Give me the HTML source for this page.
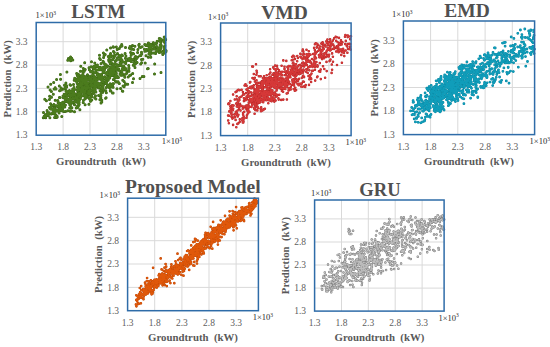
<!DOCTYPE html><html><head><meta charset="utf-8"><style>html,body{margin:0;padding:0;background:#fff;width:550px;height:347px;overflow:hidden}svg{display:block}text{font-family:"Liberation Serif",serif}</style></head><body>
<svg width="550" height="347" viewBox="0 0 550 347">
<g><path d="M63.1 22.5V135.2M36.2 111.8H165.8M90.0 22.5V135.2M36.2 88.4H165.8M116.9 22.5V135.2M36.2 65.1H165.8M143.8 22.5V135.2M36.2 41.7H165.8" stroke="#d9d9d9" stroke-width="1" fill="none"/><path d="M115.9 75.4h0M104.0 69.3h0M110.3 55.9h0M49.0 112.8h0M85.5 83.8h0M90.3 84.7h0M120.2 63.6h0M115.2 69.1h0M91.7 83.3h0M45.7 117.7h0M105.6 73.2h0M102.1 77.4h0M148.2 68.6h0M137.6 57.3h0M58.0 101.2h0M95.6 92.0h0M65.4 105.1h0M164.8 45.7h0M78.7 90.2h0M156.3 51.7h0M149.3 50.8h0M135.6 56.4h0M122.3 91.1h0M113.5 47.2h0M95.9 92.0h0M91.4 76.1h0M81.4 85.2h0M71.9 107.8h0M121.1 65.0h0M112.3 68.4h0M80.8 90.4h0M110.8 70.9h0M113.5 51.4h0M92.1 71.2h0M66.0 91.2h0M49.6 96.3h0M80.2 79.6h0M155.7 43.6h0M55.6 115.1h0M72.7 97.9h0M99.1 84.3h0M110.1 73.9h0M70.4 104.8h0M79.2 104.5h0M99.7 78.2h0M56.6 116.0h0M125.2 62.6h0M73.5 84.6h0M106.3 83.6h0M97.4 83.0h0M89.9 78.0h0M119.6 70.9h0M85.9 97.1h0M70.5 110.9h0M79.2 85.9h0M74.0 87.4h0M73.0 93.3h0M59.9 97.5h0M77.5 101.2h0M108.0 78.0h0M123.8 61.9h0M69.8 93.2h0M55.3 111.5h0M78.3 74.3h0M90.7 79.7h0M65.4 88.1h0M77.0 106.6h0M90.0 87.9h0M137.1 62.5h0M112.8 64.7h0M130.2 60.1h0M99.6 76.3h0M110.7 73.2h0M154.7 63.9h0M76.1 97.9h0M94.3 83.5h0M114.9 69.7h0M110.9 56.9h0M44.1 116.3h0M161.7 39.7h0M91.0 82.5h0M160.4 47.2h0M57.2 109.9h0M76.4 81.3h0M120.2 65.5h0M67.7 92.5h0M43.3 117.7h0M89.3 94.4h0M84.4 95.6h0M65.6 99.2h0M82.0 89.3h0M118.3 65.6h0M156.1 43.6h0M101.5 84.8h0M59.6 103.2h0M67.9 100.6h0M90.0 97.5h0M67.8 110.8h0M112.1 67.1h0M130.6 52.5h0M92.3 84.8h0M83.5 100.2h0M110.6 53.6h0M84.6 94.9h0M99.8 74.5h0M95.4 86.1h0M79.2 79.8h0M46.5 115.6h0M46.4 100.7h0M115.3 61.3h0M88.6 87.7h0M50.5 109.1h0M77.3 80.6h0M99.0 85.0h0M77.7 80.6h0M90.9 80.1h0M79.0 80.8h0M94.5 87.4h0M101.9 84.7h0M110.9 86.2h0M50.9 97.0h0M116.2 74.0h0M113.4 79.6h0M75.2 95.0h0M87.5 74.8h0M77.1 93.8h0M68.8 91.8h0M43.5 112.6h0M94.2 90.3h0M85.8 95.2h0M92.8 71.7h0M94.3 73.1h0M99.5 55.2h0M84.6 81.8h0M71.4 95.3h0M114.6 55.2h0M135.4 60.0h0M70.8 95.7h0M94.4 86.5h0M54.7 109.7h0M134.4 64.8h0M160.1 40.3h0M94.9 68.8h0M103.6 69.3h0M86.1 76.8h0M98.5 87.9h0M110.1 83.8h0M105.0 65.6h0M109.1 58.0h0M102.9 70.7h0M93.4 67.0h0M108.4 78.9h0M77.3 99.9h0M111.0 75.6h0M164.0 39.9h0M142.8 59.3h0M114.6 69.0h0M77.2 83.5h0M84.4 93.3h0M112.8 72.8h0M75.3 96.1h0M75.6 97.0h0M124.9 67.8h0M150.9 44.3h0M134.9 46.3h0M101.1 63.5h0M112.6 69.8h0M82.0 78.9h0M94.6 90.2h0M62.0 105.2h0M99.5 68.1h0M91.2 90.4h0M87.6 77.8h0M103.9 62.5h0M91.3 95.8h0M104.5 69.8h0M107.0 74.5h0M164.5 47.9h0M99.3 85.0h0M82.7 92.3h0M106.8 49.9h0M96.7 79.0h0M125.6 74.1h0M106.4 77.8h0M99.9 99.7h0M82.2 77.9h0M53.4 108.6h0M95.7 72.6h0M91.8 80.4h0M161.2 52.1h0M70.4 96.6h0M84.1 80.4h0M141.6 54.1h0M122.0 61.6h0M83.2 102.4h0M106.2 64.8h0M70.7 92.0h0M154.8 49.1h0M83.9 77.2h0M53.7 82.6h0M84.2 71.3h0M109.3 72.0h0M53.3 110.4h0M88.2 82.9h0M101.1 90.3h0M84.9 96.4h0M77.2 99.8h0M115.0 76.2h0M60.2 109.4h0M121.9 59.8h0M83.0 79.2h0M109.5 87.7h0M156.7 46.6h0M122.6 69.4h0M109.1 85.0h0M95.7 79.9h0M83.8 80.5h0M77.4 80.9h0M70.6 100.2h0M55.0 113.2h0M113.0 69.2h0M113.9 63.9h0M163.8 41.6h0M113.1 87.3h0M74.7 93.7h0M81.0 83.8h0M78.5 99.6h0M132.4 53.7h0M70.6 85.3h0M103.9 72.2h0M51.5 97.3h0M82.3 91.7h0M133.7 49.6h0M124.3 75.0h0M109.3 61.6h0M89.7 78.5h0M95.4 87.1h0M151.4 46.5h0M117.7 65.7h0M101.8 68.0h0M91.8 83.1h0M84.3 86.7h0M59.3 105.0h0M113.4 83.7h0M63.6 89.1h0M159.8 48.7h0M140.9 55.5h0M140.7 63.9h0M46.7 114.1h0M77.4 89.7h0M114.1 71.3h0M69.2 100.8h0M108.6 69.8h0M95.3 79.4h0M94.6 84.0h0M122.4 55.7h0M133.3 65.3h0M156.9 49.9h0M150.3 54.4h0M91.6 96.7h0M50.5 106.9h0M103.6 57.6h0M114.3 52.5h0M120.7 74.9h0M95.6 82.0h0M66.7 87.0h0M60.5 106.4h0M94.2 81.5h0M73.9 94.5h0M56.0 88.9h0M61.7 102.9h0M122.0 65.9h0M95.8 79.2h0M48.4 113.2h0M130.5 48.7h0M54.6 117.6h0M85.5 87.9h0M130.3 57.9h0M87.1 89.0h0M80.3 71.3h0M65.5 98.2h0M69.4 90.6h0M128.2 77.0h0M56.3 105.7h0M120.8 56.6h0M79.7 89.7h0M129.1 60.6h0M47.1 110.6h0M136.6 58.4h0M131.3 49.3h0M98.2 83.8h0M104.6 67.9h0M97.6 73.8h0M74.3 102.1h0M77.3 75.6h0M79.2 104.6h0M58.1 102.8h0M70.8 102.0h0M102.4 87.6h0M159.3 52.4h0M85.5 90.4h0M100.1 90.8h0M56.8 111.0h0M149.2 53.5h0M101.1 63.5h0M115.2 55.3h0M91.1 82.9h0M118.5 82.5h0M138.8 45.1h0M63.0 97.4h0M110.3 90.9h0M75.2 101.1h0M127.7 84.2h0M94.8 76.8h0M62.7 106.7h0M99.6 84.4h0M100.4 87.7h0M137.6 52.4h0M80.3 94.0h0M90.6 94.0h0M51.2 114.1h0M102.7 69.3h0M104.6 64.0h0M66.3 91.3h0M107.0 73.3h0M61.8 110.7h0M129.4 59.9h0M121.9 55.0h0M56.4 110.2h0M96.1 83.1h0M88.3 97.4h0M146.3 50.9h0M122.8 68.1h0M92.1 86.3h0M85.5 88.7h0M70.0 84.7h0M77.6 86.4h0M135.0 67.5h0M120.8 75.2h0M164.8 38.0h0M62.3 102.7h0M149.8 46.7h0M84.1 76.1h0M128.7 65.5h0M139.8 55.8h0M132.7 73.6h0M100.0 69.1h0M130.7 75.0h0M97.1 79.8h0M120.5 57.1h0M74.5 104.8h0M128.3 58.7h0M91.5 61.8h0M54.9 109.7h0M160.2 49.6h0M97.6 73.6h0M67.5 101.7h0M55.2 87.7h0M92.6 67.3h0M58.7 105.1h0M89.7 91.8h0M148.4 43.0h0M149.0 43.6h0M59.1 112.9h0M107.5 77.5h0M118.3 77.4h0M82.5 81.6h0M57.2 116.9h0M84.1 81.2h0M82.2 84.5h0M143.9 76.6h0M66.2 98.0h0M96.0 78.8h0M90.7 100.4h0M71.3 99.3h0M62.7 108.7h0M54.3 112.2h0M133.9 62.6h0M111.8 72.6h0M150.3 45.5h0M88.5 86.1h0M97.9 70.0h0M53.7 113.7h0M101.3 87.8h0M99.0 87.4h0M59.4 110.9h0M80.3 82.1h0M159.8 48.2h0M94.7 89.1h0M97.4 65.1h0M124.4 69.7h0M116.6 68.2h0M82.5 84.6h0M125.4 58.3h0M120.4 74.1h0M100.4 59.5h0M53.0 110.1h0M69.7 107.9h0M73.6 91.5h0M70.3 102.5h0M136.7 62.2h0M102.8 81.9h0M110.0 69.0h0M95.7 84.3h0M78.5 88.4h0M54.9 105.5h0M109.8 78.0h0M64.7 98.2h0M124.8 77.2h0M74.9 78.8h0M81.3 76.4h0M125.9 56.1h0M48.0 115.1h0M103.5 82.5h0M101.5 74.4h0M53.9 110.7h0M104.7 76.7h0M96.5 78.8h0M154.5 46.7h0M118.8 56.2h0M101.7 74.4h0M62.1 108.4h0M160.2 41.5h0M159.1 49.6h0M105.2 66.0h0M101.8 100.0h0M150.7 48.6h0M66.2 90.5h0M102.8 79.2h0M117.2 49.5h0M80.4 89.7h0M113.2 68.3h0M82.1 87.2h0M120.6 46.4h0M86.2 81.2h0M108.0 86.7h0M71.6 91.0h0M96.5 69.9h0M92.9 74.9h0M99.6 58.4h0M122.0 70.4h0M85.4 81.1h0M103.5 68.0h0M92.0 82.4h0M109.7 60.2h0M112.9 69.8h0M86.9 87.4h0M94.8 91.7h0M83.9 92.6h0M102.5 87.6h0M47.5 113.1h0M83.9 87.6h0M102.8 92.3h0M107.4 84.9h0M68.8 102.8h0M89.0 94.4h0M112.8 73.5h0M133.5 78.7h0M69.6 92.5h0M107.5 73.3h0M144.9 51.2h0M90.3 94.0h0M95.6 81.1h0M79.5 89.1h0M103.7 70.1h0M129.0 68.4h0M77.4 98.6h0M92.2 81.8h0M85.9 77.8h0M79.4 84.3h0M69.6 99.2h0M110.8 69.4h0M113.2 72.0h0M72.8 89.6h0M110.6 84.5h0M67.6 99.3h0M84.7 62.7h0M114.4 66.9h0M93.4 93.6h0M120.0 74.1h0M80.5 79.6h0M79.4 86.9h0M112.8 59.6h0M70.4 107.8h0M85.1 104.8h0M60.6 79.3h0M116.7 66.3h0M110.2 60.3h0M87.7 83.4h0M94.9 78.1h0M112.7 75.4h0M152.7 53.0h0M96.5 82.2h0M134.9 57.4h0M79.0 104.4h0M154.4 43.9h0M84.4 83.7h0M117.1 77.4h0M72.4 93.1h0M77.9 77.0h0M122.9 68.8h0M82.8 88.0h0M56.7 117.4h0M89.4 69.8h0M106.3 92.8h0M66.5 90.9h0M63.0 96.0h0M90.5 101.3h0M113.5 65.5h0M73.1 95.8h0M89.5 97.9h0M83.7 81.7h0M109.8 75.8h0M100.6 69.7h0M148.0 45.5h0M102.3 88.3h0M84.2 95.0h0M66.4 97.9h0M55.2 100.3h0M157.8 49.1h0M52.7 112.8h0M114.6 78.2h0M162.8 54.4h0M160.7 42.3h0M78.2 77.8h0M70.4 104.6h0M79.4 75.3h0M164.7 42.5h0M77.6 107.5h0M107.1 72.2h0M112.7 84.9h0M131.1 55.2h0M112.8 83.7h0M89.5 90.0h0M142.1 46.8h0M83.1 90.2h0M95.9 70.9h0M117.3 76.3h0M58.8 103.7h0M108.9 61.1h0M112.3 56.1h0M108.2 80.3h0M116.4 60.2h0M91.4 82.7h0M94.3 83.2h0M154.1 49.0h0M121.1 60.1h0M46.6 115.3h0M106.1 73.3h0M95.9 99.1h0M105.6 83.5h0M95.6 98.7h0M116.8 65.6h0M49.9 117.8h0M85.6 90.4h0M85.4 98.5h0M104.0 55.8h0M62.0 109.4h0M78.8 84.8h0M94.5 88.2h0M81.5 95.4h0M92.2 72.2h0M83.6 79.8h0M157.6 50.7h0M54.3 108.1h0M100.7 78.0h0M96.0 86.4h0M87.4 93.5h0M101.0 93.6h0M93.9 76.4h0M74.8 102.1h0M78.2 96.7h0M62.8 102.2h0M102.9 77.2h0M95.9 87.1h0M105.7 79.2h0M100.8 97.4h0M74.1 94.9h0M133.0 59.5h0M101.7 75.9h0M119.3 83.5h0M164.6 53.1h0M59.6 90.7h0M163.2 51.1h0M157.1 41.2h0M80.8 91.2h0M108.2 66.2h0M93.1 81.5h0M133.6 53.8h0M77.1 82.9h0M97.3 74.8h0M116.3 73.3h0M90.1 90.6h0M100.2 67.3h0M115.2 63.8h0M110.3 90.4h0M71.2 94.8h0M80.8 66.3h0M97.9 85.0h0M95.5 95.8h0M85.6 92.1h0M83.0 73.3h0M80.8 92.6h0M124.1 81.5h0M101.0 103.1h0M103.1 86.4h0M76.9 82.6h0M115.5 81.2h0M165.5 39.2h0M73.8 92.8h0M119.2 55.6h0M89.4 92.2h0M59.4 97.6h0M49.4 99.5h0M125.7 63.4h0M85.3 92.2h0M118.0 81.7h0M78.6 93.9h0M94.1 67.6h0M85.5 83.7h0M72.2 102.9h0M108.6 70.4h0M51.6 109.1h0M76.4 98.7h0M51.1 106.2h0M164.6 51.3h0M77.6 96.9h0M85.6 81.8h0M80.3 93.2h0M150.8 57.2h0M109.2 61.6h0M63.1 107.2h0M112.5 92.9h0M117.0 88.8h0M78.3 106.3h0M91.4 90.2h0M57.8 111.1h0M74.6 98.0h0M65.5 95.3h0M76.5 101.5h0M95.6 91.5h0M123.0 86.1h0M130.0 46.4h0M95.2 77.4h0M92.7 92.0h0M87.2 83.1h0M84.9 92.2h0M72.2 102.7h0M81.6 88.3h0M60.2 110.0h0M92.1 82.3h0M116.3 46.9h0M82.3 75.3h0M100.0 76.8h0M97.7 75.5h0M146.7 49.6h0M63.6 111.4h0M139.2 44.2h0M150.2 47.3h0M110.7 84.9h0M76.7 73.4h0M125.2 84.7h0M103.4 90.1h0M83.3 68.4h0M116.8 70.3h0M72.4 102.5h0M80.5 92.9h0M88.0 93.1h0M126.7 73.3h0M74.5 111.7h0M67.8 95.9h0M108.7 77.6h0M105.7 81.1h0M79.0 93.2h0M122.0 46.1h0M89.0 91.4h0M110.5 75.7h0M89.1 76.6h0M62.7 102.8h0M102.3 82.0h0M157.1 47.2h0M77.9 103.2h0M146.6 44.9h0M69.8 104.7h0M116.0 82.1h0M84.5 94.1h0M90.6 71.7h0M64.2 105.1h0M79.2 95.0h0M131.2 61.6h0M74.7 78.2h0M155.9 52.3h0M129.7 75.4h0M91.8 99.9h0M117.4 58.0h0M104.5 66.9h0M119.3 48.6h0M78.6 104.0h0M141.6 62.7h0M117.5 53.6h0M74.2 80.3h0M125.1 53.4h0M88.9 79.7h0M113.7 65.8h0M148.3 57.3h0M64.2 94.2h0M99.1 67.6h0M101.7 68.8h0M121.7 55.1h0M145.2 63.0h0M90.0 93.7h0M96.3 66.3h0M98.5 69.7h0M103.0 79.6h0M95.4 72.6h0M91.8 96.1h0M110.4 56.6h0M64.8 95.6h0M108.3 56.6h0M68.5 99.5h0M139.4 46.8h0M125.5 47.4h0M105.5 83.5h0M81.9 78.6h0M67.0 96.2h0M164.7 49.3h0M100.7 83.5h0M84.9 99.0h0M76.2 108.0h0M113.3 68.7h0M122.3 73.5h0M101.7 80.6h0M163.9 51.6h0M83.2 90.8h0M82.3 82.8h0M149.3 47.4h0M110.8 66.9h0M105.2 54.4h0M165.8 50.4h0M165.7 39.7h0M132.8 53.2h0M91.4 80.6h0M158.0 47.7h0M109.1 74.6h0M110.8 90.8h0M98.9 78.9h0M79.4 78.0h0M79.9 109.7h0M153.3 42.7h0M78.5 76.9h0M122.1 69.2h0M80.9 83.6h0M111.4 62.5h0M128.9 67.4h0M122.1 75.2h0M163.9 47.3h0M69.4 90.6h0M73.4 98.9h0M64.8 85.6h0M71.0 91.5h0M165.4 52.1h0M91.1 66.8h0M154.1 53.1h0M65.8 101.5h0M72.8 89.1h0M54.9 108.3h0M69.5 95.0h0M72.8 95.2h0M94.0 66.2h0M64.9 101.4h0M59.3 85.9h0M91.4 78.2h0M106.5 81.7h0M49.5 113.8h0M114.6 56.2h0M62.1 102.9h0M95.3 85.2h0M64.5 85.2h0M78.8 80.6h0M82.6 71.2h0M75.7 80.0h0M70.4 105.2h0M103.2 72.6h0M152.4 45.5h0M58.3 110.5h0M69.3 99.7h0M59.1 109.1h0M87.7 85.3h0M153.2 46.2h0M93.9 78.7h0M51.4 91.4h0M98.5 75.6h0M100.7 77.5h0M87.2 80.1h0M45.5 116.1h0M145.9 45.6h0M104.1 71.4h0M97.7 85.3h0M78.4 89.2h0M93.4 80.0h0M80.6 83.4h0M103.4 84.9h0M148.9 54.0h0M70.9 99.8h0M156.7 43.2h0M103.0 67.5h0M118.4 77.5h0M148.8 49.2h0M166.1 50.8h0M150.0 47.1h0M161.3 45.4h0M121.4 73.3h0M91.3 86.2h0M130.8 47.6h0M60.9 103.6h0M83.7 90.6h0M142.3 76.6h0M93.4 68.8h0M141.5 52.2h0M104.3 72.2h0M50.1 89.9h0M89.3 94.6h0M118.6 68.8h0M53.3 94.2h0M110.7 84.9h0M125.8 62.2h0M160.4 38.8h0M110.6 72.1h0M77.7 96.2h0M63.8 105.2h0M80.8 92.0h0M80.1 97.2h0M80.2 86.3h0M57.5 106.4h0M119.6 60.1h0M97.3 83.9h0M146.7 45.5h0M106.5 82.5h0M79.9 86.1h0M166.0 51.5h0M129.3 48.1h0M103.1 61.2h0M152.1 49.3h0M114.2 68.3h0M114.0 58.0h0M115.4 69.5h0M106.2 87.5h0M149.1 51.3h0M107.1 78.6h0M110.1 73.3h0M88.1 91.0h0M99.1 84.6h0M67.9 99.5h0M82.8 95.7h0M49.5 107.5h0M80.2 78.4h0M95.2 89.2h0M155.6 53.6h0M103.0 72.5h0M65.9 83.0h0M113.7 73.7h0M98.6 95.4h0M100.8 79.0h0M102.0 79.7h0M110.1 63.1h0M89.6 98.9h0M84.5 82.1h0M97.3 66.5h0M149.1 47.5h0M77.7 90.9h0M80.1 94.1h0M70.2 111.3h0M94.8 63.0h0M70.2 98.1h0M100.9 95.4h0M76.6 101.7h0M73.8 93.5h0M115.8 76.9h0M94.6 97.6h0M160.7 44.4h0M86.1 79.3h0M94.3 85.0h0M117.0 64.7h0M150.9 46.9h0M79.1 102.3h0M106.4 67.3h0M73.3 89.2h0M45.1 115.0h0M99.4 84.0h0M150.5 51.8h0M90.0 81.9h0M93.4 85.7h0M159.6 41.0h0M105.8 90.7h0M85.1 78.8h0M131.8 59.7h0M58.5 106.7h0M66.5 93.7h0M98.9 86.3h0M110.5 47.9h0M53.9 104.4h0M140.5 47.5h0M114.3 69.7h0M87.1 83.8h0M137.9 49.6h0M126.5 60.8h0M129.0 71.3h0M112.2 72.3h0M101.4 77.9h0M108.8 86.9h0M61.8 116.5h0M71.9 94.3h0M93.3 88.6h0M122.8 80.2h0M160.8 48.4h0M108.7 59.9h0M150.9 47.9h0M86.1 85.5h0M146.4 49.5h0M63.8 102.7h0M110.3 63.8h0M136.9 57.6h0M146.0 55.7h0M61.1 87.9h0M91.4 75.9h0M71.7 96.0h0M71.4 99.4h0M124.1 86.7h0M94.6 78.4h0M160.1 45.1h0M123.6 66.0h0M104.0 68.2h0M103.3 89.2h0M71.8 111.1h0M84.3 80.2h0M144.4 49.2h0M121.5 62.5h0M73.5 89.0h0M141.5 59.6h0M81.4 91.2h0M94.8 90.0h0M110.8 74.8h0M83.1 77.4h0M106.3 79.0h0M77.3 86.8h0M64.8 107.0h0M80.7 93.6h0M61.3 90.1h0M113.2 75.0h0M120.6 58.7h0M150.1 48.1h0M48.2 115.6h0M98.8 78.5h0M98.3 83.1h0M131.7 48.5h0M114.9 55.2h0M114.7 72.6h0M50.6 103.8h0M77.4 78.9h0M57.0 116.1h0M65.4 111.6h0M81.7 80.6h0M71.6 102.5h0M116.2 68.9h0M73.4 93.8h0M98.0 76.7h0M80.4 98.7h0M83.5 81.2h0M135.7 63.5h0M111.8 71.2h0M86.7 95.8h0M54.1 89.1h0M91.2 85.3h0M80.7 96.7h0M79.3 100.5h0M158.0 49.1h0M88.1 87.9h0M78.2 86.4h0M77.9 99.1h0M125.9 68.7h0M85.2 69.5h0M120.0 63.0h0M77.7 87.9h0M111.3 71.7h0M60.1 108.0h0M52.7 105.6h0M84.0 88.3h0M81.2 85.1h0M57.8 100.4h0M110.2 54.8h0M79.6 80.4h0M95.1 66.4h0M95.8 65.6h0M53.0 109.2h0M66.5 85.7h0M92.9 89.3h0M80.2 97.1h0M126.6 70.4h0M74.7 89.5h0M89.0 67.7h0M161.0 72.5h0M154.5 73.9h0M147.5 68.8h0M140.0 78.6h0M132.5 82.4h0M125.5 83.8h0M120.6 88.4h0M113.1 93.1h0M105.6 98.3h0M112.0 87.0h0M122.8 91.2h0M106.1 97.8h0M101.8 102.0h0M88.9 104.3h0M44.8 99.2h0M48.0 87.0h0M50.7 84.2h0M56.6 79.6h0M60.4 74.4h0M66.9 72.1h0M72.8 59.9h0M103.4 52.9h0M113.1 46.8h0M121.7 44.5h0M132.5 45.4h0M144.8 44.5h0M159.3 38.4h0M164.2 37.0h0M71.7 58.3h0M68.4 58.6h0M67.8 60.2h0M69.8 59.8h0M70.6 56.9h0M70.8 57.4h0M70.7 60.7h0M70.9 59.2h0" stroke="#3c6614" stroke-width="3.0" stroke-linecap="round" fill="none"/><path d="M115.9 75.4h0M104.0 69.3h0M110.3 55.9h0M49.0 112.8h0M85.5 83.8h0M90.3 84.7h0M120.2 63.6h0M115.2 69.1h0M91.7 83.3h0M45.7 117.7h0M105.6 73.2h0M102.1 77.4h0M148.2 68.6h0M137.6 57.3h0M58.0 101.2h0M95.6 92.0h0M65.4 105.1h0M164.8 45.7h0M78.7 90.2h0M156.3 51.7h0M149.3 50.8h0M135.6 56.4h0M122.3 91.1h0M113.5 47.2h0M95.9 92.0h0M91.4 76.1h0M81.4 85.2h0M71.9 107.8h0M121.1 65.0h0M112.3 68.4h0M80.8 90.4h0M110.8 70.9h0M113.5 51.4h0M92.1 71.2h0M66.0 91.2h0M49.6 96.3h0M80.2 79.6h0M155.7 43.6h0M55.6 115.1h0M72.7 97.9h0M99.1 84.3h0M110.1 73.9h0M70.4 104.8h0M79.2 104.5h0M99.7 78.2h0M56.6 116.0h0M125.2 62.6h0M73.5 84.6h0M106.3 83.6h0M97.4 83.0h0M89.9 78.0h0M119.6 70.9h0M85.9 97.1h0M70.5 110.9h0M79.2 85.9h0M74.0 87.4h0M73.0 93.3h0M59.9 97.5h0M77.5 101.2h0M108.0 78.0h0M123.8 61.9h0M69.8 93.2h0M55.3 111.5h0M78.3 74.3h0M90.7 79.7h0M65.4 88.1h0M77.0 106.6h0M90.0 87.9h0M137.1 62.5h0M112.8 64.7h0M130.2 60.1h0M99.6 76.3h0M110.7 73.2h0M154.7 63.9h0M76.1 97.9h0M94.3 83.5h0M114.9 69.7h0M110.9 56.9h0M44.1 116.3h0M161.7 39.7h0M91.0 82.5h0M160.4 47.2h0M57.2 109.9h0M76.4 81.3h0M120.2 65.5h0M67.7 92.5h0M43.3 117.7h0M89.3 94.4h0M84.4 95.6h0M65.6 99.2h0M82.0 89.3h0M118.3 65.6h0M156.1 43.6h0M101.5 84.8h0M59.6 103.2h0M67.9 100.6h0M90.0 97.5h0M67.8 110.8h0M112.1 67.1h0M130.6 52.5h0M92.3 84.8h0M83.5 100.2h0M110.6 53.6h0M84.6 94.9h0M99.8 74.5h0M95.4 86.1h0M79.2 79.8h0M46.5 115.6h0M46.4 100.7h0M115.3 61.3h0M88.6 87.7h0M50.5 109.1h0M77.3 80.6h0M99.0 85.0h0M77.7 80.6h0M90.9 80.1h0M79.0 80.8h0M94.5 87.4h0M101.9 84.7h0M110.9 86.2h0M50.9 97.0h0M116.2 74.0h0M113.4 79.6h0M75.2 95.0h0M87.5 74.8h0M77.1 93.8h0M68.8 91.8h0M43.5 112.6h0M94.2 90.3h0M85.8 95.2h0M92.8 71.7h0M94.3 73.1h0M99.5 55.2h0M84.6 81.8h0M71.4 95.3h0M114.6 55.2h0M135.4 60.0h0M70.8 95.7h0M94.4 86.5h0M54.7 109.7h0M134.4 64.8h0M160.1 40.3h0M94.9 68.8h0M103.6 69.3h0M86.1 76.8h0M98.5 87.9h0M110.1 83.8h0M105.0 65.6h0M109.1 58.0h0M102.9 70.7h0M93.4 67.0h0M108.4 78.9h0M77.3 99.9h0M111.0 75.6h0M164.0 39.9h0M142.8 59.3h0M114.6 69.0h0M77.2 83.5h0M84.4 93.3h0M112.8 72.8h0M75.3 96.1h0M75.6 97.0h0M124.9 67.8h0M150.9 44.3h0M134.9 46.3h0M101.1 63.5h0M112.6 69.8h0M82.0 78.9h0M94.6 90.2h0M62.0 105.2h0M99.5 68.1h0M91.2 90.4h0M87.6 77.8h0M103.9 62.5h0M91.3 95.8h0M104.5 69.8h0M107.0 74.5h0M164.5 47.9h0M99.3 85.0h0M82.7 92.3h0M106.8 49.9h0M96.7 79.0h0M125.6 74.1h0M106.4 77.8h0M99.9 99.7h0M82.2 77.9h0M53.4 108.6h0M95.7 72.6h0M91.8 80.4h0M161.2 52.1h0M70.4 96.6h0M84.1 80.4h0M141.6 54.1h0M122.0 61.6h0M83.2 102.4h0M106.2 64.8h0M70.7 92.0h0M154.8 49.1h0M83.9 77.2h0M53.7 82.6h0M84.2 71.3h0M109.3 72.0h0M53.3 110.4h0M88.2 82.9h0M101.1 90.3h0M84.9 96.4h0M77.2 99.8h0M115.0 76.2h0M60.2 109.4h0M121.9 59.8h0M83.0 79.2h0M109.5 87.7h0M156.7 46.6h0M122.6 69.4h0M109.1 85.0h0M95.7 79.9h0M83.8 80.5h0M77.4 80.9h0M70.6 100.2h0M55.0 113.2h0M113.0 69.2h0M113.9 63.9h0M163.8 41.6h0M113.1 87.3h0M74.7 93.7h0M81.0 83.8h0M78.5 99.6h0M132.4 53.7h0M70.6 85.3h0M103.9 72.2h0M51.5 97.3h0M82.3 91.7h0M133.7 49.6h0M124.3 75.0h0M109.3 61.6h0M89.7 78.5h0M95.4 87.1h0M151.4 46.5h0M117.7 65.7h0M101.8 68.0h0M91.8 83.1h0M84.3 86.7h0M59.3 105.0h0M113.4 83.7h0M63.6 89.1h0M159.8 48.7h0M140.9 55.5h0M140.7 63.9h0M46.7 114.1h0M77.4 89.7h0M114.1 71.3h0M69.2 100.8h0M108.6 69.8h0M95.3 79.4h0M94.6 84.0h0M122.4 55.7h0M133.3 65.3h0M156.9 49.9h0M150.3 54.4h0M91.6 96.7h0M50.5 106.9h0M103.6 57.6h0M114.3 52.5h0M120.7 74.9h0M95.6 82.0h0M66.7 87.0h0M60.5 106.4h0M94.2 81.5h0M73.9 94.5h0M56.0 88.9h0M61.7 102.9h0M122.0 65.9h0M95.8 79.2h0M48.4 113.2h0M130.5 48.7h0M54.6 117.6h0M85.5 87.9h0M130.3 57.9h0M87.1 89.0h0M80.3 71.3h0M65.5 98.2h0M69.4 90.6h0M128.2 77.0h0M56.3 105.7h0M120.8 56.6h0M79.7 89.7h0M129.1 60.6h0M47.1 110.6h0M136.6 58.4h0M131.3 49.3h0M98.2 83.8h0M104.6 67.9h0M97.6 73.8h0M74.3 102.1h0M77.3 75.6h0M79.2 104.6h0M58.1 102.8h0M70.8 102.0h0M102.4 87.6h0M159.3 52.4h0M85.5 90.4h0M100.1 90.8h0M56.8 111.0h0M149.2 53.5h0M101.1 63.5h0M115.2 55.3h0M91.1 82.9h0M118.5 82.5h0M138.8 45.1h0M63.0 97.4h0M110.3 90.9h0M75.2 101.1h0M127.7 84.2h0M94.8 76.8h0M62.7 106.7h0M99.6 84.4h0M100.4 87.7h0M137.6 52.4h0M80.3 94.0h0M90.6 94.0h0M51.2 114.1h0M102.7 69.3h0M104.6 64.0h0M66.3 91.3h0M107.0 73.3h0M61.8 110.7h0M129.4 59.9h0M121.9 55.0h0M56.4 110.2h0M96.1 83.1h0M88.3 97.4h0M146.3 50.9h0M122.8 68.1h0M92.1 86.3h0M85.5 88.7h0M70.0 84.7h0M77.6 86.4h0M135.0 67.5h0M120.8 75.2h0M164.8 38.0h0M62.3 102.7h0M149.8 46.7h0M84.1 76.1h0M128.7 65.5h0M139.8 55.8h0M132.7 73.6h0M100.0 69.1h0M130.7 75.0h0M97.1 79.8h0M120.5 57.1h0M74.5 104.8h0M128.3 58.7h0M91.5 61.8h0M54.9 109.7h0M160.2 49.6h0M97.6 73.6h0M67.5 101.7h0M55.2 87.7h0M92.6 67.3h0M58.7 105.1h0M89.7 91.8h0M148.4 43.0h0M149.0 43.6h0M59.1 112.9h0M107.5 77.5h0M118.3 77.4h0M82.5 81.6h0M57.2 116.9h0M84.1 81.2h0M82.2 84.5h0M143.9 76.6h0M66.2 98.0h0M96.0 78.8h0M90.7 100.4h0M71.3 99.3h0M62.7 108.7h0M54.3 112.2h0M133.9 62.6h0M111.8 72.6h0M150.3 45.5h0M88.5 86.1h0M97.9 70.0h0M53.7 113.7h0M101.3 87.8h0M99.0 87.4h0M59.4 110.9h0M80.3 82.1h0M159.8 48.2h0M94.7 89.1h0M97.4 65.1h0M124.4 69.7h0M116.6 68.2h0M82.5 84.6h0M125.4 58.3h0M120.4 74.1h0M100.4 59.5h0M53.0 110.1h0M69.7 107.9h0M73.6 91.5h0M70.3 102.5h0M136.7 62.2h0M102.8 81.9h0M110.0 69.0h0M95.7 84.3h0M78.5 88.4h0M54.9 105.5h0M109.8 78.0h0M64.7 98.2h0M124.8 77.2h0M74.9 78.8h0M81.3 76.4h0M125.9 56.1h0M48.0 115.1h0M103.5 82.5h0M101.5 74.4h0M53.9 110.7h0M104.7 76.7h0M96.5 78.8h0M154.5 46.7h0M118.8 56.2h0M101.7 74.4h0M62.1 108.4h0M160.2 41.5h0M159.1 49.6h0M105.2 66.0h0M101.8 100.0h0M150.7 48.6h0M66.2 90.5h0M102.8 79.2h0M117.2 49.5h0M80.4 89.7h0M113.2 68.3h0M82.1 87.2h0M120.6 46.4h0M86.2 81.2h0M108.0 86.7h0M71.6 91.0h0M96.5 69.9h0M92.9 74.9h0M99.6 58.4h0M122.0 70.4h0M85.4 81.1h0M103.5 68.0h0M92.0 82.4h0M109.7 60.2h0M112.9 69.8h0M86.9 87.4h0M94.8 91.7h0M83.9 92.6h0M102.5 87.6h0M47.5 113.1h0M83.9 87.6h0M102.8 92.3h0M107.4 84.9h0M68.8 102.8h0M89.0 94.4h0M112.8 73.5h0M133.5 78.7h0M69.6 92.5h0M107.5 73.3h0M144.9 51.2h0M90.3 94.0h0M95.6 81.1h0M79.5 89.1h0M103.7 70.1h0M129.0 68.4h0M77.4 98.6h0M92.2 81.8h0M85.9 77.8h0M79.4 84.3h0M69.6 99.2h0M110.8 69.4h0M113.2 72.0h0M72.8 89.6h0M110.6 84.5h0M67.6 99.3h0M84.7 62.7h0M114.4 66.9h0M93.4 93.6h0M120.0 74.1h0M80.5 79.6h0M79.4 86.9h0M112.8 59.6h0M70.4 107.8h0M85.1 104.8h0M60.6 79.3h0M116.7 66.3h0M110.2 60.3h0M87.7 83.4h0M94.9 78.1h0M112.7 75.4h0M152.7 53.0h0M96.5 82.2h0M134.9 57.4h0M79.0 104.4h0M154.4 43.9h0M84.4 83.7h0M117.1 77.4h0M72.4 93.1h0M77.9 77.0h0M122.9 68.8h0M82.8 88.0h0M56.7 117.4h0M89.4 69.8h0M106.3 92.8h0M66.5 90.9h0M63.0 96.0h0M90.5 101.3h0M113.5 65.5h0M73.1 95.8h0M89.5 97.9h0M83.7 81.7h0M109.8 75.8h0M100.6 69.7h0M148.0 45.5h0M102.3 88.3h0M84.2 95.0h0M66.4 97.9h0M55.2 100.3h0M157.8 49.1h0M52.7 112.8h0M114.6 78.2h0M162.8 54.4h0M160.7 42.3h0M78.2 77.8h0M70.4 104.6h0M79.4 75.3h0M164.7 42.5h0M77.6 107.5h0M107.1 72.2h0M112.7 84.9h0M131.1 55.2h0M112.8 83.7h0M89.5 90.0h0M142.1 46.8h0M83.1 90.2h0M95.9 70.9h0M117.3 76.3h0M58.8 103.7h0M108.9 61.1h0M112.3 56.1h0M108.2 80.3h0M116.4 60.2h0M91.4 82.7h0M94.3 83.2h0M154.1 49.0h0M121.1 60.1h0M46.6 115.3h0M106.1 73.3h0M95.9 99.1h0M105.6 83.5h0M95.6 98.7h0M116.8 65.6h0M49.9 117.8h0M85.6 90.4h0M85.4 98.5h0M104.0 55.8h0M62.0 109.4h0M78.8 84.8h0M94.5 88.2h0M81.5 95.4h0M92.2 72.2h0M83.6 79.8h0M157.6 50.7h0M54.3 108.1h0M100.7 78.0h0M96.0 86.4h0M87.4 93.5h0M101.0 93.6h0M93.9 76.4h0M74.8 102.1h0M78.2 96.7h0M62.8 102.2h0M102.9 77.2h0M95.9 87.1h0M105.7 79.2h0M100.8 97.4h0M74.1 94.9h0M133.0 59.5h0M101.7 75.9h0M119.3 83.5h0M164.6 53.1h0M59.6 90.7h0M163.2 51.1h0M157.1 41.2h0M80.8 91.2h0M108.2 66.2h0M93.1 81.5h0M133.6 53.8h0M77.1 82.9h0M97.3 74.8h0M116.3 73.3h0M90.1 90.6h0M100.2 67.3h0M115.2 63.8h0M110.3 90.4h0M71.2 94.8h0M80.8 66.3h0M97.9 85.0h0M95.5 95.8h0M85.6 92.1h0M83.0 73.3h0M80.8 92.6h0M124.1 81.5h0M101.0 103.1h0M103.1 86.4h0M76.9 82.6h0M115.5 81.2h0M165.5 39.2h0M73.8 92.8h0M119.2 55.6h0M89.4 92.2h0M59.4 97.6h0M49.4 99.5h0M125.7 63.4h0M85.3 92.2h0M118.0 81.7h0M78.6 93.9h0M94.1 67.6h0M85.5 83.7h0M72.2 102.9h0M108.6 70.4h0M51.6 109.1h0M76.4 98.7h0M51.1 106.2h0M164.6 51.3h0M77.6 96.9h0M85.6 81.8h0M80.3 93.2h0M150.8 57.2h0M109.2 61.6h0M63.1 107.2h0M112.5 92.9h0M117.0 88.8h0M78.3 106.3h0M91.4 90.2h0M57.8 111.1h0M74.6 98.0h0M65.5 95.3h0M76.5 101.5h0M95.6 91.5h0M123.0 86.1h0M130.0 46.4h0M95.2 77.4h0M92.7 92.0h0M87.2 83.1h0M84.9 92.2h0M72.2 102.7h0M81.6 88.3h0M60.2 110.0h0M92.1 82.3h0M116.3 46.9h0M82.3 75.3h0M100.0 76.8h0M97.7 75.5h0M146.7 49.6h0M63.6 111.4h0M139.2 44.2h0M150.2 47.3h0M110.7 84.9h0M76.7 73.4h0M125.2 84.7h0M103.4 90.1h0M83.3 68.4h0M116.8 70.3h0M72.4 102.5h0M80.5 92.9h0M88.0 93.1h0M126.7 73.3h0M74.5 111.7h0M67.8 95.9h0M108.7 77.6h0M105.7 81.1h0M79.0 93.2h0M122.0 46.1h0M89.0 91.4h0M110.5 75.7h0M89.1 76.6h0M62.7 102.8h0M102.3 82.0h0M157.1 47.2h0M77.9 103.2h0M146.6 44.9h0M69.8 104.7h0M116.0 82.1h0M84.5 94.1h0M90.6 71.7h0M64.2 105.1h0M79.2 95.0h0M131.2 61.6h0M74.7 78.2h0M155.9 52.3h0M129.7 75.4h0M91.8 99.9h0M117.4 58.0h0M104.5 66.9h0M119.3 48.6h0M78.6 104.0h0M141.6 62.7h0M117.5 53.6h0M74.2 80.3h0M125.1 53.4h0M88.9 79.7h0M113.7 65.8h0M148.3 57.3h0M64.2 94.2h0M99.1 67.6h0M101.7 68.8h0M121.7 55.1h0M145.2 63.0h0M90.0 93.7h0M96.3 66.3h0M98.5 69.7h0M103.0 79.6h0M95.4 72.6h0M91.8 96.1h0M110.4 56.6h0M64.8 95.6h0M108.3 56.6h0M68.5 99.5h0M139.4 46.8h0M125.5 47.4h0M105.5 83.5h0M81.9 78.6h0M67.0 96.2h0M164.7 49.3h0M100.7 83.5h0M84.9 99.0h0M76.2 108.0h0M113.3 68.7h0M122.3 73.5h0M101.7 80.6h0M163.9 51.6h0M83.2 90.8h0M82.3 82.8h0M149.3 47.4h0M110.8 66.9h0M105.2 54.4h0M165.8 50.4h0M165.7 39.7h0M132.8 53.2h0M91.4 80.6h0M158.0 47.7h0M109.1 74.6h0M110.8 90.8h0M98.9 78.9h0M79.4 78.0h0M79.9 109.7h0M153.3 42.7h0M78.5 76.9h0M122.1 69.2h0M80.9 83.6h0M111.4 62.5h0M128.9 67.4h0M122.1 75.2h0M163.9 47.3h0M69.4 90.6h0M73.4 98.9h0M64.8 85.6h0M71.0 91.5h0M165.4 52.1h0M91.1 66.8h0M154.1 53.1h0M65.8 101.5h0M72.8 89.1h0M54.9 108.3h0M69.5 95.0h0M72.8 95.2h0M94.0 66.2h0M64.9 101.4h0M59.3 85.9h0M91.4 78.2h0M106.5 81.7h0M49.5 113.8h0M114.6 56.2h0M62.1 102.9h0M95.3 85.2h0M64.5 85.2h0M78.8 80.6h0M82.6 71.2h0M75.7 80.0h0M70.4 105.2h0M103.2 72.6h0M152.4 45.5h0M58.3 110.5h0M69.3 99.7h0M59.1 109.1h0M87.7 85.3h0M153.2 46.2h0M93.9 78.7h0M51.4 91.4h0M98.5 75.6h0M100.7 77.5h0M87.2 80.1h0M45.5 116.1h0M145.9 45.6h0M104.1 71.4h0M97.7 85.3h0M78.4 89.2h0M93.4 80.0h0M80.6 83.4h0M103.4 84.9h0M148.9 54.0h0M70.9 99.8h0M156.7 43.2h0M103.0 67.5h0M118.4 77.5h0M148.8 49.2h0M166.1 50.8h0M150.0 47.1h0M161.3 45.4h0M121.4 73.3h0M91.3 86.2h0M130.8 47.6h0M60.9 103.6h0M83.7 90.6h0M142.3 76.6h0M93.4 68.8h0M141.5 52.2h0M104.3 72.2h0M50.1 89.9h0M89.3 94.6h0M118.6 68.8h0M53.3 94.2h0M110.7 84.9h0M125.8 62.2h0M160.4 38.8h0M110.6 72.1h0M77.7 96.2h0M63.8 105.2h0M80.8 92.0h0M80.1 97.2h0M80.2 86.3h0M57.5 106.4h0M119.6 60.1h0M97.3 83.9h0M146.7 45.5h0M106.5 82.5h0M79.9 86.1h0M166.0 51.5h0M129.3 48.1h0M103.1 61.2h0M152.1 49.3h0M114.2 68.3h0M114.0 58.0h0M115.4 69.5h0M106.2 87.5h0M149.1 51.3h0M107.1 78.6h0M110.1 73.3h0M88.1 91.0h0M99.1 84.6h0M67.9 99.5h0M82.8 95.7h0M49.5 107.5h0M80.2 78.4h0M95.2 89.2h0M155.6 53.6h0M103.0 72.5h0M65.9 83.0h0M113.7 73.7h0M98.6 95.4h0M100.8 79.0h0M102.0 79.7h0M110.1 63.1h0M89.6 98.9h0M84.5 82.1h0M97.3 66.5h0M149.1 47.5h0M77.7 90.9h0M80.1 94.1h0M70.2 111.3h0M94.8 63.0h0M70.2 98.1h0M100.9 95.4h0M76.6 101.7h0M73.8 93.5h0M115.8 76.9h0M94.6 97.6h0M160.7 44.4h0M86.1 79.3h0M94.3 85.0h0M117.0 64.7h0M150.9 46.9h0M79.1 102.3h0M106.4 67.3h0M73.3 89.2h0M45.1 115.0h0M99.4 84.0h0M150.5 51.8h0M90.0 81.9h0M93.4 85.7h0M159.6 41.0h0M105.8 90.7h0M85.1 78.8h0M131.8 59.7h0M58.5 106.7h0M66.5 93.7h0M98.9 86.3h0M110.5 47.9h0M53.9 104.4h0M140.5 47.5h0M114.3 69.7h0M87.1 83.8h0M137.9 49.6h0M126.5 60.8h0M129.0 71.3h0M112.2 72.3h0M101.4 77.9h0M108.8 86.9h0M61.8 116.5h0M71.9 94.3h0M93.3 88.6h0M122.8 80.2h0M160.8 48.4h0M108.7 59.9h0M150.9 47.9h0M86.1 85.5h0M146.4 49.5h0M63.8 102.7h0M110.3 63.8h0M136.9 57.6h0M146.0 55.7h0M61.1 87.9h0M91.4 75.9h0M71.7 96.0h0M71.4 99.4h0M124.1 86.7h0M94.6 78.4h0M160.1 45.1h0M123.6 66.0h0M104.0 68.2h0M103.3 89.2h0M71.8 111.1h0M84.3 80.2h0M144.4 49.2h0M121.5 62.5h0M73.5 89.0h0M141.5 59.6h0M81.4 91.2h0M94.8 90.0h0M110.8 74.8h0M83.1 77.4h0M106.3 79.0h0M77.3 86.8h0M64.8 107.0h0M80.7 93.6h0M61.3 90.1h0M113.2 75.0h0M120.6 58.7h0M150.1 48.1h0M48.2 115.6h0M98.8 78.5h0M98.3 83.1h0M131.7 48.5h0M114.9 55.2h0M114.7 72.6h0M50.6 103.8h0M77.4 78.9h0M57.0 116.1h0M65.4 111.6h0M81.7 80.6h0M71.6 102.5h0M116.2 68.9h0M73.4 93.8h0M98.0 76.7h0M80.4 98.7h0M83.5 81.2h0M135.7 63.5h0M111.8 71.2h0M86.7 95.8h0M54.1 89.1h0M91.2 85.3h0M80.7 96.7h0M79.3 100.5h0M158.0 49.1h0M88.1 87.9h0M78.2 86.4h0M77.9 99.1h0M125.9 68.7h0M85.2 69.5h0M120.0 63.0h0M77.7 87.9h0M111.3 71.7h0M60.1 108.0h0M52.7 105.6h0M84.0 88.3h0M81.2 85.1h0M57.8 100.4h0M110.2 54.8h0M79.6 80.4h0M95.1 66.4h0M95.8 65.6h0M53.0 109.2h0M66.5 85.7h0M92.9 89.3h0M80.2 97.1h0M126.6 70.4h0M74.7 89.5h0M89.0 67.7h0M161.0 72.5h0M154.5 73.9h0M147.5 68.8h0M140.0 78.6h0M132.5 82.4h0M125.5 83.8h0M120.6 88.4h0M113.1 93.1h0M105.6 98.3h0M112.0 87.0h0M122.8 91.2h0M106.1 97.8h0M101.8 102.0h0M88.9 104.3h0M44.8 99.2h0M48.0 87.0h0M50.7 84.2h0M56.6 79.6h0M60.4 74.4h0M66.9 72.1h0M72.8 59.9h0M103.4 52.9h0M113.1 46.8h0M121.7 44.5h0M132.5 45.4h0M144.8 44.5h0M159.3 38.4h0M164.2 37.0h0M71.7 58.3h0M68.4 58.6h0M67.8 60.2h0M69.8 59.8h0M70.6 56.9h0M70.8 57.4h0M70.7 60.7h0M70.9 59.2h0" stroke="#4b7b1d" stroke-width="2.2" stroke-linecap="round" fill="none"/><rect x="36.2" y="22.5" width="129.6" height="112.7" fill="none" stroke="#2e6ca8" stroke-width="1.5"/><text x="27.6" y="138.4" font-size="9.5" fill="#606060" text-anchor="end">1.3</text><text x="36.2" y="150.4" font-size="9.5" fill="#606060" text-anchor="middle">1.3</text><text x="27.6" y="115.0" font-size="9.5" fill="#606060" text-anchor="end">1.8</text><text x="63.1" y="150.4" font-size="9.5" fill="#606060" text-anchor="middle">1.8</text><text x="27.6" y="91.6" font-size="9.5" fill="#606060" text-anchor="end">2.3</text><text x="90.0" y="150.4" font-size="9.5" fill="#606060" text-anchor="middle">2.3</text><text x="27.6" y="68.3" font-size="9.5" fill="#606060" text-anchor="end">2.8</text><text x="116.9" y="150.4" font-size="9.5" fill="#606060" text-anchor="middle">2.8</text><text x="27.6" y="44.9" font-size="9.5" fill="#606060" text-anchor="end">3.3</text><text x="143.8" y="150.4" font-size="9.5" fill="#606060" text-anchor="middle">3.3</text><text x="101.0" y="165.1" font-size="10.8" font-weight="bold" fill="#595959" text-anchor="middle" xml:space="preserve">Groundtruth  (kW)</text><text transform="translate(11.0 78.8) rotate(-90)" font-size="10.8" font-weight="bold" fill="#595959" text-anchor="middle" xml:space="preserve" x="0" y="0">Prediction  (kW)</text><text x="98.2" y="18.2" font-size="19" font-weight="bold" fill="#505050" text-anchor="middle">LSTM</text><text x="35.6" y="18.2" font-size="8.5" fill="#2a2a2a">1×10<tspan font-size="5.5" dy="-3.2">3</tspan></text><text x="161.7" y="144.3" font-size="8.5" fill="#2a2a2a">1×10<tspan font-size="5.5" dy="-3.2">3</tspan></text></g>
<g><path d="M247.7 23.0V135.6M220.6 112.2H351.1M274.7 23.0V135.6M220.6 88.9H351.1M301.8 23.0V135.6M220.6 65.5H351.1M328.9 23.0V135.6M220.6 42.2H351.1" stroke="#d9d9d9" stroke-width="1" fill="none"/><path d="M236.4 113.7h0M274.7 87.8h0M285.2 75.1h0M336.2 40.8h0M296.1 75.1h0M270.1 93.8h0M281.6 84.2h0M260.5 108.6h0M275.8 72.5h0M326.2 53.4h0M262.9 90.7h0M305.2 65.1h0M244.6 85.5h0M293.3 72.0h0M341.3 54.9h0M229.1 115.8h0M279.7 86.0h0M348.5 36.5h0M279.1 70.6h0M236.8 113.1h0M347.4 52.7h0M276.0 87.7h0M278.4 75.0h0M297.6 84.1h0M344.3 56.1h0M269.0 81.0h0M288.9 72.6h0M333.2 48.8h0M316.4 62.1h0M327.7 47.7h0M256.4 89.6h0M267.4 93.2h0M305.7 85.1h0M243.6 94.4h0M271.4 94.7h0M326.9 42.7h0M316.7 52.1h0M257.4 100.0h0M293.4 69.2h0M264.5 83.1h0M290.0 74.3h0M238.6 105.1h0M269.8 85.1h0M269.3 81.8h0M255.9 105.3h0M261.0 93.1h0M265.4 98.2h0M292.4 72.0h0M257.1 92.4h0M273.0 86.4h0M263.7 92.9h0M291.7 60.2h0M257.6 102.0h0M271.8 80.1h0M255.4 104.7h0M281.0 72.3h0M316.5 43.5h0M294.6 69.2h0M333.0 61.7h0M249.2 111.9h0M284.3 84.4h0M246.6 98.3h0M257.1 99.6h0M319.9 49.3h0M277.9 87.6h0M329.1 54.8h0M331.4 45.5h0M257.9 98.0h0M298.3 83.8h0M294.5 66.9h0M337.7 42.2h0M342.6 52.3h0M279.3 94.8h0M271.2 81.4h0M256.1 93.1h0M263.9 98.1h0M252.1 86.3h0M247.8 88.5h0M309.0 84.9h0M241.4 105.7h0M279.3 79.9h0M309.6 66.9h0M239.4 90.2h0M326.7 71.1h0M296.1 90.1h0M274.7 85.7h0M317.6 66.6h0M312.0 59.0h0M303.6 64.5h0M324.4 53.8h0M286.3 78.4h0M248.5 95.5h0M269.5 89.4h0M239.9 103.8h0M273.1 99.2h0M267.2 97.1h0M293.0 75.1h0M290.0 88.4h0M308.8 55.9h0M343.1 48.9h0M273.2 67.4h0M257.4 107.3h0M242.4 118.4h0M276.6 90.4h0M307.0 69.1h0M320.7 69.5h0M272.7 93.5h0M280.3 83.5h0M271.8 82.2h0M309.9 60.9h0M274.3 101.6h0M240.5 106.2h0M255.7 92.1h0M287.4 67.1h0M244.5 98.5h0M314.5 53.6h0M250.9 100.2h0M258.4 96.0h0M235.0 117.0h0M268.5 91.7h0M285.1 86.3h0M288.5 77.5h0M322.9 49.2h0M275.4 84.7h0M269.7 79.9h0M307.6 59.6h0M231.1 113.6h0M265.9 78.9h0M247.6 106.1h0M328.4 44.2h0M261.1 86.2h0M300.8 70.0h0M261.3 94.2h0M328.7 49.7h0M321.4 53.3h0M288.7 88.5h0M262.1 89.0h0M304.2 56.8h0M292.3 79.9h0M256.5 89.9h0M236.7 96.3h0M310.4 54.7h0M236.7 103.8h0M265.6 94.6h0M350.7 49.5h0M273.5 78.4h0M230.3 106.3h0M283.3 60.4h0M233.6 105.5h0M259.5 102.7h0M263.3 92.7h0M251.7 87.0h0M341.2 49.8h0M236.6 91.4h0M282.1 84.1h0M298.7 85.2h0M320.2 71.8h0M305.5 59.1h0M252.7 98.7h0M294.3 56.5h0M270.0 85.4h0M271.4 100.7h0M287.3 83.9h0M289.9 84.0h0M298.1 80.8h0M303.3 51.4h0M278.7 99.6h0M252.3 104.9h0M273.6 98.4h0M300.8 67.5h0M262.8 98.6h0M276.5 74.2h0M286.3 60.9h0M272.2 93.4h0M293.8 80.1h0M274.9 84.5h0M262.6 81.3h0M351.0 36.3h0M259.1 102.8h0M297.2 74.4h0M303.1 81.6h0M277.1 95.8h0M282.7 79.4h0M247.2 89.5h0M237.7 116.5h0M257.3 99.8h0M313.0 54.0h0M345.6 50.5h0M331.4 42.7h0M274.7 84.1h0M261.6 93.2h0M304.1 53.9h0M300.6 83.8h0M249.1 92.6h0M255.9 101.4h0M335.7 36.7h0M293.8 79.3h0M341.0 40.4h0M268.3 103.2h0M295.2 72.2h0M242.7 118.9h0M264.7 80.0h0M263.6 82.1h0M276.0 80.8h0M262.8 89.3h0M257.5 82.8h0M271.2 93.4h0M340.7 42.2h0M266.1 85.0h0M277.5 68.6h0M309.1 75.8h0M287.6 79.0h0M291.9 84.7h0M261.0 110.6h0M273.1 79.1h0M272.4 90.2h0M315.1 64.3h0M324.1 58.2h0M239.8 121.8h0M318.9 55.1h0M257.9 99.4h0M240.5 110.5h0M237.8 90.0h0M284.4 71.7h0M338.3 47.7h0M332.1 53.4h0M237.7 102.6h0M247.9 96.3h0M330.2 50.4h0M298.1 71.6h0M320.1 57.3h0M236.2 103.6h0M254.6 113.8h0M265.6 78.4h0M290.9 73.1h0M282.2 81.2h0M277.0 65.9h0M280.8 85.7h0M345.4 35.0h0M275.9 81.8h0M322.1 59.1h0M330.5 59.6h0M266.3 86.7h0M297.8 66.4h0M268.4 84.1h0M257.8 102.1h0M261.7 83.2h0M228.7 103.4h0M281.6 65.8h0M288.3 69.5h0M277.5 83.1h0M277.3 88.5h0M246.5 117.8h0M331.1 44.6h0M268.5 84.4h0M265.0 93.4h0M319.8 63.1h0M265.3 95.2h0M322.5 50.5h0M319.4 48.9h0M274.3 93.4h0M310.2 62.2h0M276.7 82.7h0M291.4 66.7h0M325.4 46.4h0M276.4 69.0h0M279.3 74.2h0M257.9 87.5h0M300.4 56.7h0M285.1 88.2h0M279.8 85.5h0M263.8 79.7h0M331.1 49.6h0M287.9 84.3h0M301.4 57.2h0M262.9 78.0h0M327.5 50.0h0M306.4 62.3h0M235.6 92.1h0M315.4 51.7h0M321.7 55.9h0M277.6 87.9h0M236.8 106.4h0M309.1 54.2h0M269.3 74.3h0M336.8 37.3h0M248.5 96.8h0M243.0 94.6h0M284.5 68.9h0M256.9 86.4h0M255.7 91.1h0M345.8 40.9h0M302.6 86.8h0M285.1 84.8h0M276.5 81.8h0M319.3 57.3h0M258.5 90.1h0M282.7 83.3h0M266.3 84.4h0M264.1 91.7h0M339.4 43.4h0M280.4 81.0h0M265.9 82.9h0M281.5 77.8h0M282.9 88.3h0M271.0 84.2h0M274.7 94.5h0M297.2 61.2h0M268.7 78.3h0M285.0 87.4h0M292.8 63.4h0M275.1 79.0h0M315.5 53.7h0M315.2 80.6h0M282.0 88.4h0M290.7 89.4h0M243.3 121.1h0M258.1 88.0h0M274.9 69.0h0M303.2 62.5h0M330.9 43.1h0M276.0 80.6h0M243.7 116.5h0M316.0 57.9h0M291.3 69.5h0M310.8 62.4h0M282.4 75.2h0M248.4 105.1h0M280.6 77.6h0M272.0 82.1h0M347.8 44.1h0M246.4 105.5h0M270.4 82.0h0M306.7 61.6h0M330.1 39.2h0M270.4 72.5h0M242.3 120.5h0M246.8 99.0h0M302.6 59.1h0M261.2 99.7h0M315.1 62.4h0M241.5 96.5h0M257.2 92.1h0M334.1 38.4h0M326.3 41.3h0M243.9 101.1h0M323.0 66.3h0M287.1 86.6h0M247.4 89.2h0M286.6 78.0h0M243.1 114.7h0M262.1 87.6h0M230.3 111.6h0M274.3 84.6h0M267.5 84.6h0M284.1 82.3h0M270.7 87.4h0M301.2 72.5h0M275.9 88.1h0M314.8 54.8h0M306.7 70.1h0M317.5 76.6h0M266.7 75.2h0M307.3 62.0h0M275.4 86.8h0M293.4 82.8h0M329.5 47.9h0M242.8 108.6h0M286.9 99.5h0M242.9 92.1h0M264.0 76.2h0M286.9 79.8h0M257.5 88.6h0M310.5 62.5h0M265.0 80.9h0M281.3 80.7h0M306.8 56.0h0M270.8 83.3h0M328.1 42.4h0M238.4 106.9h0M334.4 46.6h0M259.5 91.0h0M314.6 57.8h0M257.3 110.4h0M309.3 79.3h0M260.0 101.7h0M261.2 107.3h0M272.0 91.9h0M266.8 81.8h0M296.5 70.1h0M249.9 106.7h0M297.1 69.5h0M334.1 48.9h0M300.3 53.7h0M292.1 56.7h0M255.5 90.0h0M270.2 100.6h0M277.2 83.2h0M274.1 68.7h0M350.2 44.1h0M296.5 79.2h0M281.2 99.9h0M257.1 98.4h0M251.3 92.5h0M250.3 82.0h0M248.1 107.5h0M301.9 77.7h0M230.4 101.1h0M304.1 77.1h0M262.7 93.9h0M328.9 48.3h0M231.1 110.1h0M303.4 69.6h0M347.7 37.1h0M296.1 76.1h0M228.9 123.2h0M280.5 88.6h0M248.8 100.0h0M297.9 58.0h0M268.2 82.3h0M262.9 92.6h0M245.6 100.2h0M233.7 117.5h0M278.2 84.9h0M295.1 78.7h0M262.5 84.7h0M278.6 84.7h0M258.9 76.2h0M290.0 74.2h0M258.0 87.3h0M293.7 80.8h0M349.4 43.8h0M266.3 99.6h0M307.7 55.8h0M304.1 66.5h0M269.0 93.6h0M346.8 45.9h0M260.0 95.2h0M323.8 54.2h0M263.6 96.3h0M310.4 75.0h0M259.2 86.9h0M297.0 73.9h0M296.5 71.1h0M322.6 42.4h0M253.4 103.1h0M311.2 78.9h0M270.6 90.1h0M246.6 85.8h0M313.8 62.6h0M251.2 101.6h0M314.8 50.1h0M289.7 75.1h0M312.0 64.6h0M289.2 81.8h0M320.8 49.9h0M274.7 99.4h0M306.5 49.8h0M313.9 60.0h0M254.9 81.5h0M275.6 100.5h0M330.3 41.5h0M345.0 36.7h0M252.6 99.5h0M277.5 95.1h0M294.0 84.1h0M295.1 66.7h0M248.7 111.7h0M302.7 54.6h0M255.5 97.6h0M306.3 69.3h0M274.1 81.4h0M278.5 79.0h0M281.2 73.0h0M254.6 96.1h0M302.6 51.1h0M254.9 108.2h0M274.5 75.9h0M247.0 107.0h0M245.7 108.4h0M310.1 66.0h0M295.6 72.5h0M340.4 51.1h0M344.0 53.0h0M318.2 44.7h0M253.5 97.0h0M259.9 99.5h0M254.6 99.2h0M277.0 82.8h0M258.2 93.0h0M305.2 86.9h0M282.0 71.7h0M256.1 96.9h0M283.3 88.1h0M256.8 94.3h0M257.6 106.9h0M311.7 66.0h0M256.9 90.7h0M331.8 64.5h0M273.3 97.5h0M276.3 94.5h0M314.5 64.0h0M303.8 70.6h0M319.8 56.1h0M267.3 89.3h0M272.6 92.3h0M336.2 51.5h0M255.3 110.1h0M262.4 110.5h0M274.9 85.2h0M262.8 100.3h0M285.3 71.5h0M234.8 99.5h0M256.5 80.2h0M274.1 94.9h0M266.4 83.2h0M277.4 83.0h0M235.5 114.1h0M329.6 61.1h0M324.3 56.1h0M275.7 73.8h0M262.1 81.1h0M260.5 101.9h0M244.2 111.8h0M307.7 73.0h0M321.3 51.3h0M314.1 47.9h0M292.7 59.7h0M271.6 101.3h0M271.5 98.2h0M275.2 85.8h0M261.2 85.2h0M249.4 111.9h0M327.4 55.3h0M251.0 98.8h0M267.6 97.8h0M263.5 94.7h0M264.9 93.9h0M246.6 96.5h0M251.0 95.8h0M308.1 56.9h0M279.8 78.1h0M250.5 102.2h0M264.0 94.7h0M271.7 85.5h0M311.1 82.0h0M317.1 77.2h0M292.5 70.8h0M260.8 91.4h0M301.4 71.9h0M230.6 108.6h0M288.2 68.8h0M292.0 67.7h0M269.6 99.3h0M267.3 98.6h0M302.8 49.5h0M288.6 66.0h0M230.6 110.4h0M326.5 51.4h0M257.2 84.5h0M294.9 59.1h0M283.6 80.8h0M349.6 48.9h0M242.5 118.4h0M285.1 83.7h0M283.5 88.8h0M311.5 73.6h0M287.3 71.0h0M258.5 90.4h0M279.0 70.4h0M248.4 91.8h0M243.1 112.9h0M232.2 105.3h0M259.7 99.3h0M296.1 81.5h0M272.4 85.0h0M239.1 108.6h0M264.3 100.1h0M252.3 94.8h0M337.2 46.0h0M278.5 83.0h0M255.1 90.9h0M345.2 44.1h0M261.3 85.9h0M283.1 91.7h0M275.2 77.9h0M253.9 78.9h0M288.6 84.3h0M233.2 108.8h0M324.3 69.0h0M254.3 100.7h0M306.9 65.0h0M271.4 93.2h0M330.0 46.1h0M327.7 45.0h0M275.0 92.5h0M268.0 97.6h0M246.9 115.4h0M306.2 59.9h0M237.7 106.7h0M306.7 54.2h0M290.9 86.8h0M261.2 92.6h0M316.8 47.6h0M300.5 69.1h0M270.0 77.3h0M321.0 50.4h0M267.1 83.8h0M337.8 49.3h0M286.7 81.7h0M256.1 83.9h0M282.4 81.9h0M244.1 118.5h0M268.2 94.5h0M323.7 48.9h0M330.4 42.3h0M246.0 93.1h0M263.6 77.8h0M280.2 88.1h0M244.0 94.4h0M322.8 42.9h0M328.7 49.1h0M336.3 47.8h0M299.1 73.2h0M275.4 79.9h0M274.5 93.3h0M263.8 82.6h0M288.9 88.6h0M246.5 89.6h0M275.9 96.7h0M314.7 66.0h0M285.5 83.4h0M267.4 80.1h0M257.8 108.3h0M286.5 83.6h0M297.3 56.0h0M284.5 84.0h0M250.4 86.8h0M268.4 91.8h0M270.6 98.8h0M267.8 88.8h0M262.8 85.8h0M267.9 81.0h0M269.3 77.3h0M259.3 100.3h0M236.8 99.3h0M319.9 46.5h0M300.3 64.8h0M293.2 55.7h0M261.0 91.0h0M264.1 82.0h0M260.1 87.6h0M277.1 73.7h0M262.8 98.6h0M295.0 67.2h0M270.7 76.9h0M319.3 48.2h0M328.8 56.4h0M284.8 86.0h0M350.6 36.4h0M263.0 82.9h0M250.2 87.5h0M268.9 89.3h0M339.7 44.5h0M321.3 43.6h0M264.9 108.7h0M347.2 46.4h0M262.2 109.9h0M294.0 85.4h0M259.5 87.4h0M251.3 99.5h0M303.1 70.6h0M333.2 44.5h0M270.9 79.0h0M260.1 96.6h0M275.6 86.0h0M314.2 60.0h0M349.8 49.0h0M347.8 35.5h0M294.3 81.8h0M268.1 87.7h0M254.8 77.8h0M326.5 61.9h0M327.4 39.6h0M288.5 76.3h0M273.9 86.1h0M276.6 75.7h0M281.8 80.0h0M296.1 64.2h0M322.9 45.4h0M326.3 56.9h0M300.1 70.9h0M239.0 107.0h0M340.2 49.6h0M301.7 66.3h0M301.3 57.8h0M286.5 84.6h0M279.7 85.2h0M256.2 97.4h0M232.8 110.3h0M314.9 44.2h0M262.4 84.3h0M256.3 95.5h0M266.7 91.7h0M257.4 94.3h0M266.3 86.1h0M285.8 86.0h0M266.5 95.2h0M304.1 57.9h0M283.3 99.6h0M228.3 104.1h0M248.8 102.7h0M264.3 93.8h0M288.6 90.4h0M284.6 83.6h0M264.5 83.2h0M264.5 80.5h0M275.1 65.6h0M284.8 80.7h0M267.3 92.4h0M287.0 78.0h0M254.6 94.9h0M294.7 76.3h0M286.7 93.5h0M253.8 85.4h0M272.7 82.7h0M291.0 71.1h0M279.4 83.9h0M278.2 85.7h0M246.7 89.7h0M271.4 96.7h0M248.6 107.1h0M303.0 72.6h0M280.2 73.7h0M248.2 109.9h0M270.1 69.3h0M272.5 78.5h0M342.4 49.4h0M271.5 90.4h0M273.1 85.2h0M235.8 111.9h0M318.4 50.7h0M330.3 47.7h0M231.4 112.5h0M254.4 108.2h0M258.1 91.6h0M287.9 76.3h0M263.2 102.2h0M254.6 90.8h0M290.0 75.6h0M287.7 80.0h0M294.6 64.6h0M273.2 97.8h0M247.4 107.4h0M280.8 84.5h0M243.5 121.3h0M254.0 92.5h0M231.9 114.6h0M272.6 83.2h0M311.0 78.3h0M255.2 104.1h0M284.7 83.2h0M299.0 65.3h0M301.7 83.6h0M238.4 123.3h0M268.7 98.6h0M342.4 42.3h0M237.6 110.5h0M261.0 111.2h0M253.8 88.4h0M263.6 78.5h0M288.3 81.1h0M238.7 100.8h0M270.6 91.9h0M266.0 93.0h0M350.1 39.3h0M305.5 63.3h0M252.2 103.9h0M317.5 65.4h0M281.7 85.8h0M268.8 80.2h0M315.2 66.9h0M315.7 43.4h0M320.1 54.6h0M272.6 80.2h0M256.8 100.1h0M237.1 115.0h0M308.3 61.4h0M228.1 115.5h0M268.5 100.2h0M286.0 86.1h0M244.2 106.6h0M258.7 93.7h0M324.9 44.7h0M332.8 40.6h0M254.3 107.8h0M300.5 70.5h0M284.9 82.7h0M276.8 75.0h0M271.9 94.1h0M295.3 87.8h0M235.6 119.9h0M296.7 68.7h0M292.6 79.9h0M249.9 82.6h0M308.6 55.2h0M285.3 88.9h0M239.8 119.3h0M232.2 107.5h0M231.5 116.7h0M308.3 54.2h0M265.7 87.1h0M290.4 77.2h0M278.1 86.5h0M276.3 79.0h0M317.0 46.6h0M247.0 110.4h0M238.4 114.8h0M258.5 102.0h0M302.8 63.3h0M272.0 100.5h0M275.8 70.3h0M232.4 118.6h0M267.3 78.2h0M244.0 98.4h0M288.2 67.6h0M274.5 82.8h0M247.8 113.5h0M309.3 70.3h0M275.9 75.9h0M269.3 95.0h0M272.5 74.7h0M239.7 97.5h0M257.8 86.3h0M277.9 75.7h0M275.4 82.7h0M256.4 89.0h0M232.6 106.3h0M259.3 86.1h0M312.5 67.0h0M262.5 96.0h0M271.3 99.3h0M316.0 58.3h0M291.4 74.0h0M314.7 56.7h0M242.8 122.4h0M249.1 100.5h0M265.4 91.1h0M262.9 94.9h0M300.6 73.6h0M299.1 78.8h0M306.4 60.8h0M292.5 81.8h0M312.0 70.8h0M297.8 80.5h0M263.3 100.9h0M241.6 89.8h0M299.6 84.0h0M254.9 106.9h0M286.3 73.0h0M263.7 83.4h0M312.9 70.8h0M258.3 100.8h0M270.4 82.7h0M251.5 107.0h0M252.5 101.0h0M341.6 44.4h0M267.8 80.1h0M255.2 91.9h0M273.5 84.0h0M293.0 66.4h0M295.7 70.7h0M250.0 98.8h0M248.5 91.9h0M239.4 100.1h0M310.2 54.8h0M283.5 78.7h0M268.2 88.5h0M247.9 92.1h0M308.8 51.3h0M259.5 82.9h0M258.2 89.8h0M264.3 99.9h0M302.3 63.1h0M272.5 81.2h0M290.1 66.0h0M313.2 65.1h0M248.3 96.3h0M288.3 72.4h0M339.0 37.9h0M343.7 50.9h0M348.0 48.9h0M270.4 87.2h0M277.6 87.8h0M278.2 79.9h0M320.8 52.5h0M296.1 67.5h0M248.8 107.5h0M257.0 99.4h0M258.1 89.5h0M306.2 57.8h0M261.3 84.9h0M293.7 89.0h0M228.2 120.5h0M239.3 97.7h0M265.2 96.7h0M288.3 73.3h0M286.1 75.1h0M299.4 74.1h0M338.6 52.2h0M276.2 87.7h0M274.3 87.5h0M281.3 74.7h0M261.4 81.9h0M282.3 84.8h0M293.0 74.5h0M229.3 111.4h0M298.9 69.9h0M292.6 80.1h0M243.0 106.7h0M321.6 55.9h0M274.6 84.4h0M313.7 64.2h0M287.8 79.7h0M266.2 85.3h0M248.5 112.5h0M332.9 56.8h0M303.2 75.8h0M255.2 103.0h0M324.5 53.3h0M269.5 81.0h0M234.3 114.5h0M288.9 82.0h0M277.7 82.9h0M266.3 100.2h0M271.2 78.4h0M308.2 67.4h0M310.0 76.9h0M273.6 73.4h0M260.7 76.3h0M310.0 54.8h0M252.2 99.5h0M277.1 77.6h0M331.6 72.9h0M350.0 46.7h0M249.4 91.8h0M254.2 108.8h0M322.2 56.9h0M280.7 72.4h0M277.7 72.6h0M258.7 97.0h0M276.7 83.5h0M253.0 86.1h0M296.1 82.2h0M322.6 46.7h0M257.3 104.1h0M337.8 51.0h0M271.1 94.7h0M294.3 73.6h0M303.9 81.7h0M303.3 75.7h0M267.6 79.4h0M293.3 62.6h0M290.5 72.0h0M265.0 92.9h0M319.0 71.3h0M286.4 82.6h0M281.9 90.9h0M251.2 88.3h0M301.1 86.5h0M284.5 66.8h0M249.4 95.8h0M274.8 82.7h0M278.4 98.2h0M260.7 98.4h0M306.2 71.7h0M338.1 45.6h0M314.9 69.8h0M263.8 109.4h0M248.9 91.2h0M272.2 84.8h0M277.4 81.0h0M264.3 87.3h0M268.3 84.9h0M339.9 45.0h0M237.8 101.8h0M269.1 92.0h0M274.8 83.2h0M264.5 93.8h0M254.9 99.1h0M329.5 47.9h0M273.8 85.5h0M308.5 76.1h0M342.2 51.9h0M266.4 91.3h0M283.2 81.7h0M255.0 104.8h0M289.0 75.6h0M249.7 87.7h0M248.1 94.8h0M320.8 79.1h0M325.1 77.7h0M332.1 69.7h0M337.0 65.0h0M341.9 62.7h0M304.5 86.1h0M294.8 90.7h0M287.7 93.1h0M229.3 103.8h0M233.1 94.5h0M238.5 89.8h0M245.5 84.2h0M252.5 78.1h0M233.1 124.9h0M237.4 123.9h0M243.3 122.5h0M236.3 127.2h0M256.9 72.6h0M256.6 70.7h0M253.8 74.0h0M256.4 74.7h0M253.0 66.6h0M252.2 66.5h0M256.0 64.2h0" stroke="#b82828" stroke-width="2.6" stroke-linecap="round" fill="none"/><path d="M236.4 113.7h0M274.7 87.8h0M285.2 75.1h0M336.2 40.8h0M296.1 75.1h0M270.1 93.8h0M281.6 84.2h0M260.5 108.6h0M275.8 72.5h0M326.2 53.4h0M262.9 90.7h0M305.2 65.1h0M244.6 85.5h0M293.3 72.0h0M341.3 54.9h0M229.1 115.8h0M279.7 86.0h0M348.5 36.5h0M279.1 70.6h0M236.8 113.1h0M347.4 52.7h0M276.0 87.7h0M278.4 75.0h0M297.6 84.1h0M344.3 56.1h0M269.0 81.0h0M288.9 72.6h0M333.2 48.8h0M316.4 62.1h0M327.7 47.7h0M256.4 89.6h0M267.4 93.2h0M305.7 85.1h0M243.6 94.4h0M271.4 94.7h0M326.9 42.7h0M316.7 52.1h0M257.4 100.0h0M293.4 69.2h0M264.5 83.1h0M290.0 74.3h0M238.6 105.1h0M269.8 85.1h0M269.3 81.8h0M255.9 105.3h0M261.0 93.1h0M265.4 98.2h0M292.4 72.0h0M257.1 92.4h0M273.0 86.4h0M263.7 92.9h0M291.7 60.2h0M257.6 102.0h0M271.8 80.1h0M255.4 104.7h0M281.0 72.3h0M316.5 43.5h0M294.6 69.2h0M333.0 61.7h0M249.2 111.9h0M284.3 84.4h0M246.6 98.3h0M257.1 99.6h0M319.9 49.3h0M277.9 87.6h0M329.1 54.8h0M331.4 45.5h0M257.9 98.0h0M298.3 83.8h0M294.5 66.9h0M337.7 42.2h0M342.6 52.3h0M279.3 94.8h0M271.2 81.4h0M256.1 93.1h0M263.9 98.1h0M252.1 86.3h0M247.8 88.5h0M309.0 84.9h0M241.4 105.7h0M279.3 79.9h0M309.6 66.9h0M239.4 90.2h0M326.7 71.1h0M296.1 90.1h0M274.7 85.7h0M317.6 66.6h0M312.0 59.0h0M303.6 64.5h0M324.4 53.8h0M286.3 78.4h0M248.5 95.5h0M269.5 89.4h0M239.9 103.8h0M273.1 99.2h0M267.2 97.1h0M293.0 75.1h0M290.0 88.4h0M308.8 55.9h0M343.1 48.9h0M273.2 67.4h0M257.4 107.3h0M242.4 118.4h0M276.6 90.4h0M307.0 69.1h0M320.7 69.5h0M272.7 93.5h0M280.3 83.5h0M271.8 82.2h0M309.9 60.9h0M274.3 101.6h0M240.5 106.2h0M255.7 92.1h0M287.4 67.1h0M244.5 98.5h0M314.5 53.6h0M250.9 100.2h0M258.4 96.0h0M235.0 117.0h0M268.5 91.7h0M285.1 86.3h0M288.5 77.5h0M322.9 49.2h0M275.4 84.7h0M269.7 79.9h0M307.6 59.6h0M231.1 113.6h0M265.9 78.9h0M247.6 106.1h0M328.4 44.2h0M261.1 86.2h0M300.8 70.0h0M261.3 94.2h0M328.7 49.7h0M321.4 53.3h0M288.7 88.5h0M262.1 89.0h0M304.2 56.8h0M292.3 79.9h0M256.5 89.9h0M236.7 96.3h0M310.4 54.7h0M236.7 103.8h0M265.6 94.6h0M350.7 49.5h0M273.5 78.4h0M230.3 106.3h0M283.3 60.4h0M233.6 105.5h0M259.5 102.7h0M263.3 92.7h0M251.7 87.0h0M341.2 49.8h0M236.6 91.4h0M282.1 84.1h0M298.7 85.2h0M320.2 71.8h0M305.5 59.1h0M252.7 98.7h0M294.3 56.5h0M270.0 85.4h0M271.4 100.7h0M287.3 83.9h0M289.9 84.0h0M298.1 80.8h0M303.3 51.4h0M278.7 99.6h0M252.3 104.9h0M273.6 98.4h0M300.8 67.5h0M262.8 98.6h0M276.5 74.2h0M286.3 60.9h0M272.2 93.4h0M293.8 80.1h0M274.9 84.5h0M262.6 81.3h0M351.0 36.3h0M259.1 102.8h0M297.2 74.4h0M303.1 81.6h0M277.1 95.8h0M282.7 79.4h0M247.2 89.5h0M237.7 116.5h0M257.3 99.8h0M313.0 54.0h0M345.6 50.5h0M331.4 42.7h0M274.7 84.1h0M261.6 93.2h0M304.1 53.9h0M300.6 83.8h0M249.1 92.6h0M255.9 101.4h0M335.7 36.7h0M293.8 79.3h0M341.0 40.4h0M268.3 103.2h0M295.2 72.2h0M242.7 118.9h0M264.7 80.0h0M263.6 82.1h0M276.0 80.8h0M262.8 89.3h0M257.5 82.8h0M271.2 93.4h0M340.7 42.2h0M266.1 85.0h0M277.5 68.6h0M309.1 75.8h0M287.6 79.0h0M291.9 84.7h0M261.0 110.6h0M273.1 79.1h0M272.4 90.2h0M315.1 64.3h0M324.1 58.2h0M239.8 121.8h0M318.9 55.1h0M257.9 99.4h0M240.5 110.5h0M237.8 90.0h0M284.4 71.7h0M338.3 47.7h0M332.1 53.4h0M237.7 102.6h0M247.9 96.3h0M330.2 50.4h0M298.1 71.6h0M320.1 57.3h0M236.2 103.6h0M254.6 113.8h0M265.6 78.4h0M290.9 73.1h0M282.2 81.2h0M277.0 65.9h0M280.8 85.7h0M345.4 35.0h0M275.9 81.8h0M322.1 59.1h0M330.5 59.6h0M266.3 86.7h0M297.8 66.4h0M268.4 84.1h0M257.8 102.1h0M261.7 83.2h0M228.7 103.4h0M281.6 65.8h0M288.3 69.5h0M277.5 83.1h0M277.3 88.5h0M246.5 117.8h0M331.1 44.6h0M268.5 84.4h0M265.0 93.4h0M319.8 63.1h0M265.3 95.2h0M322.5 50.5h0M319.4 48.9h0M274.3 93.4h0M310.2 62.2h0M276.7 82.7h0M291.4 66.7h0M325.4 46.4h0M276.4 69.0h0M279.3 74.2h0M257.9 87.5h0M300.4 56.7h0M285.1 88.2h0M279.8 85.5h0M263.8 79.7h0M331.1 49.6h0M287.9 84.3h0M301.4 57.2h0M262.9 78.0h0M327.5 50.0h0M306.4 62.3h0M235.6 92.1h0M315.4 51.7h0M321.7 55.9h0M277.6 87.9h0M236.8 106.4h0M309.1 54.2h0M269.3 74.3h0M336.8 37.3h0M248.5 96.8h0M243.0 94.6h0M284.5 68.9h0M256.9 86.4h0M255.7 91.1h0M345.8 40.9h0M302.6 86.8h0M285.1 84.8h0M276.5 81.8h0M319.3 57.3h0M258.5 90.1h0M282.7 83.3h0M266.3 84.4h0M264.1 91.7h0M339.4 43.4h0M280.4 81.0h0M265.9 82.9h0M281.5 77.8h0M282.9 88.3h0M271.0 84.2h0M274.7 94.5h0M297.2 61.2h0M268.7 78.3h0M285.0 87.4h0M292.8 63.4h0M275.1 79.0h0M315.5 53.7h0M315.2 80.6h0M282.0 88.4h0M290.7 89.4h0M243.3 121.1h0M258.1 88.0h0M274.9 69.0h0M303.2 62.5h0M330.9 43.1h0M276.0 80.6h0M243.7 116.5h0M316.0 57.9h0M291.3 69.5h0M310.8 62.4h0M282.4 75.2h0M248.4 105.1h0M280.6 77.6h0M272.0 82.1h0M347.8 44.1h0M246.4 105.5h0M270.4 82.0h0M306.7 61.6h0M330.1 39.2h0M270.4 72.5h0M242.3 120.5h0M246.8 99.0h0M302.6 59.1h0M261.2 99.7h0M315.1 62.4h0M241.5 96.5h0M257.2 92.1h0M334.1 38.4h0M326.3 41.3h0M243.9 101.1h0M323.0 66.3h0M287.1 86.6h0M247.4 89.2h0M286.6 78.0h0M243.1 114.7h0M262.1 87.6h0M230.3 111.6h0M274.3 84.6h0M267.5 84.6h0M284.1 82.3h0M270.7 87.4h0M301.2 72.5h0M275.9 88.1h0M314.8 54.8h0M306.7 70.1h0M317.5 76.6h0M266.7 75.2h0M307.3 62.0h0M275.4 86.8h0M293.4 82.8h0M329.5 47.9h0M242.8 108.6h0M286.9 99.5h0M242.9 92.1h0M264.0 76.2h0M286.9 79.8h0M257.5 88.6h0M310.5 62.5h0M265.0 80.9h0M281.3 80.7h0M306.8 56.0h0M270.8 83.3h0M328.1 42.4h0M238.4 106.9h0M334.4 46.6h0M259.5 91.0h0M314.6 57.8h0M257.3 110.4h0M309.3 79.3h0M260.0 101.7h0M261.2 107.3h0M272.0 91.9h0M266.8 81.8h0M296.5 70.1h0M249.9 106.7h0M297.1 69.5h0M334.1 48.9h0M300.3 53.7h0M292.1 56.7h0M255.5 90.0h0M270.2 100.6h0M277.2 83.2h0M274.1 68.7h0M350.2 44.1h0M296.5 79.2h0M281.2 99.9h0M257.1 98.4h0M251.3 92.5h0M250.3 82.0h0M248.1 107.5h0M301.9 77.7h0M230.4 101.1h0M304.1 77.1h0M262.7 93.9h0M328.9 48.3h0M231.1 110.1h0M303.4 69.6h0M347.7 37.1h0M296.1 76.1h0M228.9 123.2h0M280.5 88.6h0M248.8 100.0h0M297.9 58.0h0M268.2 82.3h0M262.9 92.6h0M245.6 100.2h0M233.7 117.5h0M278.2 84.9h0M295.1 78.7h0M262.5 84.7h0M278.6 84.7h0M258.9 76.2h0M290.0 74.2h0M258.0 87.3h0M293.7 80.8h0M349.4 43.8h0M266.3 99.6h0M307.7 55.8h0M304.1 66.5h0M269.0 93.6h0M346.8 45.9h0M260.0 95.2h0M323.8 54.2h0M263.6 96.3h0M310.4 75.0h0M259.2 86.9h0M297.0 73.9h0M296.5 71.1h0M322.6 42.4h0M253.4 103.1h0M311.2 78.9h0M270.6 90.1h0M246.6 85.8h0M313.8 62.6h0M251.2 101.6h0M314.8 50.1h0M289.7 75.1h0M312.0 64.6h0M289.2 81.8h0M320.8 49.9h0M274.7 99.4h0M306.5 49.8h0M313.9 60.0h0M254.9 81.5h0M275.6 100.5h0M330.3 41.5h0M345.0 36.7h0M252.6 99.5h0M277.5 95.1h0M294.0 84.1h0M295.1 66.7h0M248.7 111.7h0M302.7 54.6h0M255.5 97.6h0M306.3 69.3h0M274.1 81.4h0M278.5 79.0h0M281.2 73.0h0M254.6 96.1h0M302.6 51.1h0M254.9 108.2h0M274.5 75.9h0M247.0 107.0h0M245.7 108.4h0M310.1 66.0h0M295.6 72.5h0M340.4 51.1h0M344.0 53.0h0M318.2 44.7h0M253.5 97.0h0M259.9 99.5h0M254.6 99.2h0M277.0 82.8h0M258.2 93.0h0M305.2 86.9h0M282.0 71.7h0M256.1 96.9h0M283.3 88.1h0M256.8 94.3h0M257.6 106.9h0M311.7 66.0h0M256.9 90.7h0M331.8 64.5h0M273.3 97.5h0M276.3 94.5h0M314.5 64.0h0M303.8 70.6h0M319.8 56.1h0M267.3 89.3h0M272.6 92.3h0M336.2 51.5h0M255.3 110.1h0M262.4 110.5h0M274.9 85.2h0M262.8 100.3h0M285.3 71.5h0M234.8 99.5h0M256.5 80.2h0M274.1 94.9h0M266.4 83.2h0M277.4 83.0h0M235.5 114.1h0M329.6 61.1h0M324.3 56.1h0M275.7 73.8h0M262.1 81.1h0M260.5 101.9h0M244.2 111.8h0M307.7 73.0h0M321.3 51.3h0M314.1 47.9h0M292.7 59.7h0M271.6 101.3h0M271.5 98.2h0M275.2 85.8h0M261.2 85.2h0M249.4 111.9h0M327.4 55.3h0M251.0 98.8h0M267.6 97.8h0M263.5 94.7h0M264.9 93.9h0M246.6 96.5h0M251.0 95.8h0M308.1 56.9h0M279.8 78.1h0M250.5 102.2h0M264.0 94.7h0M271.7 85.5h0M311.1 82.0h0M317.1 77.2h0M292.5 70.8h0M260.8 91.4h0M301.4 71.9h0M230.6 108.6h0M288.2 68.8h0M292.0 67.7h0M269.6 99.3h0M267.3 98.6h0M302.8 49.5h0M288.6 66.0h0M230.6 110.4h0M326.5 51.4h0M257.2 84.5h0M294.9 59.1h0M283.6 80.8h0M349.6 48.9h0M242.5 118.4h0M285.1 83.7h0M283.5 88.8h0M311.5 73.6h0M287.3 71.0h0M258.5 90.4h0M279.0 70.4h0M248.4 91.8h0M243.1 112.9h0M232.2 105.3h0M259.7 99.3h0M296.1 81.5h0M272.4 85.0h0M239.1 108.6h0M264.3 100.1h0M252.3 94.8h0M337.2 46.0h0M278.5 83.0h0M255.1 90.9h0M345.2 44.1h0M261.3 85.9h0M283.1 91.7h0M275.2 77.9h0M253.9 78.9h0M288.6 84.3h0M233.2 108.8h0M324.3 69.0h0M254.3 100.7h0M306.9 65.0h0M271.4 93.2h0M330.0 46.1h0M327.7 45.0h0M275.0 92.5h0M268.0 97.6h0M246.9 115.4h0M306.2 59.9h0M237.7 106.7h0M306.7 54.2h0M290.9 86.8h0M261.2 92.6h0M316.8 47.6h0M300.5 69.1h0M270.0 77.3h0M321.0 50.4h0M267.1 83.8h0M337.8 49.3h0M286.7 81.7h0M256.1 83.9h0M282.4 81.9h0M244.1 118.5h0M268.2 94.5h0M323.7 48.9h0M330.4 42.3h0M246.0 93.1h0M263.6 77.8h0M280.2 88.1h0M244.0 94.4h0M322.8 42.9h0M328.7 49.1h0M336.3 47.8h0M299.1 73.2h0M275.4 79.9h0M274.5 93.3h0M263.8 82.6h0M288.9 88.6h0M246.5 89.6h0M275.9 96.7h0M314.7 66.0h0M285.5 83.4h0M267.4 80.1h0M257.8 108.3h0M286.5 83.6h0M297.3 56.0h0M284.5 84.0h0M250.4 86.8h0M268.4 91.8h0M270.6 98.8h0M267.8 88.8h0M262.8 85.8h0M267.9 81.0h0M269.3 77.3h0M259.3 100.3h0M236.8 99.3h0M319.9 46.5h0M300.3 64.8h0M293.2 55.7h0M261.0 91.0h0M264.1 82.0h0M260.1 87.6h0M277.1 73.7h0M262.8 98.6h0M295.0 67.2h0M270.7 76.9h0M319.3 48.2h0M328.8 56.4h0M284.8 86.0h0M350.6 36.4h0M263.0 82.9h0M250.2 87.5h0M268.9 89.3h0M339.7 44.5h0M321.3 43.6h0M264.9 108.7h0M347.2 46.4h0M262.2 109.9h0M294.0 85.4h0M259.5 87.4h0M251.3 99.5h0M303.1 70.6h0M333.2 44.5h0M270.9 79.0h0M260.1 96.6h0M275.6 86.0h0M314.2 60.0h0M349.8 49.0h0M347.8 35.5h0M294.3 81.8h0M268.1 87.7h0M254.8 77.8h0M326.5 61.9h0M327.4 39.6h0M288.5 76.3h0M273.9 86.1h0M276.6 75.7h0M281.8 80.0h0M296.1 64.2h0M322.9 45.4h0M326.3 56.9h0M300.1 70.9h0M239.0 107.0h0M340.2 49.6h0M301.7 66.3h0M301.3 57.8h0M286.5 84.6h0M279.7 85.2h0M256.2 97.4h0M232.8 110.3h0M314.9 44.2h0M262.4 84.3h0M256.3 95.5h0M266.7 91.7h0M257.4 94.3h0M266.3 86.1h0M285.8 86.0h0M266.5 95.2h0M304.1 57.9h0M283.3 99.6h0M228.3 104.1h0M248.8 102.7h0M264.3 93.8h0M288.6 90.4h0M284.6 83.6h0M264.5 83.2h0M264.5 80.5h0M275.1 65.6h0M284.8 80.7h0M267.3 92.4h0M287.0 78.0h0M254.6 94.9h0M294.7 76.3h0M286.7 93.5h0M253.8 85.4h0M272.7 82.7h0M291.0 71.1h0M279.4 83.9h0M278.2 85.7h0M246.7 89.7h0M271.4 96.7h0M248.6 107.1h0M303.0 72.6h0M280.2 73.7h0M248.2 109.9h0M270.1 69.3h0M272.5 78.5h0M342.4 49.4h0M271.5 90.4h0M273.1 85.2h0M235.8 111.9h0M318.4 50.7h0M330.3 47.7h0M231.4 112.5h0M254.4 108.2h0M258.1 91.6h0M287.9 76.3h0M263.2 102.2h0M254.6 90.8h0M290.0 75.6h0M287.7 80.0h0M294.6 64.6h0M273.2 97.8h0M247.4 107.4h0M280.8 84.5h0M243.5 121.3h0M254.0 92.5h0M231.9 114.6h0M272.6 83.2h0M311.0 78.3h0M255.2 104.1h0M284.7 83.2h0M299.0 65.3h0M301.7 83.6h0M238.4 123.3h0M268.7 98.6h0M342.4 42.3h0M237.6 110.5h0M261.0 111.2h0M253.8 88.4h0M263.6 78.5h0M288.3 81.1h0M238.7 100.8h0M270.6 91.9h0M266.0 93.0h0M350.1 39.3h0M305.5 63.3h0M252.2 103.9h0M317.5 65.4h0M281.7 85.8h0M268.8 80.2h0M315.2 66.9h0M315.7 43.4h0M320.1 54.6h0M272.6 80.2h0M256.8 100.1h0M237.1 115.0h0M308.3 61.4h0M228.1 115.5h0M268.5 100.2h0M286.0 86.1h0M244.2 106.6h0M258.7 93.7h0M324.9 44.7h0M332.8 40.6h0M254.3 107.8h0M300.5 70.5h0M284.9 82.7h0M276.8 75.0h0M271.9 94.1h0M295.3 87.8h0M235.6 119.9h0M296.7 68.7h0M292.6 79.9h0M249.9 82.6h0M308.6 55.2h0M285.3 88.9h0M239.8 119.3h0M232.2 107.5h0M231.5 116.7h0M308.3 54.2h0M265.7 87.1h0M290.4 77.2h0M278.1 86.5h0M276.3 79.0h0M317.0 46.6h0M247.0 110.4h0M238.4 114.8h0M258.5 102.0h0M302.8 63.3h0M272.0 100.5h0M275.8 70.3h0M232.4 118.6h0M267.3 78.2h0M244.0 98.4h0M288.2 67.6h0M274.5 82.8h0M247.8 113.5h0M309.3 70.3h0M275.9 75.9h0M269.3 95.0h0M272.5 74.7h0M239.7 97.5h0M257.8 86.3h0M277.9 75.7h0M275.4 82.7h0M256.4 89.0h0M232.6 106.3h0M259.3 86.1h0M312.5 67.0h0M262.5 96.0h0M271.3 99.3h0M316.0 58.3h0M291.4 74.0h0M314.7 56.7h0M242.8 122.4h0M249.1 100.5h0M265.4 91.1h0M262.9 94.9h0M300.6 73.6h0M299.1 78.8h0M306.4 60.8h0M292.5 81.8h0M312.0 70.8h0M297.8 80.5h0M263.3 100.9h0M241.6 89.8h0M299.6 84.0h0M254.9 106.9h0M286.3 73.0h0M263.7 83.4h0M312.9 70.8h0M258.3 100.8h0M270.4 82.7h0M251.5 107.0h0M252.5 101.0h0M341.6 44.4h0M267.8 80.1h0M255.2 91.9h0M273.5 84.0h0M293.0 66.4h0M295.7 70.7h0M250.0 98.8h0M248.5 91.9h0M239.4 100.1h0M310.2 54.8h0M283.5 78.7h0M268.2 88.5h0M247.9 92.1h0M308.8 51.3h0M259.5 82.9h0M258.2 89.8h0M264.3 99.9h0M302.3 63.1h0M272.5 81.2h0M290.1 66.0h0M313.2 65.1h0M248.3 96.3h0M288.3 72.4h0M339.0 37.9h0M343.7 50.9h0M348.0 48.9h0M270.4 87.2h0M277.6 87.8h0M278.2 79.9h0M320.8 52.5h0M296.1 67.5h0M248.8 107.5h0M257.0 99.4h0M258.1 89.5h0M306.2 57.8h0M261.3 84.9h0M293.7 89.0h0M228.2 120.5h0M239.3 97.7h0M265.2 96.7h0M288.3 73.3h0M286.1 75.1h0M299.4 74.1h0M338.6 52.2h0M276.2 87.7h0M274.3 87.5h0M281.3 74.7h0M261.4 81.9h0M282.3 84.8h0M293.0 74.5h0M229.3 111.4h0M298.9 69.9h0M292.6 80.1h0M243.0 106.7h0M321.6 55.9h0M274.6 84.4h0M313.7 64.2h0M287.8 79.7h0M266.2 85.3h0M248.5 112.5h0M332.9 56.8h0M303.2 75.8h0M255.2 103.0h0M324.5 53.3h0M269.5 81.0h0M234.3 114.5h0M288.9 82.0h0M277.7 82.9h0M266.3 100.2h0M271.2 78.4h0M308.2 67.4h0M310.0 76.9h0M273.6 73.4h0M260.7 76.3h0M310.0 54.8h0M252.2 99.5h0M277.1 77.6h0M331.6 72.9h0M350.0 46.7h0M249.4 91.8h0M254.2 108.8h0M322.2 56.9h0M280.7 72.4h0M277.7 72.6h0M258.7 97.0h0M276.7 83.5h0M253.0 86.1h0M296.1 82.2h0M322.6 46.7h0M257.3 104.1h0M337.8 51.0h0M271.1 94.7h0M294.3 73.6h0M303.9 81.7h0M303.3 75.7h0M267.6 79.4h0M293.3 62.6h0M290.5 72.0h0M265.0 92.9h0M319.0 71.3h0M286.4 82.6h0M281.9 90.9h0M251.2 88.3h0M301.1 86.5h0M284.5 66.8h0M249.4 95.8h0M274.8 82.7h0M278.4 98.2h0M260.7 98.4h0M306.2 71.7h0M338.1 45.6h0M314.9 69.8h0M263.8 109.4h0M248.9 91.2h0M272.2 84.8h0M277.4 81.0h0M264.3 87.3h0M268.3 84.9h0M339.9 45.0h0M237.8 101.8h0M269.1 92.0h0M274.8 83.2h0M264.5 93.8h0M254.9 99.1h0M329.5 47.9h0M273.8 85.5h0M308.5 76.1h0M342.2 51.9h0M266.4 91.3h0M283.2 81.7h0M255.0 104.8h0M289.0 75.6h0M249.7 87.7h0M248.1 94.8h0M320.8 79.1h0M325.1 77.7h0M332.1 69.7h0M337.0 65.0h0M341.9 62.7h0M304.5 86.1h0M294.8 90.7h0M287.7 93.1h0M229.3 103.8h0M233.1 94.5h0M238.5 89.8h0M245.5 84.2h0M252.5 78.1h0M233.1 124.9h0M237.4 123.9h0M243.3 122.5h0M236.3 127.2h0M256.9 72.6h0M256.6 70.7h0M253.8 74.0h0M256.4 74.7h0M253.0 66.6h0M252.2 66.5h0M256.0 64.2h0" stroke="#d63838" stroke-width="1.8" stroke-linecap="round" fill="none"/><rect x="220.6" y="23.0" width="130.5" height="112.6" fill="none" stroke="#2e6ca8" stroke-width="1.5"/><text x="212.0" y="138.8" font-size="9.5" fill="#606060" text-anchor="end">1.3</text><text x="220.6" y="150.8" font-size="9.5" fill="#606060" text-anchor="middle">1.3</text><text x="212.0" y="115.4" font-size="9.5" fill="#606060" text-anchor="end">1.8</text><text x="247.7" y="150.8" font-size="9.5" fill="#606060" text-anchor="middle">1.8</text><text x="212.0" y="92.1" font-size="9.5" fill="#606060" text-anchor="end">2.3</text><text x="274.7" y="150.8" font-size="9.5" fill="#606060" text-anchor="middle">2.3</text><text x="212.0" y="68.7" font-size="9.5" fill="#606060" text-anchor="end">2.8</text><text x="301.8" y="150.8" font-size="9.5" fill="#606060" text-anchor="middle">2.8</text><text x="212.0" y="45.4" font-size="9.5" fill="#606060" text-anchor="end">3.3</text><text x="328.9" y="150.8" font-size="9.5" fill="#606060" text-anchor="middle">3.3</text><text x="285.9" y="165.5" font-size="10.8" font-weight="bold" fill="#595959" text-anchor="middle" xml:space="preserve">Groundtruth  (kW)</text><text transform="translate(195.4 79.3) rotate(-90)" font-size="10.8" font-weight="bold" fill="#595959" text-anchor="middle" xml:space="preserve" x="0" y="0">Prediction  (kW)</text><text x="284.5" y="18.6" font-size="19.5" font-weight="bold" fill="#505050" text-anchor="middle">VMD</text><text x="208.0" y="19.5" font-size="8.5" fill="#2a2a2a">1×10<tspan font-size="5.5" dy="-3.2">3</tspan></text><text x="345.6" y="145.1" font-size="8.5" fill="#2a2a2a">1×10<tspan font-size="5.5" dy="-3.2">3</tspan></text></g>
<g><path d="M430.6 21.0V134.6M403.4 111.0H534.6M457.8 21.0V134.6M403.4 87.5H534.6M485.1 21.0V134.6M403.4 63.9H534.6M512.3 21.0V134.6M403.4 40.3H534.6" stroke="#d9d9d9" stroke-width="1" fill="none"/><path d="M465.5 77.4h0M438.0 87.3h0M504.1 60.6h0M440.4 79.4h0M452.8 79.0h0M465.4 83.4h0M440.6 94.0h0M456.0 90.3h0M460.8 97.1h0M447.6 78.4h0M498.8 52.8h0M498.0 60.9h0M464.2 66.2h0M441.8 103.9h0M451.1 82.2h0M510.6 46.0h0M511.3 50.4h0M475.8 87.5h0M485.7 72.7h0M484.9 65.5h0M474.4 80.9h0M418.0 114.9h0M445.3 91.0h0M449.5 77.8h0M529.3 33.3h0M485.5 64.5h0M425.9 100.2h0M486.2 85.7h0M424.8 104.3h0M509.7 62.4h0M440.1 98.1h0M473.2 70.0h0M461.0 91.2h0M452.2 89.0h0M454.3 90.8h0M530.4 53.2h0M463.8 86.8h0M487.1 76.9h0M470.1 67.6h0M507.3 54.5h0M494.0 60.9h0M451.5 90.9h0M503.5 53.3h0M498.5 69.8h0M473.2 84.6h0M448.2 101.9h0M450.5 83.7h0M454.3 78.7h0M455.4 84.4h0M420.5 97.0h0M455.7 78.8h0M425.4 117.1h0M522.1 38.4h0M445.2 75.7h0M440.8 77.8h0M505.3 42.3h0M464.3 94.4h0M449.9 86.2h0M453.2 84.0h0M417.9 98.1h0M464.9 65.9h0M453.6 89.6h0M432.6 90.7h0M485.7 84.0h0M430.3 107.9h0M420.4 109.1h0M517.8 33.3h0M453.1 97.9h0M457.4 83.6h0M439.3 82.5h0M446.7 78.8h0M413.1 100.6h0M436.0 109.5h0M431.5 90.8h0M450.8 91.9h0M440.0 91.9h0M427.1 107.6h0M462.2 92.9h0M511.3 58.8h0M525.2 49.4h0M446.8 84.3h0M482.0 77.4h0M452.3 88.2h0M473.7 72.5h0M495.0 54.4h0M461.6 65.9h0M481.6 67.7h0M426.5 107.9h0M471.3 82.1h0M431.3 100.5h0M460.6 83.0h0M441.0 100.7h0M468.4 70.7h0M458.9 67.4h0M437.7 93.0h0M454.5 88.8h0M529.9 35.6h0M437.8 88.0h0M467.5 80.5h0M446.0 83.3h0M460.2 68.3h0M451.5 76.5h0M451.8 95.7h0M437.2 108.1h0M456.2 87.4h0M446.1 82.2h0M433.4 101.5h0M486.1 56.0h0M419.0 102.0h0M484.2 87.6h0M435.9 93.2h0M453.6 98.9h0M486.9 57.8h0M435.6 99.9h0M534.1 53.6h0M434.5 101.3h0M533.2 46.3h0M441.5 101.6h0M454.1 82.4h0M489.8 74.0h0M450.9 94.5h0M429.1 109.0h0M458.6 77.1h0M478.2 72.8h0M463.7 73.3h0M419.7 103.8h0M461.4 68.5h0M452.7 89.7h0M531.0 54.6h0M462.9 89.9h0M448.9 78.9h0M436.0 97.0h0M453.7 91.3h0M427.2 89.2h0M441.2 79.6h0M490.7 58.2h0M433.8 89.2h0M451.6 82.1h0M504.9 60.4h0M415.3 105.6h0M418.2 104.0h0M440.1 111.9h0M471.1 76.5h0M481.0 77.4h0M473.5 95.0h0M431.5 91.8h0M500.9 82.4h0M497.2 57.3h0M486.9 77.7h0M462.3 80.7h0M420.9 95.4h0M502.5 43.1h0M462.0 69.7h0M429.8 98.3h0M414.4 114.8h0M465.6 71.7h0M455.4 101.6h0M447.6 77.1h0M437.3 91.9h0M533.8 48.8h0M499.1 54.5h0M442.5 97.5h0M436.0 90.4h0M435.5 99.6h0M460.7 72.4h0M513.6 48.7h0M450.6 78.4h0M474.4 79.5h0M468.0 66.3h0M503.8 42.8h0M444.6 97.0h0M457.6 98.4h0M470.5 76.9h0M445.8 82.3h0M479.3 74.8h0M530.6 30.8h0M470.9 79.6h0M525.2 37.5h0M443.5 96.7h0M447.7 86.1h0M446.5 99.8h0M473.3 75.7h0M483.4 66.2h0M440.1 96.3h0M450.1 96.5h0M418.8 102.4h0M436.9 103.9h0M439.3 109.4h0M441.0 88.8h0M439.9 92.9h0M468.6 90.2h0M417.2 105.5h0M426.8 114.5h0M455.2 91.8h0M425.5 100.7h0M412.0 114.8h0M442.7 98.5h0M448.4 87.9h0M455.5 92.0h0M443.2 90.1h0M460.7 66.2h0M445.9 95.7h0M483.5 69.3h0M478.4 66.8h0M481.3 70.5h0M434.8 107.7h0M446.0 86.4h0M429.5 96.8h0M506.6 58.7h0M453.8 73.7h0M418.6 104.7h0M464.7 78.3h0M467.3 83.7h0M534.1 49.1h0M486.4 75.0h0M451.1 81.6h0M480.6 71.5h0M430.0 106.8h0M431.0 114.5h0M499.2 63.7h0M452.0 91.2h0M443.2 106.6h0M468.5 69.3h0M511.2 52.1h0M476.4 80.4h0M438.5 79.3h0M472.8 75.3h0M462.3 79.7h0M508.2 67.5h0M438.8 110.7h0M489.6 59.1h0M506.8 72.3h0M471.4 83.7h0M523.8 49.6h0M532.8 46.4h0M461.3 85.5h0M443.2 88.9h0M416.7 118.4h0M439.0 98.5h0M463.3 95.1h0M523.8 47.3h0M475.9 75.1h0M485.4 74.7h0M494.7 65.0h0M474.6 83.8h0M439.3 95.4h0M459.4 80.7h0M431.0 97.4h0M410.6 110.9h0M426.3 96.8h0M430.7 101.1h0M511.3 60.3h0M470.9 65.1h0M494.7 70.3h0M453.0 87.0h0M450.5 91.6h0M444.9 78.1h0M473.6 70.2h0M516.0 54.4h0M423.4 111.2h0M475.8 86.5h0M426.8 88.2h0M461.7 70.4h0M470.6 83.0h0M493.6 72.5h0M471.9 94.6h0M427.5 101.5h0M434.8 107.6h0M438.6 107.9h0M427.5 106.4h0M430.9 95.5h0M418.4 104.8h0M512.8 45.5h0M529.8 34.5h0M453.6 76.7h0M533.1 42.9h0M432.7 97.9h0M512.8 52.7h0M451.1 94.9h0M448.2 84.7h0M434.6 88.8h0M470.6 98.2h0M504.8 54.1h0M451.1 87.2h0M469.3 72.7h0M496.2 77.3h0M506.1 56.7h0M447.0 86.9h0M476.0 74.1h0M480.1 56.1h0M451.2 90.9h0M436.2 86.3h0M435.9 92.9h0M460.3 79.6h0M492.7 78.4h0M489.6 55.6h0M427.0 103.7h0M466.7 73.2h0M487.8 55.2h0M463.9 103.7h0M422.6 111.1h0M457.8 94.8h0M470.4 79.4h0M413.1 102.3h0M446.4 80.5h0M431.8 101.2h0M478.7 74.8h0M463.5 86.4h0M469.5 82.0h0M468.6 79.2h0M429.1 86.6h0M411.7 107.5h0M492.6 61.6h0M428.2 90.5h0M493.1 74.4h0M448.8 88.5h0M487.6 62.6h0M415.3 112.3h0M450.8 83.9h0M462.3 78.7h0M451.3 84.3h0M448.9 93.0h0M434.5 98.9h0M494.2 59.8h0M463.6 78.1h0M439.3 95.2h0M456.6 90.1h0M444.8 82.6h0M432.2 100.8h0M422.7 107.4h0M462.4 67.5h0M413.5 102.2h0M505.2 62.9h0M475.7 74.1h0M492.3 73.7h0M425.6 103.0h0M491.8 68.7h0M425.7 102.1h0M504.3 56.7h0M417.3 105.0h0M533.8 48.5h0M491.1 55.6h0M462.6 82.0h0M466.6 76.2h0M438.7 98.8h0M449.3 74.7h0M465.5 95.2h0M430.7 101.1h0M441.7 90.4h0M471.3 72.5h0M432.0 100.2h0M494.6 81.5h0M475.6 74.7h0M447.1 79.5h0M455.2 90.8h0M417.4 99.8h0M528.7 30.9h0M481.5 78.8h0M513.1 50.7h0M438.9 91.3h0M487.0 75.9h0M514.0 45.9h0M461.1 75.7h0M454.4 92.7h0M464.3 75.0h0M464.9 74.1h0M454.3 90.4h0M433.1 105.6h0M438.7 98.8h0M454.4 92.9h0M421.6 104.9h0M421.8 104.2h0M457.1 91.3h0M480.3 67.0h0M445.5 91.7h0M469.1 75.7h0M490.0 82.1h0M478.3 67.1h0M483.7 69.4h0M529.7 47.5h0M526.9 49.0h0M421.7 117.9h0M479.2 68.9h0M515.8 60.6h0M450.3 93.6h0M450.2 90.4h0M513.9 53.1h0M448.3 83.8h0M450.4 98.7h0M429.1 105.6h0M480.6 71.8h0M433.1 98.2h0M439.6 81.7h0M458.0 90.6h0M447.6 87.5h0M484.9 75.6h0M469.4 74.6h0M438.4 106.7h0M524.8 53.1h0M434.2 110.6h0M451.4 82.6h0M418.1 109.0h0M452.3 84.0h0M470.2 81.0h0M444.9 79.8h0M463.5 83.8h0M457.3 80.9h0M476.1 82.9h0M440.8 110.8h0M450.3 94.7h0M437.7 95.0h0M458.0 100.5h0M463.9 98.8h0M484.3 60.3h0M473.3 71.2h0M425.1 93.0h0M451.8 88.3h0M455.6 92.5h0M477.5 70.5h0M521.6 42.1h0M434.3 109.7h0M467.8 89.6h0M459.2 68.6h0M449.8 95.5h0M451.6 100.5h0M452.7 93.2h0M432.7 98.9h0M510.5 71.1h0M523.5 52.4h0M447.4 85.9h0M496.8 74.5h0M470.0 66.7h0M454.9 90.2h0M437.6 91.9h0M521.4 51.7h0M518.7 54.8h0M521.7 48.7h0M462.0 82.3h0M427.6 103.5h0M524.0 43.9h0M531.5 52.2h0M496.9 64.1h0M513.9 38.4h0M476.1 73.3h0M533.3 48.3h0M454.3 77.6h0M490.4 63.7h0M480.6 76.3h0M423.7 105.6h0M521.4 51.7h0M436.0 96.2h0M465.1 83.8h0M447.8 97.4h0M449.0 105.0h0M518.9 53.1h0M470.8 87.0h0M446.2 80.7h0M469.4 86.6h0M453.5 82.4h0M471.6 72.8h0M531.5 48.6h0M441.4 98.3h0M458.0 77.1h0M532.3 42.0h0M448.5 103.0h0M456.6 77.2h0M484.7 54.6h0M463.8 78.5h0M442.3 86.2h0M420.8 105.6h0M448.3 85.5h0M448.9 98.5h0M484.6 82.4h0M458.6 86.8h0M418.3 101.2h0M441.8 83.9h0M498.3 54.6h0M450.2 84.4h0M430.6 102.2h0M511.1 62.1h0M455.9 78.9h0M476.2 79.2h0M459.1 67.3h0M509.7 57.1h0M512.4 57.5h0M487.1 58.9h0M455.4 80.9h0M458.5 79.5h0M487.0 71.4h0M421.4 99.6h0M499.5 63.2h0M436.2 92.3h0M508.9 72.7h0M420.4 97.7h0M494.0 72.1h0M457.1 81.5h0M443.4 95.8h0M434.3 94.5h0M491.6 79.2h0M499.1 72.7h0M430.1 88.5h0M478.9 82.0h0M466.2 79.1h0M438.7 99.5h0M441.6 85.7h0M427.9 103.3h0M460.8 74.2h0M474.3 91.2h0M455.1 73.5h0M501.6 62.2h0M419.3 101.9h0M474.0 65.9h0M415.1 107.8h0M422.5 101.4h0M456.6 97.8h0M476.3 71.4h0M477.3 79.7h0M439.2 100.9h0M483.5 69.8h0M413.1 114.1h0M521.7 48.4h0M475.7 83.3h0M455.3 71.7h0M460.1 90.8h0M442.8 94.5h0M442.5 102.6h0M436.8 98.5h0M438.0 108.3h0M514.5 48.2h0M419.5 109.0h0M463.9 81.4h0M527.2 52.2h0M455.9 81.1h0M440.3 103.3h0M456.4 96.2h0M414.2 118.9h0M523.9 47.8h0M459.3 94.1h0M443.8 89.9h0M451.3 75.4h0M462.3 98.3h0M447.0 97.6h0M454.6 76.7h0M447.4 83.9h0M450.2 72.5h0M437.3 99.8h0M521.9 34.7h0M458.1 86.1h0M441.1 76.5h0M495.6 62.2h0M451.5 97.9h0M493.1 71.9h0M493.1 82.3h0M464.7 84.5h0M464.4 85.3h0M420.7 104.5h0M434.2 92.5h0M509.0 62.9h0M444.6 76.3h0M507.0 62.8h0M469.7 76.4h0M464.1 87.5h0M468.8 65.3h0M432.2 94.6h0M465.3 81.6h0M444.3 80.9h0M470.7 78.9h0M502.8 62.0h0M460.1 66.4h0M508.2 67.1h0M466.8 69.7h0M449.9 87.3h0M447.2 87.6h0M432.1 91.4h0M498.0 71.7h0M456.2 88.6h0M495.4 79.7h0M438.3 99.8h0M497.9 63.8h0M454.6 85.3h0M474.5 79.3h0M438.6 80.9h0M446.1 94.4h0M464.5 76.4h0M511.1 58.1h0M501.9 60.3h0M452.9 79.1h0M501.2 52.4h0M496.4 57.9h0M462.7 72.4h0M488.5 63.7h0M488.7 56.4h0M478.8 58.8h0M440.7 97.5h0M426.0 101.5h0M436.3 108.6h0M443.7 109.4h0M444.7 75.0h0M490.1 62.1h0M484.6 65.0h0M481.7 77.2h0M413.1 110.7h0M484.6 59.9h0M512.1 50.3h0M440.4 106.4h0M446.0 81.9h0M432.6 88.6h0M416.5 105.5h0M439.5 88.1h0M425.6 107.0h0M490.1 73.5h0M520.2 47.3h0M524.2 51.4h0M458.5 83.6h0M425.5 96.5h0M433.0 92.1h0M430.2 115.3h0M449.9 77.3h0M521.3 37.3h0M521.9 58.2h0M433.5 107.1h0M481.0 87.4h0M467.9 71.8h0M444.5 88.1h0M533.6 30.1h0M450.5 103.5h0M423.0 108.1h0M447.7 94.9h0M514.0 56.2h0M438.9 87.8h0M445.8 75.8h0M440.7 105.2h0M467.8 86.8h0M436.3 89.6h0M442.0 84.5h0M463.9 85.8h0M434.5 111.0h0M426.0 103.3h0M501.8 58.7h0M465.6 83.0h0M501.5 55.5h0M447.0 84.1h0M449.4 81.6h0M486.6 57.7h0M521.4 55.9h0M439.9 89.6h0M455.7 87.9h0M447.5 90.9h0M471.3 70.5h0M476.1 61.7h0M477.1 71.3h0M478.4 81.1h0M444.5 81.7h0M477.6 89.0h0M462.8 82.5h0M459.6 81.3h0M449.4 85.4h0M429.5 99.1h0M456.4 85.4h0M522.5 54.4h0M444.6 85.5h0M429.1 110.9h0M520.3 45.7h0M496.8 72.2h0M508.4 51.4h0M441.8 108.6h0M418.8 102.3h0M473.3 77.3h0M466.3 65.6h0M492.2 55.0h0M426.1 106.3h0M428.0 108.7h0M470.4 77.7h0M475.0 76.6h0M430.6 103.8h0M507.1 61.9h0M529.7 39.3h0M469.7 72.3h0M512.6 52.1h0M416.7 111.8h0M459.2 95.1h0M438.7 100.3h0M443.4 93.7h0M477.8 97.6h0M533.3 38.9h0M515.3 44.3h0M476.0 70.3h0M530.3 48.2h0M531.4 47.5h0M495.2 48.0h0M436.4 105.9h0M428.5 104.0h0M437.2 110.1h0M435.4 111.8h0M443.9 98.0h0M434.4 86.8h0M434.8 105.9h0M458.2 79.6h0M478.0 70.8h0M476.2 92.7h0M474.1 81.0h0M451.1 89.1h0M439.9 103.9h0M512.9 45.7h0M464.6 78.3h0M462.8 77.7h0M443.2 94.5h0M443.2 84.9h0M534.4 49.2h0M466.9 62.0h0M491.2 59.7h0M472.4 68.3h0M461.4 67.4h0M467.4 85.7h0M438.8 101.7h0M490.1 70.4h0M431.7 97.9h0M497.0 54.3h0M489.8 68.9h0M513.6 62.8h0M422.4 104.9h0M452.0 80.1h0M480.8 57.7h0M450.9 89.3h0M482.9 86.6h0M459.8 68.9h0M521.6 50.1h0M436.1 80.8h0M419.4 113.0h0M453.5 76.0h0M467.4 75.6h0M469.2 77.8h0M500.0 64.2h0M465.6 74.4h0M460.7 85.5h0M419.2 101.2h0M476.2 83.2h0M434.1 101.5h0M464.0 76.2h0M423.8 109.8h0M468.2 78.7h0M437.1 86.7h0M449.7 82.1h0M471.7 66.4h0M466.7 80.1h0M441.1 105.3h0M442.1 91.1h0M442.6 93.3h0M442.6 97.4h0M450.2 85.9h0M434.3 91.5h0M489.2 66.1h0M447.6 78.1h0M518.4 56.4h0M513.3 71.6h0M449.3 95.8h0M424.3 103.3h0M451.2 81.1h0M464.0 81.8h0M483.3 86.1h0M429.9 100.3h0M428.5 88.7h0M456.9 91.0h0M428.5 105.5h0M467.9 80.4h0M506.8 56.2h0M503.1 50.9h0M430.3 92.6h0M477.3 67.2h0M437.9 94.6h0M462.1 77.2h0M424.8 109.7h0M460.3 84.2h0M433.0 90.8h0M477.8 97.0h0M442.2 107.1h0M531.0 40.4h0M466.2 89.8h0M516.1 56.3h0M444.0 90.7h0M472.4 92.7h0M522.4 56.9h0M463.7 68.1h0M440.8 100.2h0M522.4 57.6h0M474.4 72.6h0M449.0 97.3h0M453.4 89.8h0M436.7 89.6h0M484.2 84.6h0M466.7 82.9h0M464.0 65.3h0M483.7 75.2h0M451.7 82.4h0M472.2 76.9h0M433.4 96.0h0M507.3 74.1h0M482.7 73.7h0M449.1 80.2h0M446.9 91.8h0M488.0 64.1h0M469.0 84.3h0M425.2 104.0h0M514.3 49.7h0M525.8 66.2h0M476.7 72.1h0M472.3 91.5h0M441.1 77.4h0M418.5 101.0h0M468.3 84.9h0M446.4 87.3h0M493.3 79.4h0M446.4 91.7h0M471.6 64.7h0M452.9 93.3h0M440.5 94.3h0M438.9 91.6h0M475.9 79.4h0M469.6 70.8h0M448.5 76.3h0M470.5 64.3h0M480.6 64.1h0M467.1 92.2h0M448.3 76.5h0M418.3 116.4h0M436.8 88.0h0M478.1 70.0h0M461.7 83.0h0M488.0 52.8h0M429.8 100.4h0M429.6 104.6h0M483.3 67.5h0M444.1 110.1h0M480.7 86.4h0M505.6 58.5h0M428.9 104.9h0M448.9 80.8h0M442.8 96.3h0M456.7 92.3h0M469.9 84.4h0M533.7 32.1h0M431.2 85.4h0M453.5 99.8h0M440.0 86.2h0M428.0 116.4h0M448.9 84.9h0M447.1 87.4h0M468.1 80.7h0M439.7 101.6h0M466.6 80.6h0M428.3 106.2h0M489.0 58.8h0M446.8 84.7h0M450.1 96.4h0M482.5 63.2h0M438.5 93.6h0M486.0 67.1h0M450.8 85.0h0M505.6 53.3h0M435.3 103.3h0M480.9 75.0h0M498.9 63.8h0M533.4 37.5h0M525.1 45.6h0M420.7 98.9h0M474.4 77.7h0M424.9 119.6h0M502.9 71.3h0M522.4 37.1h0M433.9 98.5h0M437.5 106.0h0M451.0 78.0h0M487.8 55.0h0M456.4 83.5h0M445.8 90.3h0M434.7 109.9h0M444.8 91.0h0M459.9 75.7h0M501.6 80.3h0M533.5 50.9h0M452.5 79.4h0M450.1 89.7h0M455.4 98.9h0M427.4 109.5h0M451.9 84.6h0M464.4 94.2h0M509.8 55.0h0M415.9 106.2h0M419.7 112.7h0M472.9 70.0h0M444.5 77.2h0M514.6 48.4h0M476.4 82.8h0M447.8 85.6h0M437.6 97.5h0M459.9 96.6h0M480.5 71.8h0M430.2 89.1h0M463.1 83.3h0M484.3 55.0h0M527.6 37.7h0M459.7 73.5h0M489.2 70.9h0M418.2 101.8h0M437.5 98.4h0M494.9 61.2h0M440.8 77.5h0M475.5 62.4h0M440.9 101.3h0M479.4 82.5h0M528.5 38.6h0M443.0 102.5h0M468.7 71.4h0M461.8 64.9h0M436.6 84.1h0M454.2 87.5h0M498.3 71.2h0M458.7 77.9h0M443.5 93.8h0M431.9 98.5h0M461.0 72.2h0M437.4 93.7h0M454.0 82.2h0M461.7 75.7h0M467.0 81.7h0M440.8 87.6h0M460.0 91.1h0M442.0 95.6h0M416.5 117.6h0M460.7 81.5h0M503.4 56.1h0M501.1 64.1h0M436.4 101.4h0M462.3 79.6h0M499.9 66.3h0M482.4 76.6h0M431.4 95.4h0M430.7 101.6h0M453.3 85.3h0M463.0 91.4h0M456.0 94.1h0M449.8 73.4h0M452.8 81.0h0M478.9 78.9h0M442.1 102.4h0M435.2 86.3h0M435.3 101.0h0M464.2 68.1h0M473.2 64.5h0M511.4 60.4h0M475.7 63.1h0M448.9 93.5h0M440.6 99.5h0M455.0 99.4h0M445.5 80.0h0M462.5 82.9h0M422.7 107.9h0M492.0 61.4h0M426.9 107.4h0M419.2 103.1h0M523.5 42.2h0M519.4 51.3h0M436.7 88.1h0M483.6 58.5h0M502.2 60.3h0M507.6 60.6h0M424.5 121.0h0M458.0 81.7h0M431.5 93.8h0M450.3 76.7h0M493.0 52.4h0M497.1 56.7h0M447.4 72.2h0M445.1 83.2h0M497.0 66.5h0M465.0 86.2h0M437.0 89.4h0M427.0 95.4h0M525.5 56.6h0M493.6 82.9h0M451.5 94.4h0M494.4 47.8h0M505.1 46.2h0M501.8 58.1h0M487.1 82.8h0M461.1 79.1h0M462.3 91.7h0M449.1 87.4h0M452.1 89.8h0M494.8 68.6h0M457.5 87.5h0M467.3 72.3h0M467.7 71.4h0M496.3 67.2h0M447.4 99.2h0M476.3 85.7h0M447.8 85.2h0M459.1 74.4h0M459.4 88.5h0M433.4 87.5h0M445.5 79.7h0M444.3 92.3h0M452.5 96.8h0M452.2 85.4h0M514.1 58.6h0M440.1 107.9h0M449.5 76.4h0M435.5 101.6h0M483.4 69.3h0M472.7 61.7h0M451.0 82.8h0M468.6 75.7h0M451.7 83.2h0M430.5 88.3h0M471.5 88.3h0M422.0 107.0h0M486.3 76.6h0M469.1 92.2h0M452.1 86.1h0M489.7 61.2h0M456.0 78.1h0M446.3 77.4h0M499.6 77.0h0M488.1 53.3h0M440.4 93.7h0M449.2 96.0h0M448.3 105.7h0M448.8 82.9h0M466.2 68.8h0M534.0 35.3h0M434.9 95.1h0M461.7 86.9h0M443.6 88.1h0M426.0 113.9h0M503.9 67.9h0M425.4 96.6h0M478.0 81.6h0M472.5 68.7h0M458.0 81.9h0M413.7 109.0h0M433.3 89.0h0M517.7 47.0h0M494.4 60.5h0M438.4 110.9h0M429.3 107.4h0M445.2 93.1h0M528.5 37.9h0M524.9 44.7h0M462.2 81.7h0M475.5 77.6h0M476.3 90.3h0M483.4 87.9h0M492.7 85.6h0M499.8 81.8h0M506.3 80.9h0M509.0 83.2h0M518.3 67.2h0M527.5 61.5h0M415.4 121.9h0M420.8 122.8h0M424.6 120.5h0M430.1 117.2h0M418.1 122.3h0M422.5 121.9h0M520.4 30.0h0M524.8 29.0h0M530.8 30.0h0M511.2 37.0h0M504.1 42.7h0" stroke="#0a88a3" stroke-width="2.8" stroke-linecap="round" fill="none"/><path d="M465.5 77.4h0M438.0 87.3h0M504.1 60.6h0M440.4 79.4h0M452.8 79.0h0M465.4 83.4h0M440.6 94.0h0M456.0 90.3h0M460.8 97.1h0M447.6 78.4h0M498.8 52.8h0M498.0 60.9h0M464.2 66.2h0M441.8 103.9h0M451.1 82.2h0M510.6 46.0h0M511.3 50.4h0M475.8 87.5h0M485.7 72.7h0M484.9 65.5h0M474.4 80.9h0M418.0 114.9h0M445.3 91.0h0M449.5 77.8h0M529.3 33.3h0M485.5 64.5h0M425.9 100.2h0M486.2 85.7h0M424.8 104.3h0M509.7 62.4h0M440.1 98.1h0M473.2 70.0h0M461.0 91.2h0M452.2 89.0h0M454.3 90.8h0M530.4 53.2h0M463.8 86.8h0M487.1 76.9h0M470.1 67.6h0M507.3 54.5h0M494.0 60.9h0M451.5 90.9h0M503.5 53.3h0M498.5 69.8h0M473.2 84.6h0M448.2 101.9h0M450.5 83.7h0M454.3 78.7h0M455.4 84.4h0M420.5 97.0h0M455.7 78.8h0M425.4 117.1h0M522.1 38.4h0M445.2 75.7h0M440.8 77.8h0M505.3 42.3h0M464.3 94.4h0M449.9 86.2h0M453.2 84.0h0M417.9 98.1h0M464.9 65.9h0M453.6 89.6h0M432.6 90.7h0M485.7 84.0h0M430.3 107.9h0M420.4 109.1h0M517.8 33.3h0M453.1 97.9h0M457.4 83.6h0M439.3 82.5h0M446.7 78.8h0M413.1 100.6h0M436.0 109.5h0M431.5 90.8h0M450.8 91.9h0M440.0 91.9h0M427.1 107.6h0M462.2 92.9h0M511.3 58.8h0M525.2 49.4h0M446.8 84.3h0M482.0 77.4h0M452.3 88.2h0M473.7 72.5h0M495.0 54.4h0M461.6 65.9h0M481.6 67.7h0M426.5 107.9h0M471.3 82.1h0M431.3 100.5h0M460.6 83.0h0M441.0 100.7h0M468.4 70.7h0M458.9 67.4h0M437.7 93.0h0M454.5 88.8h0M529.9 35.6h0M437.8 88.0h0M467.5 80.5h0M446.0 83.3h0M460.2 68.3h0M451.5 76.5h0M451.8 95.7h0M437.2 108.1h0M456.2 87.4h0M446.1 82.2h0M433.4 101.5h0M486.1 56.0h0M419.0 102.0h0M484.2 87.6h0M435.9 93.2h0M453.6 98.9h0M486.9 57.8h0M435.6 99.9h0M534.1 53.6h0M434.5 101.3h0M533.2 46.3h0M441.5 101.6h0M454.1 82.4h0M489.8 74.0h0M450.9 94.5h0M429.1 109.0h0M458.6 77.1h0M478.2 72.8h0M463.7 73.3h0M419.7 103.8h0M461.4 68.5h0M452.7 89.7h0M531.0 54.6h0M462.9 89.9h0M448.9 78.9h0M436.0 97.0h0M453.7 91.3h0M427.2 89.2h0M441.2 79.6h0M490.7 58.2h0M433.8 89.2h0M451.6 82.1h0M504.9 60.4h0M415.3 105.6h0M418.2 104.0h0M440.1 111.9h0M471.1 76.5h0M481.0 77.4h0M473.5 95.0h0M431.5 91.8h0M500.9 82.4h0M497.2 57.3h0M486.9 77.7h0M462.3 80.7h0M420.9 95.4h0M502.5 43.1h0M462.0 69.7h0M429.8 98.3h0M414.4 114.8h0M465.6 71.7h0M455.4 101.6h0M447.6 77.1h0M437.3 91.9h0M533.8 48.8h0M499.1 54.5h0M442.5 97.5h0M436.0 90.4h0M435.5 99.6h0M460.7 72.4h0M513.6 48.7h0M450.6 78.4h0M474.4 79.5h0M468.0 66.3h0M503.8 42.8h0M444.6 97.0h0M457.6 98.4h0M470.5 76.9h0M445.8 82.3h0M479.3 74.8h0M530.6 30.8h0M470.9 79.6h0M525.2 37.5h0M443.5 96.7h0M447.7 86.1h0M446.5 99.8h0M473.3 75.7h0M483.4 66.2h0M440.1 96.3h0M450.1 96.5h0M418.8 102.4h0M436.9 103.9h0M439.3 109.4h0M441.0 88.8h0M439.9 92.9h0M468.6 90.2h0M417.2 105.5h0M426.8 114.5h0M455.2 91.8h0M425.5 100.7h0M412.0 114.8h0M442.7 98.5h0M448.4 87.9h0M455.5 92.0h0M443.2 90.1h0M460.7 66.2h0M445.9 95.7h0M483.5 69.3h0M478.4 66.8h0M481.3 70.5h0M434.8 107.7h0M446.0 86.4h0M429.5 96.8h0M506.6 58.7h0M453.8 73.7h0M418.6 104.7h0M464.7 78.3h0M467.3 83.7h0M534.1 49.1h0M486.4 75.0h0M451.1 81.6h0M480.6 71.5h0M430.0 106.8h0M431.0 114.5h0M499.2 63.7h0M452.0 91.2h0M443.2 106.6h0M468.5 69.3h0M511.2 52.1h0M476.4 80.4h0M438.5 79.3h0M472.8 75.3h0M462.3 79.7h0M508.2 67.5h0M438.8 110.7h0M489.6 59.1h0M506.8 72.3h0M471.4 83.7h0M523.8 49.6h0M532.8 46.4h0M461.3 85.5h0M443.2 88.9h0M416.7 118.4h0M439.0 98.5h0M463.3 95.1h0M523.8 47.3h0M475.9 75.1h0M485.4 74.7h0M494.7 65.0h0M474.6 83.8h0M439.3 95.4h0M459.4 80.7h0M431.0 97.4h0M410.6 110.9h0M426.3 96.8h0M430.7 101.1h0M511.3 60.3h0M470.9 65.1h0M494.7 70.3h0M453.0 87.0h0M450.5 91.6h0M444.9 78.1h0M473.6 70.2h0M516.0 54.4h0M423.4 111.2h0M475.8 86.5h0M426.8 88.2h0M461.7 70.4h0M470.6 83.0h0M493.6 72.5h0M471.9 94.6h0M427.5 101.5h0M434.8 107.6h0M438.6 107.9h0M427.5 106.4h0M430.9 95.5h0M418.4 104.8h0M512.8 45.5h0M529.8 34.5h0M453.6 76.7h0M533.1 42.9h0M432.7 97.9h0M512.8 52.7h0M451.1 94.9h0M448.2 84.7h0M434.6 88.8h0M470.6 98.2h0M504.8 54.1h0M451.1 87.2h0M469.3 72.7h0M496.2 77.3h0M506.1 56.7h0M447.0 86.9h0M476.0 74.1h0M480.1 56.1h0M451.2 90.9h0M436.2 86.3h0M435.9 92.9h0M460.3 79.6h0M492.7 78.4h0M489.6 55.6h0M427.0 103.7h0M466.7 73.2h0M487.8 55.2h0M463.9 103.7h0M422.6 111.1h0M457.8 94.8h0M470.4 79.4h0M413.1 102.3h0M446.4 80.5h0M431.8 101.2h0M478.7 74.8h0M463.5 86.4h0M469.5 82.0h0M468.6 79.2h0M429.1 86.6h0M411.7 107.5h0M492.6 61.6h0M428.2 90.5h0M493.1 74.4h0M448.8 88.5h0M487.6 62.6h0M415.3 112.3h0M450.8 83.9h0M462.3 78.7h0M451.3 84.3h0M448.9 93.0h0M434.5 98.9h0M494.2 59.8h0M463.6 78.1h0M439.3 95.2h0M456.6 90.1h0M444.8 82.6h0M432.2 100.8h0M422.7 107.4h0M462.4 67.5h0M413.5 102.2h0M505.2 62.9h0M475.7 74.1h0M492.3 73.7h0M425.6 103.0h0M491.8 68.7h0M425.7 102.1h0M504.3 56.7h0M417.3 105.0h0M533.8 48.5h0M491.1 55.6h0M462.6 82.0h0M466.6 76.2h0M438.7 98.8h0M449.3 74.7h0M465.5 95.2h0M430.7 101.1h0M441.7 90.4h0M471.3 72.5h0M432.0 100.2h0M494.6 81.5h0M475.6 74.7h0M447.1 79.5h0M455.2 90.8h0M417.4 99.8h0M528.7 30.9h0M481.5 78.8h0M513.1 50.7h0M438.9 91.3h0M487.0 75.9h0M514.0 45.9h0M461.1 75.7h0M454.4 92.7h0M464.3 75.0h0M464.9 74.1h0M454.3 90.4h0M433.1 105.6h0M438.7 98.8h0M454.4 92.9h0M421.6 104.9h0M421.8 104.2h0M457.1 91.3h0M480.3 67.0h0M445.5 91.7h0M469.1 75.7h0M490.0 82.1h0M478.3 67.1h0M483.7 69.4h0M529.7 47.5h0M526.9 49.0h0M421.7 117.9h0M479.2 68.9h0M515.8 60.6h0M450.3 93.6h0M450.2 90.4h0M513.9 53.1h0M448.3 83.8h0M450.4 98.7h0M429.1 105.6h0M480.6 71.8h0M433.1 98.2h0M439.6 81.7h0M458.0 90.6h0M447.6 87.5h0M484.9 75.6h0M469.4 74.6h0M438.4 106.7h0M524.8 53.1h0M434.2 110.6h0M451.4 82.6h0M418.1 109.0h0M452.3 84.0h0M470.2 81.0h0M444.9 79.8h0M463.5 83.8h0M457.3 80.9h0M476.1 82.9h0M440.8 110.8h0M450.3 94.7h0M437.7 95.0h0M458.0 100.5h0M463.9 98.8h0M484.3 60.3h0M473.3 71.2h0M425.1 93.0h0M451.8 88.3h0M455.6 92.5h0M477.5 70.5h0M521.6 42.1h0M434.3 109.7h0M467.8 89.6h0M459.2 68.6h0M449.8 95.5h0M451.6 100.5h0M452.7 93.2h0M432.7 98.9h0M510.5 71.1h0M523.5 52.4h0M447.4 85.9h0M496.8 74.5h0M470.0 66.7h0M454.9 90.2h0M437.6 91.9h0M521.4 51.7h0M518.7 54.8h0M521.7 48.7h0M462.0 82.3h0M427.6 103.5h0M524.0 43.9h0M531.5 52.2h0M496.9 64.1h0M513.9 38.4h0M476.1 73.3h0M533.3 48.3h0M454.3 77.6h0M490.4 63.7h0M480.6 76.3h0M423.7 105.6h0M521.4 51.7h0M436.0 96.2h0M465.1 83.8h0M447.8 97.4h0M449.0 105.0h0M518.9 53.1h0M470.8 87.0h0M446.2 80.7h0M469.4 86.6h0M453.5 82.4h0M471.6 72.8h0M531.5 48.6h0M441.4 98.3h0M458.0 77.1h0M532.3 42.0h0M448.5 103.0h0M456.6 77.2h0M484.7 54.6h0M463.8 78.5h0M442.3 86.2h0M420.8 105.6h0M448.3 85.5h0M448.9 98.5h0M484.6 82.4h0M458.6 86.8h0M418.3 101.2h0M441.8 83.9h0M498.3 54.6h0M450.2 84.4h0M430.6 102.2h0M511.1 62.1h0M455.9 78.9h0M476.2 79.2h0M459.1 67.3h0M509.7 57.1h0M512.4 57.5h0M487.1 58.9h0M455.4 80.9h0M458.5 79.5h0M487.0 71.4h0M421.4 99.6h0M499.5 63.2h0M436.2 92.3h0M508.9 72.7h0M420.4 97.7h0M494.0 72.1h0M457.1 81.5h0M443.4 95.8h0M434.3 94.5h0M491.6 79.2h0M499.1 72.7h0M430.1 88.5h0M478.9 82.0h0M466.2 79.1h0M438.7 99.5h0M441.6 85.7h0M427.9 103.3h0M460.8 74.2h0M474.3 91.2h0M455.1 73.5h0M501.6 62.2h0M419.3 101.9h0M474.0 65.9h0M415.1 107.8h0M422.5 101.4h0M456.6 97.8h0M476.3 71.4h0M477.3 79.7h0M439.2 100.9h0M483.5 69.8h0M413.1 114.1h0M521.7 48.4h0M475.7 83.3h0M455.3 71.7h0M460.1 90.8h0M442.8 94.5h0M442.5 102.6h0M436.8 98.5h0M438.0 108.3h0M514.5 48.2h0M419.5 109.0h0M463.9 81.4h0M527.2 52.2h0M455.9 81.1h0M440.3 103.3h0M456.4 96.2h0M414.2 118.9h0M523.9 47.8h0M459.3 94.1h0M443.8 89.9h0M451.3 75.4h0M462.3 98.3h0M447.0 97.6h0M454.6 76.7h0M447.4 83.9h0M450.2 72.5h0M437.3 99.8h0M521.9 34.7h0M458.1 86.1h0M441.1 76.5h0M495.6 62.2h0M451.5 97.9h0M493.1 71.9h0M493.1 82.3h0M464.7 84.5h0M464.4 85.3h0M420.7 104.5h0M434.2 92.5h0M509.0 62.9h0M444.6 76.3h0M507.0 62.8h0M469.7 76.4h0M464.1 87.5h0M468.8 65.3h0M432.2 94.6h0M465.3 81.6h0M444.3 80.9h0M470.7 78.9h0M502.8 62.0h0M460.1 66.4h0M508.2 67.1h0M466.8 69.7h0M449.9 87.3h0M447.2 87.6h0M432.1 91.4h0M498.0 71.7h0M456.2 88.6h0M495.4 79.7h0M438.3 99.8h0M497.9 63.8h0M454.6 85.3h0M474.5 79.3h0M438.6 80.9h0M446.1 94.4h0M464.5 76.4h0M511.1 58.1h0M501.9 60.3h0M452.9 79.1h0M501.2 52.4h0M496.4 57.9h0M462.7 72.4h0M488.5 63.7h0M488.7 56.4h0M478.8 58.8h0M440.7 97.5h0M426.0 101.5h0M436.3 108.6h0M443.7 109.4h0M444.7 75.0h0M490.1 62.1h0M484.6 65.0h0M481.7 77.2h0M413.1 110.7h0M484.6 59.9h0M512.1 50.3h0M440.4 106.4h0M446.0 81.9h0M432.6 88.6h0M416.5 105.5h0M439.5 88.1h0M425.6 107.0h0M490.1 73.5h0M520.2 47.3h0M524.2 51.4h0M458.5 83.6h0M425.5 96.5h0M433.0 92.1h0M430.2 115.3h0M449.9 77.3h0M521.3 37.3h0M521.9 58.2h0M433.5 107.1h0M481.0 87.4h0M467.9 71.8h0M444.5 88.1h0M533.6 30.1h0M450.5 103.5h0M423.0 108.1h0M447.7 94.9h0M514.0 56.2h0M438.9 87.8h0M445.8 75.8h0M440.7 105.2h0M467.8 86.8h0M436.3 89.6h0M442.0 84.5h0M463.9 85.8h0M434.5 111.0h0M426.0 103.3h0M501.8 58.7h0M465.6 83.0h0M501.5 55.5h0M447.0 84.1h0M449.4 81.6h0M486.6 57.7h0M521.4 55.9h0M439.9 89.6h0M455.7 87.9h0M447.5 90.9h0M471.3 70.5h0M476.1 61.7h0M477.1 71.3h0M478.4 81.1h0M444.5 81.7h0M477.6 89.0h0M462.8 82.5h0M459.6 81.3h0M449.4 85.4h0M429.5 99.1h0M456.4 85.4h0M522.5 54.4h0M444.6 85.5h0M429.1 110.9h0M520.3 45.7h0M496.8 72.2h0M508.4 51.4h0M441.8 108.6h0M418.8 102.3h0M473.3 77.3h0M466.3 65.6h0M492.2 55.0h0M426.1 106.3h0M428.0 108.7h0M470.4 77.7h0M475.0 76.6h0M430.6 103.8h0M507.1 61.9h0M529.7 39.3h0M469.7 72.3h0M512.6 52.1h0M416.7 111.8h0M459.2 95.1h0M438.7 100.3h0M443.4 93.7h0M477.8 97.6h0M533.3 38.9h0M515.3 44.3h0M476.0 70.3h0M530.3 48.2h0M531.4 47.5h0M495.2 48.0h0M436.4 105.9h0M428.5 104.0h0M437.2 110.1h0M435.4 111.8h0M443.9 98.0h0M434.4 86.8h0M434.8 105.9h0M458.2 79.6h0M478.0 70.8h0M476.2 92.7h0M474.1 81.0h0M451.1 89.1h0M439.9 103.9h0M512.9 45.7h0M464.6 78.3h0M462.8 77.7h0M443.2 94.5h0M443.2 84.9h0M534.4 49.2h0M466.9 62.0h0M491.2 59.7h0M472.4 68.3h0M461.4 67.4h0M467.4 85.7h0M438.8 101.7h0M490.1 70.4h0M431.7 97.9h0M497.0 54.3h0M489.8 68.9h0M513.6 62.8h0M422.4 104.9h0M452.0 80.1h0M480.8 57.7h0M450.9 89.3h0M482.9 86.6h0M459.8 68.9h0M521.6 50.1h0M436.1 80.8h0M419.4 113.0h0M453.5 76.0h0M467.4 75.6h0M469.2 77.8h0M500.0 64.2h0M465.6 74.4h0M460.7 85.5h0M419.2 101.2h0M476.2 83.2h0M434.1 101.5h0M464.0 76.2h0M423.8 109.8h0M468.2 78.7h0M437.1 86.7h0M449.7 82.1h0M471.7 66.4h0M466.7 80.1h0M441.1 105.3h0M442.1 91.1h0M442.6 93.3h0M442.6 97.4h0M450.2 85.9h0M434.3 91.5h0M489.2 66.1h0M447.6 78.1h0M518.4 56.4h0M513.3 71.6h0M449.3 95.8h0M424.3 103.3h0M451.2 81.1h0M464.0 81.8h0M483.3 86.1h0M429.9 100.3h0M428.5 88.7h0M456.9 91.0h0M428.5 105.5h0M467.9 80.4h0M506.8 56.2h0M503.1 50.9h0M430.3 92.6h0M477.3 67.2h0M437.9 94.6h0M462.1 77.2h0M424.8 109.7h0M460.3 84.2h0M433.0 90.8h0M477.8 97.0h0M442.2 107.1h0M531.0 40.4h0M466.2 89.8h0M516.1 56.3h0M444.0 90.7h0M472.4 92.7h0M522.4 56.9h0M463.7 68.1h0M440.8 100.2h0M522.4 57.6h0M474.4 72.6h0M449.0 97.3h0M453.4 89.8h0M436.7 89.6h0M484.2 84.6h0M466.7 82.9h0M464.0 65.3h0M483.7 75.2h0M451.7 82.4h0M472.2 76.9h0M433.4 96.0h0M507.3 74.1h0M482.7 73.7h0M449.1 80.2h0M446.9 91.8h0M488.0 64.1h0M469.0 84.3h0M425.2 104.0h0M514.3 49.7h0M525.8 66.2h0M476.7 72.1h0M472.3 91.5h0M441.1 77.4h0M418.5 101.0h0M468.3 84.9h0M446.4 87.3h0M493.3 79.4h0M446.4 91.7h0M471.6 64.7h0M452.9 93.3h0M440.5 94.3h0M438.9 91.6h0M475.9 79.4h0M469.6 70.8h0M448.5 76.3h0M470.5 64.3h0M480.6 64.1h0M467.1 92.2h0M448.3 76.5h0M418.3 116.4h0M436.8 88.0h0M478.1 70.0h0M461.7 83.0h0M488.0 52.8h0M429.8 100.4h0M429.6 104.6h0M483.3 67.5h0M444.1 110.1h0M480.7 86.4h0M505.6 58.5h0M428.9 104.9h0M448.9 80.8h0M442.8 96.3h0M456.7 92.3h0M469.9 84.4h0M533.7 32.1h0M431.2 85.4h0M453.5 99.8h0M440.0 86.2h0M428.0 116.4h0M448.9 84.9h0M447.1 87.4h0M468.1 80.7h0M439.7 101.6h0M466.6 80.6h0M428.3 106.2h0M489.0 58.8h0M446.8 84.7h0M450.1 96.4h0M482.5 63.2h0M438.5 93.6h0M486.0 67.1h0M450.8 85.0h0M505.6 53.3h0M435.3 103.3h0M480.9 75.0h0M498.9 63.8h0M533.4 37.5h0M525.1 45.6h0M420.7 98.9h0M474.4 77.7h0M424.9 119.6h0M502.9 71.3h0M522.4 37.1h0M433.9 98.5h0M437.5 106.0h0M451.0 78.0h0M487.8 55.0h0M456.4 83.5h0M445.8 90.3h0M434.7 109.9h0M444.8 91.0h0M459.9 75.7h0M501.6 80.3h0M533.5 50.9h0M452.5 79.4h0M450.1 89.7h0M455.4 98.9h0M427.4 109.5h0M451.9 84.6h0M464.4 94.2h0M509.8 55.0h0M415.9 106.2h0M419.7 112.7h0M472.9 70.0h0M444.5 77.2h0M514.6 48.4h0M476.4 82.8h0M447.8 85.6h0M437.6 97.5h0M459.9 96.6h0M480.5 71.8h0M430.2 89.1h0M463.1 83.3h0M484.3 55.0h0M527.6 37.7h0M459.7 73.5h0M489.2 70.9h0M418.2 101.8h0M437.5 98.4h0M494.9 61.2h0M440.8 77.5h0M475.5 62.4h0M440.9 101.3h0M479.4 82.5h0M528.5 38.6h0M443.0 102.5h0M468.7 71.4h0M461.8 64.9h0M436.6 84.1h0M454.2 87.5h0M498.3 71.2h0M458.7 77.9h0M443.5 93.8h0M431.9 98.5h0M461.0 72.2h0M437.4 93.7h0M454.0 82.2h0M461.7 75.7h0M467.0 81.7h0M440.8 87.6h0M460.0 91.1h0M442.0 95.6h0M416.5 117.6h0M460.7 81.5h0M503.4 56.1h0M501.1 64.1h0M436.4 101.4h0M462.3 79.6h0M499.9 66.3h0M482.4 76.6h0M431.4 95.4h0M430.7 101.6h0M453.3 85.3h0M463.0 91.4h0M456.0 94.1h0M449.8 73.4h0M452.8 81.0h0M478.9 78.9h0M442.1 102.4h0M435.2 86.3h0M435.3 101.0h0M464.2 68.1h0M473.2 64.5h0M511.4 60.4h0M475.7 63.1h0M448.9 93.5h0M440.6 99.5h0M455.0 99.4h0M445.5 80.0h0M462.5 82.9h0M422.7 107.9h0M492.0 61.4h0M426.9 107.4h0M419.2 103.1h0M523.5 42.2h0M519.4 51.3h0M436.7 88.1h0M483.6 58.5h0M502.2 60.3h0M507.6 60.6h0M424.5 121.0h0M458.0 81.7h0M431.5 93.8h0M450.3 76.7h0M493.0 52.4h0M497.1 56.7h0M447.4 72.2h0M445.1 83.2h0M497.0 66.5h0M465.0 86.2h0M437.0 89.4h0M427.0 95.4h0M525.5 56.6h0M493.6 82.9h0M451.5 94.4h0M494.4 47.8h0M505.1 46.2h0M501.8 58.1h0M487.1 82.8h0M461.1 79.1h0M462.3 91.7h0M449.1 87.4h0M452.1 89.8h0M494.8 68.6h0M457.5 87.5h0M467.3 72.3h0M467.7 71.4h0M496.3 67.2h0M447.4 99.2h0M476.3 85.7h0M447.8 85.2h0M459.1 74.4h0M459.4 88.5h0M433.4 87.5h0M445.5 79.7h0M444.3 92.3h0M452.5 96.8h0M452.2 85.4h0M514.1 58.6h0M440.1 107.9h0M449.5 76.4h0M435.5 101.6h0M483.4 69.3h0M472.7 61.7h0M451.0 82.8h0M468.6 75.7h0M451.7 83.2h0M430.5 88.3h0M471.5 88.3h0M422.0 107.0h0M486.3 76.6h0M469.1 92.2h0M452.1 86.1h0M489.7 61.2h0M456.0 78.1h0M446.3 77.4h0M499.6 77.0h0M488.1 53.3h0M440.4 93.7h0M449.2 96.0h0M448.3 105.7h0M448.8 82.9h0M466.2 68.8h0M534.0 35.3h0M434.9 95.1h0M461.7 86.9h0M443.6 88.1h0M426.0 113.9h0M503.9 67.9h0M425.4 96.6h0M478.0 81.6h0M472.5 68.7h0M458.0 81.9h0M413.7 109.0h0M433.3 89.0h0M517.7 47.0h0M494.4 60.5h0M438.4 110.9h0M429.3 107.4h0M445.2 93.1h0M528.5 37.9h0M524.9 44.7h0M462.2 81.7h0M475.5 77.6h0M476.3 90.3h0M483.4 87.9h0M492.7 85.6h0M499.8 81.8h0M506.3 80.9h0M509.0 83.2h0M518.3 67.2h0M527.5 61.5h0M415.4 121.9h0M420.8 122.8h0M424.6 120.5h0M430.1 117.2h0M418.1 122.3h0M422.5 121.9h0M520.4 30.0h0M524.8 29.0h0M530.8 30.0h0M511.2 37.0h0M504.1 42.7h0" stroke="#109dba" stroke-width="2.0" stroke-linecap="round" fill="none"/><rect x="403.4" y="21.0" width="131.2" height="113.6" fill="none" stroke="#2e6ca8" stroke-width="1.5"/><text x="394.8" y="137.8" font-size="9.5" fill="#606060" text-anchor="end">1.3</text><text x="403.4" y="149.8" font-size="9.5" fill="#606060" text-anchor="middle">1.3</text><text x="394.8" y="114.2" font-size="9.5" fill="#606060" text-anchor="end">1.8</text><text x="430.6" y="149.8" font-size="9.5" fill="#606060" text-anchor="middle">1.8</text><text x="394.8" y="90.7" font-size="9.5" fill="#606060" text-anchor="end">2.3</text><text x="457.8" y="149.8" font-size="9.5" fill="#606060" text-anchor="middle">2.3</text><text x="394.8" y="67.1" font-size="9.5" fill="#606060" text-anchor="end">2.8</text><text x="485.1" y="149.8" font-size="9.5" fill="#606060" text-anchor="middle">2.8</text><text x="394.8" y="43.5" font-size="9.5" fill="#606060" text-anchor="end">3.3</text><text x="512.3" y="149.8" font-size="9.5" fill="#606060" text-anchor="middle">3.3</text><text x="469.0" y="164.5" font-size="10.8" font-weight="bold" fill="#595959" text-anchor="middle" xml:space="preserve">Groundtruth  (kW)</text><text transform="translate(378.2 77.8) rotate(-90)" font-size="10.8" font-weight="bold" fill="#595959" text-anchor="middle" xml:space="preserve" x="0" y="0">Prediction  (kW)</text><text x="467.1" y="16.7" font-size="19.5" font-weight="bold" fill="#505050" text-anchor="middle">EMD</text><text x="392.1" y="17.1" font-size="8.5" fill="#2a2a2a">1×10<tspan font-size="5.5" dy="-3.2">3</tspan></text><text x="529.6" y="143.8" font-size="8.5" fill="#2a2a2a">1×10<tspan font-size="5.5" dy="-3.2">3</tspan></text></g>
<g><path d="M154.7 198.2V310.7M127.6 287.4H258.4M181.9 198.2V310.7M127.6 264.0H258.4M209.0 198.2V310.7M127.6 240.7H258.4M236.1 198.2V310.7M127.6 217.3H258.4" stroke="#d9d9d9" stroke-width="1" fill="none"/><path d="M161.9 283.2h0M241.8 214.2h0M138.7 298.8h0M166.3 269.9h0M221.9 232.8h0M166.5 280.8h0M221.9 228.2h0M217.9 227.3h0M235.0 215.1h0M177.8 274.5h0M212.0 235.7h0M226.2 227.0h0M208.0 241.6h0M249.3 212.1h0M167.5 271.3h0M202.6 241.5h0M166.5 271.8h0M193.7 251.2h0M148.8 285.9h0M209.5 242.4h0M222.0 232.1h0M216.7 235.2h0M139.6 296.5h0M168.3 270.9h0M141.0 295.0h0M235.2 223.3h0M161.7 274.7h0M230.2 223.5h0M222.2 229.1h0M201.8 250.6h0M165.3 275.1h0M225.4 222.2h0M240.0 218.1h0M152.6 281.4h0M205.2 242.9h0M136.3 299.9h0M172.6 270.7h0M204.6 245.7h0M206.0 241.9h0M250.4 205.7h0M196.8 244.3h0M223.1 229.0h0M208.2 241.8h0M225.4 226.3h0M242.8 213.4h0M228.8 226.5h0M200.0 248.0h0M178.2 268.4h0M208.4 247.3h0M187.1 257.8h0M202.0 243.0h0M197.1 254.8h0M223.7 221.7h0M192.2 258.4h0M185.5 261.0h0M245.3 207.6h0M203.6 252.5h0M201.3 246.2h0M158.4 285.8h0M157.5 282.7h0M233.1 218.8h0M211.6 242.9h0M198.4 244.4h0M141.1 294.7h0M236.2 212.8h0M186.7 263.9h0M217.4 235.4h0M140.2 292.0h0M190.4 255.6h0M193.2 252.0h0M168.4 277.5h0M255.3 204.6h0M152.2 290.3h0M203.5 252.7h0M162.4 281.1h0M144.1 292.0h0M168.9 275.5h0M159.6 274.9h0M178.4 270.2h0M201.3 245.8h0M194.4 253.3h0M183.8 258.7h0M232.2 216.4h0M238.2 216.3h0M167.2 276.7h0M202.5 241.7h0M191.3 258.6h0M212.4 237.3h0M218.5 230.1h0M151.1 290.9h0M216.9 240.3h0M172.5 274.2h0M221.2 226.0h0M153.3 282.6h0M172.4 272.6h0M226.5 227.0h0M215.1 238.2h0M212.9 240.2h0M229.3 225.9h0M218.7 229.8h0M195.6 253.9h0M198.5 256.0h0M163.7 270.8h0M181.3 259.7h0M229.5 220.9h0M182.4 269.3h0M194.3 250.6h0M227.5 228.1h0M195.1 250.1h0M236.3 221.1h0M164.7 277.0h0M168.8 270.8h0M175.7 273.4h0M255.9 202.4h0M171.7 276.6h0M197.4 247.2h0M213.0 233.7h0M184.7 258.7h0M202.3 240.4h0M177.7 272.6h0M187.3 259.1h0M226.2 227.9h0M210.9 237.0h0M177.9 265.3h0M194.8 255.4h0M200.8 243.6h0M220.5 230.8h0M142.8 294.9h0M218.5 237.6h0M169.8 275.9h0M196.2 255.8h0M241.1 212.8h0M245.6 211.2h0M198.2 247.0h0M247.5 210.2h0M203.0 251.3h0M215.3 229.1h0M177.1 272.5h0M204.9 242.0h0M187.0 255.4h0M221.6 229.7h0M188.8 259.1h0M211.9 237.4h0M161.0 276.6h0M208.2 233.0h0M191.7 253.0h0M163.5 277.9h0M191.8 257.3h0M144.3 293.8h0M153.3 284.0h0M173.2 275.0h0M136.9 299.6h0M236.0 218.8h0M234.0 221.1h0M211.4 244.1h0M151.2 285.2h0M162.3 276.3h0M177.2 273.1h0M215.6 229.1h0M201.4 246.9h0M249.5 209.0h0M146.0 293.5h0M193.5 252.4h0M255.2 202.9h0M245.1 213.8h0M211.2 233.4h0M242.8 215.6h0M235.1 221.3h0M165.9 275.6h0M256.3 200.5h0M145.8 294.6h0M158.1 280.5h0M223.8 224.2h0M218.1 227.8h0M160.0 280.3h0M239.2 218.0h0M178.4 268.5h0M181.2 259.6h0M195.5 247.8h0M204.5 248.4h0M171.8 271.7h0M178.7 267.3h0M184.7 263.7h0M224.7 221.9h0M257.2 202.1h0M176.8 271.9h0M197.6 257.8h0M241.9 210.1h0M185.1 257.9h0M204.6 239.8h0M224.8 228.8h0M146.7 289.3h0M242.4 214.1h0M152.9 282.5h0M155.8 286.1h0M220.6 231.4h0M201.0 253.7h0M235.6 218.4h0M236.2 217.4h0M223.1 222.0h0M202.9 248.1h0M166.0 280.4h0M227.6 225.5h0M163.1 274.3h0M209.9 237.0h0M154.7 286.6h0M213.0 235.4h0M190.9 253.1h0M239.3 218.2h0M181.4 268.5h0M154.4 287.3h0M227.8 220.3h0M251.2 205.4h0M245.7 210.2h0M187.3 266.4h0M149.2 284.1h0M240.3 220.9h0M172.4 271.5h0M144.2 293.8h0M176.4 269.2h0M163.7 279.6h0M162.8 281.4h0M177.3 268.9h0M145.1 292.9h0M213.2 231.6h0M190.1 256.1h0M170.3 269.0h0M168.4 274.0h0M161.1 281.5h0M192.3 254.9h0M221.6 237.1h0M202.0 246.9h0M251.8 207.4h0M227.0 222.3h0M213.7 232.8h0M249.4 205.3h0M154.1 280.6h0M245.2 212.0h0M240.6 211.6h0M167.3 277.1h0M143.2 290.7h0M145.9 287.0h0M162.1 277.4h0M170.2 273.3h0M199.0 249.9h0M189.8 252.0h0M217.0 228.2h0M148.3 286.9h0M147.8 291.3h0M186.0 262.3h0M206.0 248.3h0M222.5 229.9h0M245.1 208.2h0M216.0 228.7h0M191.7 249.6h0M186.6 259.6h0M163.3 277.1h0M205.2 236.9h0M241.5 220.3h0M155.4 282.1h0M193.4 251.7h0M208.2 241.6h0M173.0 270.8h0M242.2 216.4h0M148.8 291.4h0M215.3 236.0h0M193.6 255.2h0M190.3 264.0h0M218.6 228.7h0M248.2 212.2h0M232.8 223.6h0M219.9 229.8h0M233.3 227.2h0M146.3 290.2h0M136.0 304.5h0M194.9 246.9h0M213.0 237.8h0M248.9 212.0h0M194.2 248.2h0M155.5 286.4h0M172.0 270.4h0M252.3 202.4h0M229.5 218.6h0M235.4 221.2h0M233.5 224.5h0M171.4 273.1h0M242.3 217.0h0M246.6 210.7h0M160.8 281.9h0M187.0 259.1h0M172.5 267.9h0M190.6 251.4h0M234.9 224.6h0M224.5 230.0h0M217.2 235.5h0M144.4 289.7h0M209.5 243.4h0M228.5 219.6h0M216.0 235.0h0M229.7 220.9h0M190.6 250.9h0M250.6 210.0h0M202.3 250.3h0M142.0 294.9h0M173.5 275.7h0M249.6 211.8h0M252.9 207.2h0M144.8 294.1h0M172.2 270.4h0M167.1 277.8h0M233.5 220.9h0M174.6 269.7h0M252.7 205.1h0M156.9 283.8h0M157.1 283.0h0M200.0 247.4h0M255.6 199.5h0M205.4 242.6h0M191.5 258.6h0M145.4 292.2h0M224.0 227.2h0M184.0 258.5h0M168.7 273.4h0M203.3 251.9h0M249.4 206.6h0M212.5 229.2h0M172.1 273.1h0M144.3 289.3h0M201.2 254.0h0M167.3 278.7h0M150.4 289.9h0M256.2 202.6h0M171.8 271.1h0M221.6 228.0h0M160.5 281.9h0M205.8 241.0h0M200.3 251.2h0M176.6 267.9h0M207.6 241.4h0M233.7 226.7h0M160.1 283.3h0M243.3 216.5h0M212.3 236.3h0M139.6 296.8h0M220.3 225.0h0M187.1 256.7h0M163.0 274.1h0M240.3 215.8h0M227.8 218.8h0M192.9 250.6h0M176.7 265.2h0M195.6 253.0h0M220.3 226.2h0M194.8 249.9h0M219.3 232.3h0M216.1 238.8h0M206.6 238.1h0M211.4 240.8h0M238.4 217.0h0M191.9 255.2h0M145.9 286.7h0M145.9 291.0h0M246.4 211.4h0M218.1 230.5h0M174.7 272.0h0M250.2 205.4h0M174.2 271.4h0M243.2 212.4h0M231.7 222.5h0M141.2 295.2h0M210.1 237.6h0M209.4 242.5h0M203.8 249.0h0M242.1 214.0h0M140.7 295.7h0M209.3 237.6h0M238.7 217.6h0M206.8 244.8h0M169.8 269.4h0M205.5 235.1h0M177.9 265.5h0M221.4 233.1h0M200.0 247.9h0M204.6 241.4h0M250.8 211.2h0M214.2 228.1h0M195.3 246.2h0M152.6 284.9h0M212.4 229.1h0M174.9 272.9h0M164.9 277.4h0M180.0 268.6h0M208.8 237.4h0M233.9 218.5h0M220.1 227.5h0M200.9 241.5h0M224.2 227.6h0M234.1 222.9h0M235.2 217.8h0M233.1 217.6h0M211.0 236.3h0M166.5 270.6h0M190.4 255.8h0M222.5 223.5h0M198.4 255.1h0M159.3 278.2h0M157.3 281.7h0M191.1 263.0h0M213.2 237.9h0M176.0 270.8h0M183.2 266.7h0M232.3 216.9h0M238.5 212.1h0M224.7 225.6h0M238.2 218.0h0M148.0 293.3h0M169.5 273.6h0M227.0 224.1h0M227.7 224.8h0M182.5 263.5h0M169.4 276.7h0M201.8 247.4h0M193.1 255.0h0M250.2 205.9h0M214.9 231.9h0M175.7 269.0h0M146.8 293.7h0M147.4 284.5h0M247.6 210.1h0M190.7 264.1h0M225.7 221.5h0M217.4 231.2h0M156.3 280.1h0M241.6 210.4h0M163.9 279.5h0M192.0 250.6h0M203.9 240.4h0M216.0 232.0h0M173.1 274.8h0M187.2 256.4h0M211.4 244.0h0M141.7 293.6h0M152.6 284.7h0M212.7 242.5h0M182.4 266.6h0M189.8 252.2h0M154.5 279.8h0M237.9 219.9h0M175.5 272.9h0M221.3 227.9h0M144.7 293.7h0M188.7 259.4h0M175.4 265.4h0M210.8 235.3h0M157.5 280.7h0M221.8 232.0h0M196.2 250.5h0M210.3 234.3h0M163.6 275.8h0M220.5 230.6h0M200.3 242.7h0M209.3 241.6h0M234.1 226.4h0M187.8 261.0h0M140.9 297.0h0M214.0 229.5h0M146.7 288.5h0M165.5 272.1h0M232.8 219.9h0M188.1 263.0h0M201.7 250.5h0M194.7 250.0h0M163.5 276.3h0M148.9 282.4h0M177.3 270.9h0M228.9 218.8h0M146.9 286.6h0M249.9 207.8h0M144.5 290.5h0M241.9 216.2h0M140.4 293.1h0M230.6 217.2h0M204.4 245.0h0M227.7 225.2h0M163.9 283.3h0M137.8 296.2h0M199.0 254.5h0M232.4 222.1h0M229.8 222.9h0M217.1 237.3h0M176.1 263.6h0M174.8 266.9h0M255.4 206.2h0M255.5 200.6h0M201.2 246.9h0M211.6 234.5h0M203.4 239.3h0M178.1 268.8h0M210.9 236.2h0M183.0 261.9h0M162.1 273.6h0M189.1 256.8h0M137.1 301.3h0M180.2 266.6h0M239.7 213.0h0M234.1 218.7h0M197.6 251.8h0M239.3 211.2h0M218.5 234.5h0M227.2 226.4h0M227.6 224.1h0M218.5 224.9h0M160.5 276.2h0M250.3 208.7h0M232.9 224.2h0M248.0 210.8h0M220.2 228.0h0M210.9 237.8h0M176.6 268.7h0M239.6 213.1h0M243.2 209.1h0M184.3 264.3h0M161.2 276.7h0M222.8 225.1h0M163.5 280.4h0M212.3 240.1h0M155.9 281.1h0M233.2 226.3h0M232.0 221.0h0M225.5 231.7h0M243.9 212.7h0M157.5 286.0h0M228.4 226.6h0M154.9 285.1h0M216.4 227.6h0M159.9 278.0h0M238.2 216.7h0M246.4 207.3h0M255.7 204.4h0M253.8 205.6h0M203.8 243.4h0M166.6 275.3h0M208.0 234.2h0M226.2 226.6h0M204.8 242.2h0M202.4 247.8h0M229.6 227.3h0M243.3 213.8h0M173.0 271.3h0M143.0 297.8h0M228.0 225.0h0M158.5 280.0h0M243.7 213.6h0M216.2 235.2h0M146.1 290.0h0M233.3 215.6h0M196.5 252.5h0M201.0 247.9h0M223.7 225.6h0M195.0 250.2h0M238.0 215.3h0M169.2 270.6h0M184.7 256.5h0M159.3 282.7h0M163.7 276.7h0M200.1 248.9h0M161.2 279.4h0M230.1 226.1h0M170.1 273.4h0M223.0 230.3h0M176.7 269.0h0M204.2 244.4h0M195.4 245.8h0M228.6 223.1h0M206.6 240.9h0M185.8 265.8h0M174.6 272.1h0M159.3 274.0h0M243.1 212.3h0M150.3 287.8h0M179.8 272.2h0M148.3 288.1h0M137.2 300.9h0M202.4 243.5h0M164.4 274.4h0M145.9 290.1h0M169.0 270.0h0M216.3 235.0h0M155.2 283.3h0M148.4 288.5h0M211.2 238.8h0M184.0 268.2h0M192.1 255.2h0M185.0 262.4h0M233.2 217.7h0M249.1 203.7h0M173.8 272.4h0M199.8 246.1h0M200.4 245.0h0M213.8 228.1h0M150.8 288.6h0M252.8 204.5h0M241.9 208.7h0M247.3 206.8h0M167.2 277.5h0M194.9 247.6h0M228.0 223.3h0M182.3 266.2h0M186.4 256.6h0M191.7 257.0h0M256.5 203.6h0M244.4 214.4h0M207.6 233.3h0M171.2 270.4h0M143.2 289.0h0M187.8 261.0h0M193.3 256.1h0M210.8 236.6h0M224.4 234.2h0M253.2 204.4h0M217.8 233.9h0M230.7 219.0h0M216.4 232.7h0M207.0 243.6h0M149.6 290.4h0M169.6 271.7h0M218.2 236.5h0M203.8 239.0h0M164.9 279.0h0M146.1 291.8h0M251.8 210.3h0M220.8 230.2h0M168.2 272.2h0M163.7 274.8h0M195.9 247.5h0M156.8 287.6h0M189.4 260.6h0M243.5 213.8h0M221.4 230.7h0M231.2 224.7h0M182.4 266.9h0M229.4 225.5h0M221.7 228.2h0M137.9 298.2h0M214.1 240.1h0M184.8 268.7h0M178.8 273.8h0M256.8 202.9h0M225.8 226.6h0M161.8 281.9h0M197.7 248.1h0M144.1 292.0h0M161.9 274.8h0M207.5 246.4h0M192.9 254.3h0M227.3 227.0h0M161.9 279.0h0M204.7 242.0h0M241.8 211.4h0M244.4 210.2h0M254.8 204.8h0M224.2 223.5h0M145.7 286.7h0M209.0 237.1h0M254.8 201.7h0M214.6 241.8h0M207.3 234.1h0M157.1 286.5h0M201.3 243.0h0M246.2 211.6h0M165.6 279.6h0M193.3 247.8h0M218.4 239.4h0M235.0 216.5h0M249.6 208.3h0M196.8 253.3h0M188.1 263.1h0M200.9 245.2h0M147.4 291.5h0M158.3 285.1h0M167.9 277.2h0M203.0 250.2h0M139.0 294.4h0M222.7 234.0h0M220.0 229.7h0M180.9 268.2h0M196.2 252.5h0M160.1 278.5h0M197.9 251.4h0M153.1 284.3h0M212.3 242.3h0M181.0 268.4h0M179.9 267.5h0M170.8 277.4h0M197.0 250.5h0M214.3 230.6h0M224.5 222.4h0M194.4 255.7h0M239.3 215.7h0M231.8 225.5h0M186.2 264.9h0M192.9 258.6h0M192.8 252.8h0M194.5 246.8h0M196.5 249.0h0M190.2 256.1h0M253.0 207.1h0M187.9 260.3h0M219.9 232.5h0M236.9 213.7h0M257.2 201.3h0M235.0 217.4h0M143.8 296.5h0M229.4 224.6h0M156.3 281.7h0M202.9 243.3h0M237.9 221.4h0M245.1 208.6h0M213.4 236.0h0M191.0 261.7h0M220.1 236.9h0M253.0 209.1h0M211.1 245.9h0M186.7 258.5h0M189.6 260.5h0M149.8 287.7h0M141.1 297.8h0M176.3 270.1h0M156.6 279.3h0M224.0 229.4h0M199.9 247.0h0M146.5 289.7h0M159.9 282.6h0M197.7 247.4h0M214.1 235.3h0M220.8 231.1h0M253.6 206.6h0M206.2 236.4h0M185.8 255.7h0M172.3 278.5h0M231.5 219.9h0M199.9 243.3h0M254.0 207.4h0M188.5 258.8h0M150.1 286.0h0M136.8 299.8h0M162.0 278.7h0M255.5 202.7h0M211.8 231.9h0M218.3 225.7h0M208.3 240.8h0M224.8 228.9h0M245.6 212.3h0M180.2 262.8h0M186.8 255.3h0M155.0 281.9h0M179.9 264.5h0M242.2 218.1h0M162.5 273.7h0M245.6 213.8h0M159.2 275.7h0M148.1 286.3h0M233.4 221.9h0M204.3 242.8h0M216.6 232.9h0M202.1 248.8h0M190.8 258.4h0M196.7 251.1h0M185.7 256.4h0M199.1 246.6h0M172.3 272.3h0M171.1 266.9h0M224.2 227.3h0M177.8 269.2h0M213.8 234.8h0M161.8 279.4h0M203.4 248.9h0M165.5 281.9h0M213.8 236.7h0M161.8 276.5h0M239.5 217.2h0M189.9 262.3h0M249.5 208.2h0M213.5 231.6h0M189.6 251.9h0M192.8 249.0h0M193.4 258.4h0M225.9 222.7h0M236.8 219.5h0M224.1 230.9h0M240.3 213.6h0M153.6 289.9h0M205.6 240.3h0M228.3 226.6h0M156.6 280.0h0M141.2 294.2h0M158.7 275.4h0M144.6 291.9h0M199.1 245.6h0M154.2 288.0h0M185.9 255.0h0M193.4 250.8h0M209.1 237.0h0M141.3 290.1h0M201.4 254.4h0M199.3 247.3h0M156.7 283.7h0M153.3 283.2h0M198.1 249.6h0M208.0 241.1h0M167.3 276.7h0M191.1 249.9h0M170.2 271.1h0M142.8 294.5h0M169.5 275.8h0M168.4 274.2h0M156.2 279.7h0M252.6 204.1h0M192.5 256.9h0M246.3 208.7h0M160.2 283.3h0M174.9 272.7h0M182.0 264.1h0M183.0 262.3h0M173.7 266.3h0M219.4 231.9h0M208.5 241.1h0M244.6 210.3h0M145.3 290.3h0M197.6 252.7h0M195.3 247.0h0M193.8 252.7h0M237.8 221.3h0M211.2 236.9h0M217.8 237.6h0M189.5 253.4h0M208.1 235.0h0M205.9 238.1h0M163.9 275.2h0M187.7 266.5h0M135.9 304.5h0M198.8 253.0h0M151.6 286.8h0M184.7 260.7h0M234.5 224.3h0M188.4 265.6h0M185.8 261.6h0M176.9 266.2h0M144.8 292.5h0M173.6 273.2h0M224.4 226.5h0M197.1 245.6h0M166.2 281.8h0M245.6 210.9h0M157.4 280.3h0M213.5 236.9h0M172.1 272.9h0M226.7 225.6h0M180.1 264.7h0M176.2 272.6h0M191.9 251.3h0M251.6 209.8h0M216.2 232.4h0M221.2 228.6h0M180.8 265.4h0M202.2 244.3h0M246.5 213.9h0M205.5 241.7h0M237.9 216.9h0M231.7 223.2h0M140.0 292.9h0M216.8 231.5h0M202.3 243.2h0M225.7 230.2h0M168.3 273.2h0M149.5 289.3h0M225.3 223.4h0M253.1 201.7h0M214.9 241.3h0M181.3 263.8h0M209.6 235.4h0M163.1 280.1h0M241.5 215.5h0M249.1 212.5h0M248.3 210.3h0M189.9 257.1h0M226.5 219.9h0M208.9 243.8h0M219.0 228.3h0M168.1 271.1h0M143.4 290.1h0M159.3 281.1h0M250.0 207.8h0M144.8 289.9h0M185.9 256.9h0M215.2 230.4h0M151.2 282.9h0M154.0 286.7h0M254.5 206.6h0M233.6 221.7h0M210.7 226.8h0M229.6 215.6h0M232.8 213.8h0M219.8 240.5h0M162.6 285.3h0M136.4 305.1h0M179.8 258.7h0M230.0 216.3h0M241.5 207.5h0M205.0 234.8h0M254.1 199.4h0M254.5 198.6h0M146.8 281.0h0M136.4 306.3h0M244.1 221.1h0M194.3 261.9h0M166.2 266.7h0M184.0 270.9h0M161.6 269.4h0M232.6 211.0h0M148.6 281.4h0M175.5 261.3h0M234.8 212.2h0M183.5 275.7h0M178.2 260.1h0M191.2 245.4h0M209.8 248.2h0M254.1 199.7h0M217.9 244.6h0M150.9 280.3h0M197.7 259.2h0M195.0 238.9h0M167.4 281.6h0M145.6 284.8h0M189.2 269.9h0M170.4 283.1h0M233.6 230.3h0M188.2 250.7h0M171.4 264.4h0M205.6 232.8h0M197.0 263.5h0M138.8 303.8h0M236.8 228.3h0M188.0 250.5h0M182.6 271.7h0M164.5 267.7h0M138.2 304.0h0M194.3 265.7h0M193.3 242.1h0M213.1 221.9h0M151.6 294.3h0M236.0 225.3h0M183.4 270.8h0M199.3 256.9h0M180.5 257.8h0M143.5 299.2h0M212.3 248.7h0M140.9 303.3h0M203.8 253.5h0M151.1 292.6h0M164.7 285.1h0M217.9 241.5h0M194.9 241.5h0M249.5 203.0h0M242.4 207.4h0M187.1 251.0h0M197.0 260.7h0M243.9 219.9h0M152.4 293.8h0M166.8 286.1h0M197.7 240.7h0M169.7 280.6h0M195.8 239.3h0M250.5 215.4h0M251.4 213.8h0M152.9 292.4h0M220.7 220.3h0M138.3 303.3h0M225.0 215.8h0M139.8 288.0h0M160.7 258.4h0M153.1 267.8h0M147.1 278.0h0M141.2 286.0h0M136.3 295.3h0M177.5 253.7h0M174.3 283.2h0M181.3 274.8h0M193.3 265.4h0M229.6 211.3h0M236.1 207.1h0M165.6 264.0h0M145.0 282.7h0" stroke="#c04806" stroke-width="2.7" stroke-linecap="round" fill="none"/><path d="M161.9 283.2h0M241.8 214.2h0M138.7 298.8h0M166.3 269.9h0M221.9 232.8h0M166.5 280.8h0M221.9 228.2h0M217.9 227.3h0M235.0 215.1h0M177.8 274.5h0M212.0 235.7h0M226.2 227.0h0M208.0 241.6h0M249.3 212.1h0M167.5 271.3h0M202.6 241.5h0M166.5 271.8h0M193.7 251.2h0M148.8 285.9h0M209.5 242.4h0M222.0 232.1h0M216.7 235.2h0M139.6 296.5h0M168.3 270.9h0M141.0 295.0h0M235.2 223.3h0M161.7 274.7h0M230.2 223.5h0M222.2 229.1h0M201.8 250.6h0M165.3 275.1h0M225.4 222.2h0M240.0 218.1h0M152.6 281.4h0M205.2 242.9h0M136.3 299.9h0M172.6 270.7h0M204.6 245.7h0M206.0 241.9h0M250.4 205.7h0M196.8 244.3h0M223.1 229.0h0M208.2 241.8h0M225.4 226.3h0M242.8 213.4h0M228.8 226.5h0M200.0 248.0h0M178.2 268.4h0M208.4 247.3h0M187.1 257.8h0M202.0 243.0h0M197.1 254.8h0M223.7 221.7h0M192.2 258.4h0M185.5 261.0h0M245.3 207.6h0M203.6 252.5h0M201.3 246.2h0M158.4 285.8h0M157.5 282.7h0M233.1 218.8h0M211.6 242.9h0M198.4 244.4h0M141.1 294.7h0M236.2 212.8h0M186.7 263.9h0M217.4 235.4h0M140.2 292.0h0M190.4 255.6h0M193.2 252.0h0M168.4 277.5h0M255.3 204.6h0M152.2 290.3h0M203.5 252.7h0M162.4 281.1h0M144.1 292.0h0M168.9 275.5h0M159.6 274.9h0M178.4 270.2h0M201.3 245.8h0M194.4 253.3h0M183.8 258.7h0M232.2 216.4h0M238.2 216.3h0M167.2 276.7h0M202.5 241.7h0M191.3 258.6h0M212.4 237.3h0M218.5 230.1h0M151.1 290.9h0M216.9 240.3h0M172.5 274.2h0M221.2 226.0h0M153.3 282.6h0M172.4 272.6h0M226.5 227.0h0M215.1 238.2h0M212.9 240.2h0M229.3 225.9h0M218.7 229.8h0M195.6 253.9h0M198.5 256.0h0M163.7 270.8h0M181.3 259.7h0M229.5 220.9h0M182.4 269.3h0M194.3 250.6h0M227.5 228.1h0M195.1 250.1h0M236.3 221.1h0M164.7 277.0h0M168.8 270.8h0M175.7 273.4h0M255.9 202.4h0M171.7 276.6h0M197.4 247.2h0M213.0 233.7h0M184.7 258.7h0M202.3 240.4h0M177.7 272.6h0M187.3 259.1h0M226.2 227.9h0M210.9 237.0h0M177.9 265.3h0M194.8 255.4h0M200.8 243.6h0M220.5 230.8h0M142.8 294.9h0M218.5 237.6h0M169.8 275.9h0M196.2 255.8h0M241.1 212.8h0M245.6 211.2h0M198.2 247.0h0M247.5 210.2h0M203.0 251.3h0M215.3 229.1h0M177.1 272.5h0M204.9 242.0h0M187.0 255.4h0M221.6 229.7h0M188.8 259.1h0M211.9 237.4h0M161.0 276.6h0M208.2 233.0h0M191.7 253.0h0M163.5 277.9h0M191.8 257.3h0M144.3 293.8h0M153.3 284.0h0M173.2 275.0h0M136.9 299.6h0M236.0 218.8h0M234.0 221.1h0M211.4 244.1h0M151.2 285.2h0M162.3 276.3h0M177.2 273.1h0M215.6 229.1h0M201.4 246.9h0M249.5 209.0h0M146.0 293.5h0M193.5 252.4h0M255.2 202.9h0M245.1 213.8h0M211.2 233.4h0M242.8 215.6h0M235.1 221.3h0M165.9 275.6h0M256.3 200.5h0M145.8 294.6h0M158.1 280.5h0M223.8 224.2h0M218.1 227.8h0M160.0 280.3h0M239.2 218.0h0M178.4 268.5h0M181.2 259.6h0M195.5 247.8h0M204.5 248.4h0M171.8 271.7h0M178.7 267.3h0M184.7 263.7h0M224.7 221.9h0M257.2 202.1h0M176.8 271.9h0M197.6 257.8h0M241.9 210.1h0M185.1 257.9h0M204.6 239.8h0M224.8 228.8h0M146.7 289.3h0M242.4 214.1h0M152.9 282.5h0M155.8 286.1h0M220.6 231.4h0M201.0 253.7h0M235.6 218.4h0M236.2 217.4h0M223.1 222.0h0M202.9 248.1h0M166.0 280.4h0M227.6 225.5h0M163.1 274.3h0M209.9 237.0h0M154.7 286.6h0M213.0 235.4h0M190.9 253.1h0M239.3 218.2h0M181.4 268.5h0M154.4 287.3h0M227.8 220.3h0M251.2 205.4h0M245.7 210.2h0M187.3 266.4h0M149.2 284.1h0M240.3 220.9h0M172.4 271.5h0M144.2 293.8h0M176.4 269.2h0M163.7 279.6h0M162.8 281.4h0M177.3 268.9h0M145.1 292.9h0M213.2 231.6h0M190.1 256.1h0M170.3 269.0h0M168.4 274.0h0M161.1 281.5h0M192.3 254.9h0M221.6 237.1h0M202.0 246.9h0M251.8 207.4h0M227.0 222.3h0M213.7 232.8h0M249.4 205.3h0M154.1 280.6h0M245.2 212.0h0M240.6 211.6h0M167.3 277.1h0M143.2 290.7h0M145.9 287.0h0M162.1 277.4h0M170.2 273.3h0M199.0 249.9h0M189.8 252.0h0M217.0 228.2h0M148.3 286.9h0M147.8 291.3h0M186.0 262.3h0M206.0 248.3h0M222.5 229.9h0M245.1 208.2h0M216.0 228.7h0M191.7 249.6h0M186.6 259.6h0M163.3 277.1h0M205.2 236.9h0M241.5 220.3h0M155.4 282.1h0M193.4 251.7h0M208.2 241.6h0M173.0 270.8h0M242.2 216.4h0M148.8 291.4h0M215.3 236.0h0M193.6 255.2h0M190.3 264.0h0M218.6 228.7h0M248.2 212.2h0M232.8 223.6h0M219.9 229.8h0M233.3 227.2h0M146.3 290.2h0M136.0 304.5h0M194.9 246.9h0M213.0 237.8h0M248.9 212.0h0M194.2 248.2h0M155.5 286.4h0M172.0 270.4h0M252.3 202.4h0M229.5 218.6h0M235.4 221.2h0M233.5 224.5h0M171.4 273.1h0M242.3 217.0h0M246.6 210.7h0M160.8 281.9h0M187.0 259.1h0M172.5 267.9h0M190.6 251.4h0M234.9 224.6h0M224.5 230.0h0M217.2 235.5h0M144.4 289.7h0M209.5 243.4h0M228.5 219.6h0M216.0 235.0h0M229.7 220.9h0M190.6 250.9h0M250.6 210.0h0M202.3 250.3h0M142.0 294.9h0M173.5 275.7h0M249.6 211.8h0M252.9 207.2h0M144.8 294.1h0M172.2 270.4h0M167.1 277.8h0M233.5 220.9h0M174.6 269.7h0M252.7 205.1h0M156.9 283.8h0M157.1 283.0h0M200.0 247.4h0M255.6 199.5h0M205.4 242.6h0M191.5 258.6h0M145.4 292.2h0M224.0 227.2h0M184.0 258.5h0M168.7 273.4h0M203.3 251.9h0M249.4 206.6h0M212.5 229.2h0M172.1 273.1h0M144.3 289.3h0M201.2 254.0h0M167.3 278.7h0M150.4 289.9h0M256.2 202.6h0M171.8 271.1h0M221.6 228.0h0M160.5 281.9h0M205.8 241.0h0M200.3 251.2h0M176.6 267.9h0M207.6 241.4h0M233.7 226.7h0M160.1 283.3h0M243.3 216.5h0M212.3 236.3h0M139.6 296.8h0M220.3 225.0h0M187.1 256.7h0M163.0 274.1h0M240.3 215.8h0M227.8 218.8h0M192.9 250.6h0M176.7 265.2h0M195.6 253.0h0M220.3 226.2h0M194.8 249.9h0M219.3 232.3h0M216.1 238.8h0M206.6 238.1h0M211.4 240.8h0M238.4 217.0h0M191.9 255.2h0M145.9 286.7h0M145.9 291.0h0M246.4 211.4h0M218.1 230.5h0M174.7 272.0h0M250.2 205.4h0M174.2 271.4h0M243.2 212.4h0M231.7 222.5h0M141.2 295.2h0M210.1 237.6h0M209.4 242.5h0M203.8 249.0h0M242.1 214.0h0M140.7 295.7h0M209.3 237.6h0M238.7 217.6h0M206.8 244.8h0M169.8 269.4h0M205.5 235.1h0M177.9 265.5h0M221.4 233.1h0M200.0 247.9h0M204.6 241.4h0M250.8 211.2h0M214.2 228.1h0M195.3 246.2h0M152.6 284.9h0M212.4 229.1h0M174.9 272.9h0M164.9 277.4h0M180.0 268.6h0M208.8 237.4h0M233.9 218.5h0M220.1 227.5h0M200.9 241.5h0M224.2 227.6h0M234.1 222.9h0M235.2 217.8h0M233.1 217.6h0M211.0 236.3h0M166.5 270.6h0M190.4 255.8h0M222.5 223.5h0M198.4 255.1h0M159.3 278.2h0M157.3 281.7h0M191.1 263.0h0M213.2 237.9h0M176.0 270.8h0M183.2 266.7h0M232.3 216.9h0M238.5 212.1h0M224.7 225.6h0M238.2 218.0h0M148.0 293.3h0M169.5 273.6h0M227.0 224.1h0M227.7 224.8h0M182.5 263.5h0M169.4 276.7h0M201.8 247.4h0M193.1 255.0h0M250.2 205.9h0M214.9 231.9h0M175.7 269.0h0M146.8 293.7h0M147.4 284.5h0M247.6 210.1h0M190.7 264.1h0M225.7 221.5h0M217.4 231.2h0M156.3 280.1h0M241.6 210.4h0M163.9 279.5h0M192.0 250.6h0M203.9 240.4h0M216.0 232.0h0M173.1 274.8h0M187.2 256.4h0M211.4 244.0h0M141.7 293.6h0M152.6 284.7h0M212.7 242.5h0M182.4 266.6h0M189.8 252.2h0M154.5 279.8h0M237.9 219.9h0M175.5 272.9h0M221.3 227.9h0M144.7 293.7h0M188.7 259.4h0M175.4 265.4h0M210.8 235.3h0M157.5 280.7h0M221.8 232.0h0M196.2 250.5h0M210.3 234.3h0M163.6 275.8h0M220.5 230.6h0M200.3 242.7h0M209.3 241.6h0M234.1 226.4h0M187.8 261.0h0M140.9 297.0h0M214.0 229.5h0M146.7 288.5h0M165.5 272.1h0M232.8 219.9h0M188.1 263.0h0M201.7 250.5h0M194.7 250.0h0M163.5 276.3h0M148.9 282.4h0M177.3 270.9h0M228.9 218.8h0M146.9 286.6h0M249.9 207.8h0M144.5 290.5h0M241.9 216.2h0M140.4 293.1h0M230.6 217.2h0M204.4 245.0h0M227.7 225.2h0M163.9 283.3h0M137.8 296.2h0M199.0 254.5h0M232.4 222.1h0M229.8 222.9h0M217.1 237.3h0M176.1 263.6h0M174.8 266.9h0M255.4 206.2h0M255.5 200.6h0M201.2 246.9h0M211.6 234.5h0M203.4 239.3h0M178.1 268.8h0M210.9 236.2h0M183.0 261.9h0M162.1 273.6h0M189.1 256.8h0M137.1 301.3h0M180.2 266.6h0M239.7 213.0h0M234.1 218.7h0M197.6 251.8h0M239.3 211.2h0M218.5 234.5h0M227.2 226.4h0M227.6 224.1h0M218.5 224.9h0M160.5 276.2h0M250.3 208.7h0M232.9 224.2h0M248.0 210.8h0M220.2 228.0h0M210.9 237.8h0M176.6 268.7h0M239.6 213.1h0M243.2 209.1h0M184.3 264.3h0M161.2 276.7h0M222.8 225.1h0M163.5 280.4h0M212.3 240.1h0M155.9 281.1h0M233.2 226.3h0M232.0 221.0h0M225.5 231.7h0M243.9 212.7h0M157.5 286.0h0M228.4 226.6h0M154.9 285.1h0M216.4 227.6h0M159.9 278.0h0M238.2 216.7h0M246.4 207.3h0M255.7 204.4h0M253.8 205.6h0M203.8 243.4h0M166.6 275.3h0M208.0 234.2h0M226.2 226.6h0M204.8 242.2h0M202.4 247.8h0M229.6 227.3h0M243.3 213.8h0M173.0 271.3h0M143.0 297.8h0M228.0 225.0h0M158.5 280.0h0M243.7 213.6h0M216.2 235.2h0M146.1 290.0h0M233.3 215.6h0M196.5 252.5h0M201.0 247.9h0M223.7 225.6h0M195.0 250.2h0M238.0 215.3h0M169.2 270.6h0M184.7 256.5h0M159.3 282.7h0M163.7 276.7h0M200.1 248.9h0M161.2 279.4h0M230.1 226.1h0M170.1 273.4h0M223.0 230.3h0M176.7 269.0h0M204.2 244.4h0M195.4 245.8h0M228.6 223.1h0M206.6 240.9h0M185.8 265.8h0M174.6 272.1h0M159.3 274.0h0M243.1 212.3h0M150.3 287.8h0M179.8 272.2h0M148.3 288.1h0M137.2 300.9h0M202.4 243.5h0M164.4 274.4h0M145.9 290.1h0M169.0 270.0h0M216.3 235.0h0M155.2 283.3h0M148.4 288.5h0M211.2 238.8h0M184.0 268.2h0M192.1 255.2h0M185.0 262.4h0M233.2 217.7h0M249.1 203.7h0M173.8 272.4h0M199.8 246.1h0M200.4 245.0h0M213.8 228.1h0M150.8 288.6h0M252.8 204.5h0M241.9 208.7h0M247.3 206.8h0M167.2 277.5h0M194.9 247.6h0M228.0 223.3h0M182.3 266.2h0M186.4 256.6h0M191.7 257.0h0M256.5 203.6h0M244.4 214.4h0M207.6 233.3h0M171.2 270.4h0M143.2 289.0h0M187.8 261.0h0M193.3 256.1h0M210.8 236.6h0M224.4 234.2h0M253.2 204.4h0M217.8 233.9h0M230.7 219.0h0M216.4 232.7h0M207.0 243.6h0M149.6 290.4h0M169.6 271.7h0M218.2 236.5h0M203.8 239.0h0M164.9 279.0h0M146.1 291.8h0M251.8 210.3h0M220.8 230.2h0M168.2 272.2h0M163.7 274.8h0M195.9 247.5h0M156.8 287.6h0M189.4 260.6h0M243.5 213.8h0M221.4 230.7h0M231.2 224.7h0M182.4 266.9h0M229.4 225.5h0M221.7 228.2h0M137.9 298.2h0M214.1 240.1h0M184.8 268.7h0M178.8 273.8h0M256.8 202.9h0M225.8 226.6h0M161.8 281.9h0M197.7 248.1h0M144.1 292.0h0M161.9 274.8h0M207.5 246.4h0M192.9 254.3h0M227.3 227.0h0M161.9 279.0h0M204.7 242.0h0M241.8 211.4h0M244.4 210.2h0M254.8 204.8h0M224.2 223.5h0M145.7 286.7h0M209.0 237.1h0M254.8 201.7h0M214.6 241.8h0M207.3 234.1h0M157.1 286.5h0M201.3 243.0h0M246.2 211.6h0M165.6 279.6h0M193.3 247.8h0M218.4 239.4h0M235.0 216.5h0M249.6 208.3h0M196.8 253.3h0M188.1 263.1h0M200.9 245.2h0M147.4 291.5h0M158.3 285.1h0M167.9 277.2h0M203.0 250.2h0M139.0 294.4h0M222.7 234.0h0M220.0 229.7h0M180.9 268.2h0M196.2 252.5h0M160.1 278.5h0M197.9 251.4h0M153.1 284.3h0M212.3 242.3h0M181.0 268.4h0M179.9 267.5h0M170.8 277.4h0M197.0 250.5h0M214.3 230.6h0M224.5 222.4h0M194.4 255.7h0M239.3 215.7h0M231.8 225.5h0M186.2 264.9h0M192.9 258.6h0M192.8 252.8h0M194.5 246.8h0M196.5 249.0h0M190.2 256.1h0M253.0 207.1h0M187.9 260.3h0M219.9 232.5h0M236.9 213.7h0M257.2 201.3h0M235.0 217.4h0M143.8 296.5h0M229.4 224.6h0M156.3 281.7h0M202.9 243.3h0M237.9 221.4h0M245.1 208.6h0M213.4 236.0h0M191.0 261.7h0M220.1 236.9h0M253.0 209.1h0M211.1 245.9h0M186.7 258.5h0M189.6 260.5h0M149.8 287.7h0M141.1 297.8h0M176.3 270.1h0M156.6 279.3h0M224.0 229.4h0M199.9 247.0h0M146.5 289.7h0M159.9 282.6h0M197.7 247.4h0M214.1 235.3h0M220.8 231.1h0M253.6 206.6h0M206.2 236.4h0M185.8 255.7h0M172.3 278.5h0M231.5 219.9h0M199.9 243.3h0M254.0 207.4h0M188.5 258.8h0M150.1 286.0h0M136.8 299.8h0M162.0 278.7h0M255.5 202.7h0M211.8 231.9h0M218.3 225.7h0M208.3 240.8h0M224.8 228.9h0M245.6 212.3h0M180.2 262.8h0M186.8 255.3h0M155.0 281.9h0M179.9 264.5h0M242.2 218.1h0M162.5 273.7h0M245.6 213.8h0M159.2 275.7h0M148.1 286.3h0M233.4 221.9h0M204.3 242.8h0M216.6 232.9h0M202.1 248.8h0M190.8 258.4h0M196.7 251.1h0M185.7 256.4h0M199.1 246.6h0M172.3 272.3h0M171.1 266.9h0M224.2 227.3h0M177.8 269.2h0M213.8 234.8h0M161.8 279.4h0M203.4 248.9h0M165.5 281.9h0M213.8 236.7h0M161.8 276.5h0M239.5 217.2h0M189.9 262.3h0M249.5 208.2h0M213.5 231.6h0M189.6 251.9h0M192.8 249.0h0M193.4 258.4h0M225.9 222.7h0M236.8 219.5h0M224.1 230.9h0M240.3 213.6h0M153.6 289.9h0M205.6 240.3h0M228.3 226.6h0M156.6 280.0h0M141.2 294.2h0M158.7 275.4h0M144.6 291.9h0M199.1 245.6h0M154.2 288.0h0M185.9 255.0h0M193.4 250.8h0M209.1 237.0h0M141.3 290.1h0M201.4 254.4h0M199.3 247.3h0M156.7 283.7h0M153.3 283.2h0M198.1 249.6h0M208.0 241.1h0M167.3 276.7h0M191.1 249.9h0M170.2 271.1h0M142.8 294.5h0M169.5 275.8h0M168.4 274.2h0M156.2 279.7h0M252.6 204.1h0M192.5 256.9h0M246.3 208.7h0M160.2 283.3h0M174.9 272.7h0M182.0 264.1h0M183.0 262.3h0M173.7 266.3h0M219.4 231.9h0M208.5 241.1h0M244.6 210.3h0M145.3 290.3h0M197.6 252.7h0M195.3 247.0h0M193.8 252.7h0M237.8 221.3h0M211.2 236.9h0M217.8 237.6h0M189.5 253.4h0M208.1 235.0h0M205.9 238.1h0M163.9 275.2h0M187.7 266.5h0M135.9 304.5h0M198.8 253.0h0M151.6 286.8h0M184.7 260.7h0M234.5 224.3h0M188.4 265.6h0M185.8 261.6h0M176.9 266.2h0M144.8 292.5h0M173.6 273.2h0M224.4 226.5h0M197.1 245.6h0M166.2 281.8h0M245.6 210.9h0M157.4 280.3h0M213.5 236.9h0M172.1 272.9h0M226.7 225.6h0M180.1 264.7h0M176.2 272.6h0M191.9 251.3h0M251.6 209.8h0M216.2 232.4h0M221.2 228.6h0M180.8 265.4h0M202.2 244.3h0M246.5 213.9h0M205.5 241.7h0M237.9 216.9h0M231.7 223.2h0M140.0 292.9h0M216.8 231.5h0M202.3 243.2h0M225.7 230.2h0M168.3 273.2h0M149.5 289.3h0M225.3 223.4h0M253.1 201.7h0M214.9 241.3h0M181.3 263.8h0M209.6 235.4h0M163.1 280.1h0M241.5 215.5h0M249.1 212.5h0M248.3 210.3h0M189.9 257.1h0M226.5 219.9h0M208.9 243.8h0M219.0 228.3h0M168.1 271.1h0M143.4 290.1h0M159.3 281.1h0M250.0 207.8h0M144.8 289.9h0M185.9 256.9h0M215.2 230.4h0M151.2 282.9h0M154.0 286.7h0M254.5 206.6h0M233.6 221.7h0M210.7 226.8h0M229.6 215.6h0M232.8 213.8h0M219.8 240.5h0M162.6 285.3h0M136.4 305.1h0M179.8 258.7h0M230.0 216.3h0M241.5 207.5h0M205.0 234.8h0M254.1 199.4h0M254.5 198.6h0M146.8 281.0h0M136.4 306.3h0M244.1 221.1h0M194.3 261.9h0M166.2 266.7h0M184.0 270.9h0M161.6 269.4h0M232.6 211.0h0M148.6 281.4h0M175.5 261.3h0M234.8 212.2h0M183.5 275.7h0M178.2 260.1h0M191.2 245.4h0M209.8 248.2h0M254.1 199.7h0M217.9 244.6h0M150.9 280.3h0M197.7 259.2h0M195.0 238.9h0M167.4 281.6h0M145.6 284.8h0M189.2 269.9h0M170.4 283.1h0M233.6 230.3h0M188.2 250.7h0M171.4 264.4h0M205.6 232.8h0M197.0 263.5h0M138.8 303.8h0M236.8 228.3h0M188.0 250.5h0M182.6 271.7h0M164.5 267.7h0M138.2 304.0h0M194.3 265.7h0M193.3 242.1h0M213.1 221.9h0M151.6 294.3h0M236.0 225.3h0M183.4 270.8h0M199.3 256.9h0M180.5 257.8h0M143.5 299.2h0M212.3 248.7h0M140.9 303.3h0M203.8 253.5h0M151.1 292.6h0M164.7 285.1h0M217.9 241.5h0M194.9 241.5h0M249.5 203.0h0M242.4 207.4h0M187.1 251.0h0M197.0 260.7h0M243.9 219.9h0M152.4 293.8h0M166.8 286.1h0M197.7 240.7h0M169.7 280.6h0M195.8 239.3h0M250.5 215.4h0M251.4 213.8h0M152.9 292.4h0M220.7 220.3h0M138.3 303.3h0M225.0 215.8h0M139.8 288.0h0M160.7 258.4h0M153.1 267.8h0M147.1 278.0h0M141.2 286.0h0M136.3 295.3h0M177.5 253.7h0M174.3 283.2h0M181.3 274.8h0M193.3 265.4h0M229.6 211.3h0M236.1 207.1h0M165.6 264.0h0M145.0 282.7h0" stroke="#e0580a" stroke-width="1.9" stroke-linecap="round" fill="none"/><rect x="127.6" y="198.2" width="130.8" height="112.5" fill="none" stroke="#2e6ca8" stroke-width="1.5"/><text x="119.0" y="313.9" font-size="9.5" fill="#606060" text-anchor="end">1.3</text><text x="127.6" y="325.9" font-size="9.5" fill="#606060" text-anchor="middle">1.3</text><text x="119.0" y="290.6" font-size="9.5" fill="#606060" text-anchor="end">1.8</text><text x="154.7" y="325.9" font-size="9.5" fill="#606060" text-anchor="middle">1.8</text><text x="119.0" y="267.2" font-size="9.5" fill="#606060" text-anchor="end">2.3</text><text x="181.9" y="325.9" font-size="9.5" fill="#606060" text-anchor="middle">2.3</text><text x="119.0" y="243.9" font-size="9.5" fill="#606060" text-anchor="end">2.8</text><text x="209.0" y="325.9" font-size="9.5" fill="#606060" text-anchor="middle">2.8</text><text x="119.0" y="220.5" font-size="9.5" fill="#606060" text-anchor="end">3.3</text><text x="236.1" y="325.9" font-size="9.5" fill="#606060" text-anchor="middle">3.3</text><text x="193.0" y="340.6" font-size="10.8" font-weight="bold" fill="#595959" text-anchor="middle" xml:space="preserve">Groundtruth  (kW)</text><text transform="translate(102.4 254.4) rotate(-90)" font-size="10.8" font-weight="bold" fill="#595959" text-anchor="middle" xml:space="preserve" x="0" y="0">Prediction  (kW)</text><text x="192.8" y="193.4" font-size="19.5" font-weight="bold" fill="#505050" text-anchor="middle">Propsoed Model</text><text x="99.6" y="197.7" font-size="8.5" fill="#2a2a2a">1×10<tspan font-size="5.5" dy="-3.2">3</tspan></text><text x="252.7" y="319.7" font-size="8.5" fill="#2a2a2a">1×10<tspan font-size="5.5" dy="-3.2">3</tspan></text></g>
<g><path d="M341.5 200.0V311.1M314.6 288.1H444.1M368.3 200.0V311.1M314.6 265.0H444.1M395.2 200.0V311.1M314.6 242.0H444.1M422.1 200.0V311.1M314.6 218.9H444.1" stroke="#d9d9d9" stroke-width="1" fill="none"/><path d="M343.7 252.8h0M332.1 287.6h0M331.8 288.8h0M345.8 256.7h0M326.2 291.2h0M405.8 235.8h0M421.6 219.4h0M333.3 275.1h0M423.5 228.0h0M339.5 284.5h0M373.0 243.1h0M402.3 220.0h0M421.2 223.7h0M388.5 239.6h0M346.6 271.0h0M326.5 279.4h0M389.3 230.1h0M346.0 278.3h0M402.0 219.1h0M332.0 276.9h0M367.2 272.7h0M442.5 216.5h0M388.4 224.7h0M422.2 228.2h0M365.5 271.9h0M363.6 259.0h0M403.7 251.7h0M339.5 266.7h0M376.1 244.4h0M363.3 244.7h0M426.3 225.7h0M360.9 247.7h0M401.3 228.7h0M358.2 261.6h0M329.3 282.8h0M366.1 260.6h0M337.0 268.1h0M363.8 266.8h0M357.2 264.8h0M359.9 271.5h0M420.5 232.1h0M363.5 248.2h0M381.1 228.7h0M370.6 259.5h0M385.0 246.0h0M365.4 245.1h0M333.8 285.3h0M393.9 226.8h0M366.6 265.2h0M332.3 270.7h0M418.1 228.5h0M405.1 243.0h0M433.4 227.6h0M337.0 283.2h0M386.0 237.8h0M339.8 282.7h0M331.2 292.2h0M396.8 254.0h0M391.6 255.4h0M398.7 230.8h0M398.6 246.1h0M352.5 259.2h0M376.6 246.2h0M370.3 249.3h0M388.3 232.3h0M397.3 234.6h0M350.1 285.1h0M388.0 242.0h0M379.6 255.3h0M389.6 239.2h0M392.9 243.7h0M421.9 249.2h0M410.4 233.2h0M410.3 236.6h0M390.5 261.2h0M377.0 260.7h0M377.0 243.7h0M361.1 274.5h0M387.2 247.8h0M412.0 230.3h0M370.5 252.1h0M376.3 241.8h0M359.3 268.4h0M364.1 243.1h0M338.8 261.1h0M392.2 243.6h0M343.5 272.5h0M381.7 249.2h0M357.2 273.9h0M378.8 249.1h0M434.9 221.6h0M402.6 250.1h0M329.3 282.5h0M404.8 247.1h0M386.5 242.9h0M348.5 266.9h0M416.0 234.4h0M328.7 283.9h0M392.6 225.6h0M417.2 225.1h0M434.5 219.6h0M384.3 240.5h0M392.9 237.8h0M395.2 241.5h0M404.2 253.1h0M346.4 267.1h0M441.7 219.2h0M374.8 260.8h0M382.8 246.0h0M362.0 282.8h0M388.5 240.9h0M380.7 271.5h0M429.9 224.9h0M427.3 225.3h0M326.3 286.8h0M404.8 226.9h0M361.8 258.5h0M424.4 221.0h0M398.2 236.9h0M359.7 280.7h0M364.2 264.6h0M360.7 272.5h0M380.5 245.5h0M378.6 251.0h0M417.9 227.7h0M322.2 289.8h0M344.9 277.7h0M396.7 248.0h0M365.2 259.5h0M431.5 228.7h0M376.2 264.9h0M350.9 265.4h0M417.1 227.0h0M388.3 246.8h0M422.6 230.0h0M381.5 243.5h0M321.8 286.0h0M372.0 260.9h0M372.0 255.1h0M363.8 273.6h0M402.3 236.9h0M376.4 261.2h0M336.8 274.9h0M364.0 269.8h0M342.3 281.8h0M374.5 246.1h0M396.1 232.9h0M394.1 240.4h0M382.4 259.2h0M362.4 268.3h0M383.1 244.7h0M372.4 247.2h0M391.9 265.6h0M390.0 247.5h0M356.5 267.4h0M429.3 247.1h0M337.0 274.4h0M387.2 228.6h0M386.4 235.4h0M386.8 235.7h0M344.5 278.6h0M375.8 259.0h0M396.1 247.2h0M376.5 246.6h0M403.5 246.4h0M341.7 281.4h0M427.1 229.4h0M367.7 252.3h0M418.1 239.9h0M352.3 246.7h0M361.7 268.2h0M351.2 272.7h0M385.8 249.5h0M330.4 286.6h0M367.1 275.1h0M347.6 282.1h0M365.5 258.5h0M388.4 238.5h0M334.4 282.2h0M377.1 249.5h0M353.4 286.9h0M352.3 273.5h0M357.7 261.8h0M384.1 238.4h0M345.3 275.1h0M337.8 288.4h0M372.8 242.8h0M402.0 243.9h0M375.2 259.7h0M410.8 252.6h0M368.0 275.4h0M358.6 270.4h0M360.4 268.2h0M436.3 222.0h0M355.1 264.8h0M401.4 222.3h0M402.3 255.3h0M418.4 226.6h0M339.0 285.2h0M401.7 251.2h0M327.7 283.9h0M403.6 231.1h0M371.2 260.0h0M385.4 232.7h0M362.0 265.6h0M387.3 249.5h0M367.6 274.1h0M416.1 231.0h0M371.9 247.6h0M413.2 243.0h0M365.3 267.1h0M339.8 277.4h0M407.5 220.9h0M353.4 265.3h0M388.5 249.4h0M361.0 269.1h0M391.2 243.1h0M393.7 247.4h0M330.5 285.7h0M416.2 247.8h0M365.7 257.3h0M415.7 239.9h0M412.6 229.9h0M415.1 222.8h0M410.7 241.0h0M372.0 266.9h0M345.4 269.2h0M395.5 241.4h0M441.2 219.7h0M353.6 277.7h0M415.3 233.4h0M324.5 281.2h0M401.0 224.8h0M371.0 255.5h0M413.1 248.4h0M379.5 245.9h0M333.6 278.6h0M360.1 255.8h0M326.2 289.2h0M415.5 217.5h0M382.0 243.2h0M366.4 248.8h0M435.6 222.7h0M346.5 255.1h0M389.5 230.5h0M387.1 224.4h0M346.6 274.8h0M424.4 233.0h0M390.8 235.1h0M342.1 280.0h0M376.7 231.0h0M362.2 255.4h0M385.5 234.7h0M397.7 231.0h0M422.3 225.5h0M379.3 245.5h0M357.2 280.5h0M350.2 265.5h0M434.0 234.5h0M350.6 254.2h0M360.4 261.6h0M349.6 259.0h0M353.2 247.9h0M389.6 221.7h0M361.7 272.0h0M396.5 236.1h0M383.4 227.1h0M398.5 237.5h0M394.5 248.6h0M394.0 258.4h0M363.0 255.8h0M351.3 247.3h0M376.8 255.8h0M336.3 277.3h0M359.1 261.4h0M379.3 254.6h0M337.4 279.8h0M371.5 270.0h0M387.3 238.2h0M338.3 271.3h0M351.2 268.4h0M365.6 257.7h0M365.7 267.1h0M393.3 239.7h0M363.4 268.1h0M351.5 269.6h0M421.0 223.8h0M420.2 253.4h0M363.1 278.8h0M409.3 238.2h0M397.1 265.4h0M419.7 221.7h0M368.9 269.8h0M359.0 254.9h0M418.6 225.7h0M373.7 252.5h0M360.5 254.7h0M419.0 223.4h0M368.5 264.0h0M423.6 225.2h0M439.3 225.1h0M418.3 230.0h0M395.0 248.5h0M430.3 223.6h0M393.4 248.2h0M375.3 251.7h0M388.2 258.8h0M356.4 261.8h0M412.7 233.9h0M369.5 261.3h0M440.6 226.1h0M361.8 252.2h0M357.4 274.5h0M371.8 257.6h0M371.4 260.5h0M358.9 272.7h0M381.4 248.8h0M388.1 237.0h0M389.6 253.7h0M343.2 276.5h0M366.8 266.0h0M394.0 239.5h0M368.9 258.9h0M389.6 248.9h0M436.5 219.4h0M373.1 249.1h0M361.0 261.7h0M432.1 227.7h0M442.6 215.6h0M397.0 242.7h0M360.2 264.5h0M433.9 227.3h0M396.0 232.7h0M366.8 267.1h0M375.3 259.7h0M395.8 233.3h0M376.7 262.8h0M391.2 226.6h0M381.9 239.1h0M409.9 236.5h0M354.0 269.2h0M341.3 286.3h0M355.0 254.5h0M401.0 251.8h0M421.7 219.4h0M409.4 251.8h0M381.1 267.4h0M370.7 247.2h0M377.9 257.5h0M356.5 268.7h0M388.9 243.8h0M420.5 241.2h0M401.8 229.3h0M385.7 239.0h0M389.4 255.3h0M421.6 224.7h0M422.5 225.5h0M349.6 254.2h0M330.1 284.9h0M424.4 224.6h0M441.9 218.8h0M335.8 287.2h0M350.8 269.3h0M397.7 246.5h0M403.0 251.4h0M345.3 261.5h0M439.0 218.2h0M396.5 232.2h0M377.7 247.4h0M339.9 257.6h0M432.3 221.1h0M434.8 226.6h0M400.8 234.3h0M427.2 252.3h0M421.6 228.9h0M398.6 237.4h0M334.4 261.8h0M418.4 227.9h0M384.6 236.5h0M427.3 241.0h0M358.3 264.6h0M321.9 289.0h0M389.2 240.3h0M348.5 265.2h0M352.7 277.4h0M407.0 240.2h0M396.1 243.8h0M361.9 259.6h0M386.4 252.6h0M337.8 287.4h0M369.6 260.2h0M379.1 262.2h0M387.9 250.0h0M387.4 236.7h0M386.1 232.2h0M394.9 233.5h0M427.2 249.0h0M361.9 264.8h0M363.5 260.7h0M361.1 257.3h0M394.0 263.0h0M336.4 280.0h0M352.0 249.5h0M359.0 263.0h0M347.6 281.3h0M357.0 275.7h0M330.6 284.4h0M370.8 251.3h0M343.1 264.0h0M363.9 260.2h0M359.0 270.3h0M359.5 274.7h0M323.2 277.7h0M351.1 262.0h0M350.9 274.1h0M327.5 291.2h0M386.8 248.2h0M411.6 224.8h0M369.5 280.5h0M410.9 225.3h0M350.5 271.2h0M394.0 264.2h0M332.4 282.5h0M369.7 260.3h0M404.9 229.8h0M432.6 219.3h0M401.8 231.1h0M432.2 226.5h0M374.5 248.6h0M440.6 217.0h0M330.7 276.7h0M345.2 264.8h0M388.3 230.7h0M371.6 264.4h0M362.1 263.1h0M353.2 274.4h0M361.2 261.3h0M360.1 250.0h0M330.7 269.0h0M367.3 250.4h0M400.6 232.9h0M342.9 279.7h0M436.4 221.3h0M436.1 238.2h0M389.9 242.7h0M433.0 227.8h0M346.1 276.1h0M432.0 222.7h0M387.1 254.9h0M368.6 264.7h0M406.0 238.2h0M392.7 261.8h0M396.4 233.7h0M364.1 268.3h0M361.6 275.0h0M395.3 244.5h0M374.0 259.5h0M380.6 248.5h0M354.2 272.9h0M334.7 285.6h0M347.0 252.1h0M359.4 253.4h0M335.7 275.8h0M357.8 258.9h0M353.6 263.1h0M427.9 226.7h0M350.6 268.5h0M355.6 263.5h0M398.5 245.8h0M344.2 279.3h0M337.8 279.7h0M358.7 265.3h0M359.3 256.4h0M388.9 222.8h0M363.2 249.9h0M343.5 252.6h0M415.1 241.3h0M328.8 276.4h0M370.2 255.1h0M361.3 280.5h0M383.8 240.5h0M394.6 234.5h0M396.3 241.3h0M377.7 247.9h0M385.4 262.6h0M375.6 241.5h0M408.7 233.0h0M362.5 260.7h0M373.3 274.3h0M395.0 238.3h0M387.4 236.4h0M378.4 264.4h0M385.6 224.1h0M371.6 272.6h0M394.4 232.2h0M383.3 244.9h0M338.2 279.7h0M341.0 270.9h0M345.7 257.5h0M388.6 261.0h0M378.5 270.4h0M376.4 245.7h0M359.5 272.3h0M370.9 253.1h0M410.4 247.2h0M355.6 273.8h0M351.4 265.5h0M347.5 264.5h0M355.3 262.1h0M334.5 279.9h0M353.4 266.3h0M390.3 256.1h0M372.2 243.9h0M348.8 268.5h0M375.7 264.1h0M365.1 265.1h0M331.7 276.5h0M334.7 268.7h0M332.2 289.9h0M403.7 217.3h0M396.3 239.9h0M353.6 265.1h0M430.6 231.2h0M387.3 238.0h0M340.9 283.3h0M347.3 272.1h0M407.2 234.5h0M388.8 233.6h0M440.5 219.8h0M375.1 262.6h0M390.5 263.9h0M440.3 232.1h0M361.8 284.9h0M370.2 256.8h0M382.8 237.0h0M360.0 259.0h0M376.3 245.9h0M384.5 246.7h0M354.3 275.2h0M392.8 265.6h0M376.7 261.2h0M361.3 270.6h0M338.5 276.9h0M382.4 250.3h0M367.8 264.3h0M417.0 221.1h0M369.2 256.5h0M373.7 261.1h0M444.0 229.6h0M385.0 245.0h0M350.0 269.4h0M354.2 275.4h0M420.7 244.8h0M353.8 268.0h0M377.9 261.2h0M362.2 268.7h0M381.4 244.9h0M397.0 238.5h0M358.7 263.5h0M382.7 234.3h0M353.5 265.1h0M404.8 249.8h0M361.2 278.5h0M419.0 239.3h0M371.3 268.4h0M409.6 219.1h0M438.5 248.0h0M438.2 220.5h0M411.0 241.7h0M361.2 265.0h0M360.8 255.4h0M399.0 231.7h0M336.0 267.8h0M366.0 270.8h0M376.0 235.6h0M358.7 268.6h0M398.5 234.2h0M437.8 228.4h0M395.3 262.7h0M434.0 221.7h0M378.4 252.4h0M349.0 280.5h0M397.9 239.5h0M357.0 260.1h0M362.5 257.6h0M362.0 263.1h0M348.3 273.7h0M388.5 253.3h0M349.1 269.0h0M354.4 261.8h0M358.9 254.5h0M337.4 273.1h0M385.7 246.8h0M443.3 229.4h0M361.0 244.4h0M419.1 220.9h0M424.1 230.4h0M356.3 259.8h0M367.4 269.6h0M406.1 247.2h0M386.1 242.9h0M435.6 217.3h0M360.7 263.2h0M391.0 269.0h0M436.5 222.1h0M378.1 257.2h0M345.7 276.1h0M379.2 260.0h0M364.2 276.8h0M373.3 251.2h0M371.4 265.3h0M439.9 221.9h0M324.0 285.6h0M374.9 239.7h0M402.1 240.5h0M377.0 256.2h0M374.8 254.2h0M359.7 257.2h0M369.9 278.7h0M359.9 258.3h0M346.9 277.9h0M348.4 281.1h0M344.4 267.4h0M364.9 242.9h0M406.5 244.5h0M371.7 239.5h0M370.8 256.4h0M402.1 232.0h0M400.3 235.9h0M388.0 239.2h0M381.1 265.2h0M363.2 264.1h0M337.2 278.5h0M393.8 249.9h0M337.9 276.1h0M397.4 241.2h0M366.0 243.0h0M410.0 246.0h0M401.9 229.9h0M355.5 278.6h0M419.4 227.6h0M411.3 247.1h0M390.8 234.1h0M369.9 272.4h0M386.5 235.3h0M355.0 273.9h0M405.4 238.2h0M361.5 269.6h0M331.7 285.1h0M364.9 262.6h0M383.0 270.9h0M363.5 255.3h0M337.5 280.0h0M366.5 266.9h0M383.9 235.6h0M385.6 241.0h0M361.6 256.6h0M332.4 266.4h0M374.5 261.5h0M358.1 276.7h0M364.6 267.9h0M375.1 239.6h0M378.1 252.5h0M329.3 271.9h0M415.3 223.0h0M328.4 287.8h0M361.6 270.4h0M395.0 235.5h0M337.5 284.1h0M368.3 262.2h0M364.4 254.1h0M357.5 274.3h0M363.9 276.6h0M380.5 260.0h0M356.4 274.8h0M385.1 242.0h0M403.1 234.8h0M359.3 254.5h0M417.1 225.2h0M343.8 280.3h0M366.6 266.5h0M394.8 262.2h0M418.6 232.3h0M381.0 273.3h0M352.9 246.3h0M354.0 249.2h0M393.0 242.7h0M364.4 251.3h0M422.8 231.9h0M363.4 268.9h0M411.8 239.9h0M363.4 265.8h0M324.3 277.8h0M391.7 241.7h0M373.1 253.4h0M400.6 223.6h0M389.0 262.0h0M335.4 274.7h0M386.8 240.4h0M396.4 240.9h0M439.6 220.6h0M383.7 241.8h0M386.8 259.4h0M408.2 232.6h0M367.3 265.7h0M345.7 264.2h0M369.3 243.4h0M366.3 270.8h0M352.2 280.9h0M422.8 238.2h0M379.8 250.9h0M361.9 259.2h0M420.8 243.3h0M358.2 252.3h0M361.5 266.7h0M377.4 261.8h0M378.0 243.6h0M391.4 250.4h0M353.1 247.9h0M442.8 226.7h0M340.6 286.9h0M364.1 260.6h0M360.6 250.5h0M355.8 266.9h0M418.6 224.9h0M379.6 247.2h0M422.6 234.3h0M441.9 227.9h0M342.9 275.9h0M402.1 246.5h0M334.2 280.1h0M329.8 289.5h0M327.5 287.4h0M373.1 262.0h0M410.7 251.1h0M398.9 242.4h0M425.1 229.8h0M399.4 236.5h0M350.0 272.7h0M362.3 257.4h0M427.1 231.8h0M402.7 240.0h0M365.3 264.9h0M367.4 262.2h0M381.9 244.5h0M442.5 220.3h0M397.4 246.4h0M352.6 284.7h0M357.0 253.0h0M355.5 280.4h0M352.9 267.5h0M354.7 262.3h0M331.8 280.9h0M381.5 262.5h0M410.1 242.1h0M359.6 273.7h0M411.6 226.6h0M417.6 244.0h0M402.1 243.4h0M414.6 239.7h0M331.6 272.6h0M394.3 233.5h0M385.1 251.0h0M434.5 251.0h0M389.5 249.1h0M338.4 284.6h0M344.4 263.6h0M327.5 287.3h0M325.8 274.9h0M353.3 267.4h0M387.7 247.4h0M339.3 254.5h0M412.7 238.9h0M430.4 222.0h0M387.0 223.9h0M364.5 275.9h0M424.9 222.2h0M379.8 264.4h0M359.5 253.7h0M360.0 262.2h0M353.9 269.7h0M352.1 270.1h0M408.7 222.0h0M351.3 275.3h0M372.8 254.9h0M360.9 256.0h0M349.8 254.8h0M436.6 234.6h0M393.6 231.6h0M392.9 243.7h0M369.0 261.9h0M333.7 280.3h0M338.2 282.3h0M380.7 248.2h0M344.2 261.8h0M345.9 274.6h0M351.6 274.6h0M396.7 242.1h0M389.3 231.0h0M355.1 265.5h0M408.7 244.9h0M390.1 264.6h0M371.8 264.5h0M428.0 223.6h0M397.2 224.1h0M394.5 239.8h0M363.0 257.7h0M337.2 277.8h0M345.6 267.4h0M355.2 264.4h0M350.7 253.7h0M371.7 266.9h0M330.6 271.9h0M392.8 251.0h0M429.6 219.5h0M440.4 216.8h0M370.6 270.2h0M381.4 261.5h0M392.4 234.4h0M363.2 265.6h0M397.5 231.4h0M399.9 234.0h0M378.5 242.3h0M351.1 273.7h0M383.5 240.6h0M397.6 235.9h0M380.1 262.0h0M395.2 249.8h0M375.8 265.7h0M421.5 223.3h0M415.8 224.3h0M343.2 264.2h0M372.4 257.2h0M352.3 267.5h0M333.4 283.4h0M441.9 219.1h0M385.4 230.6h0M368.8 247.1h0M440.1 229.5h0M346.8 278.3h0M373.5 262.4h0M440.7 235.6h0M444.2 219.5h0M394.7 250.6h0M340.5 277.9h0M336.0 284.0h0M421.5 225.4h0M353.2 267.7h0M394.1 242.0h0M382.4 250.0h0M408.8 257.9h0M345.2 256.1h0M376.8 242.7h0M412.2 220.1h0M404.1 219.6h0M385.2 234.0h0M362.9 270.9h0M395.9 241.4h0M342.7 267.3h0M403.9 250.3h0M410.3 219.4h0M353.2 254.1h0M382.3 228.8h0M387.3 236.0h0M381.8 247.0h0M379.4 263.7h0M348.5 265.2h0M341.8 263.0h0M361.3 255.9h0M364.4 270.7h0M362.6 265.0h0M369.6 264.3h0M346.0 277.3h0M367.0 267.7h0M358.5 269.9h0M379.7 233.2h0M343.0 287.1h0M325.5 283.1h0M362.5 273.6h0M443.2 228.1h0M431.6 219.7h0M393.4 240.6h0M379.2 264.2h0M358.0 268.5h0M433.2 250.0h0M422.4 245.1h0M377.8 273.5h0M334.1 287.4h0M386.9 249.9h0M349.7 280.5h0M346.1 273.7h0M389.6 248.1h0M420.2 233.0h0M369.4 275.8h0M371.3 259.4h0M362.3 254.5h0M345.1 259.0h0M329.1 289.2h0M399.9 237.2h0M349.4 266.4h0M382.3 271.0h0M391.4 269.6h0M398.4 268.7h0M401.1 263.6h0M410.8 259.0h0M417.8 256.7h0M422.6 244.7h0M429.6 249.8h0M438.7 249.8h0M386.1 270.1h0M394.1 269.1h0M323.7 276.1h0M324.8 272.4h0M328.0 264.5h0M331.8 260.9h0M337.7 254.9h0M344.7 248.9h0M384.5 223.5h0M389.3 218.9h0M401.1 217.5h0M410.8 216.6h0M437.7 215.2h0M349.5 233.4h0M353.1 230.7h0M348.6 231.6h0M351.3 234.1h0M348.7 229.0h0M349.6 234.0h0M350.0 230.7h0" stroke="#737373" stroke-width="2.5" stroke-linecap="round" fill="none"/><path d="M343.7 252.8h0M332.1 287.6h0M331.8 288.8h0M345.8 256.7h0M326.2 291.2h0M405.8 235.8h0M421.6 219.4h0M333.3 275.1h0M423.5 228.0h0M339.5 284.5h0M373.0 243.1h0M402.3 220.0h0M421.2 223.7h0M388.5 239.6h0M346.6 271.0h0M326.5 279.4h0M389.3 230.1h0M346.0 278.3h0M402.0 219.1h0M332.0 276.9h0M367.2 272.7h0M442.5 216.5h0M388.4 224.7h0M422.2 228.2h0M365.5 271.9h0M363.6 259.0h0M403.7 251.7h0M339.5 266.7h0M376.1 244.4h0M363.3 244.7h0M426.3 225.7h0M360.9 247.7h0M401.3 228.7h0M358.2 261.6h0M329.3 282.8h0M366.1 260.6h0M337.0 268.1h0M363.8 266.8h0M357.2 264.8h0M359.9 271.5h0M420.5 232.1h0M363.5 248.2h0M381.1 228.7h0M370.6 259.5h0M385.0 246.0h0M365.4 245.1h0M333.8 285.3h0M393.9 226.8h0M366.6 265.2h0M332.3 270.7h0M418.1 228.5h0M405.1 243.0h0M433.4 227.6h0M337.0 283.2h0M386.0 237.8h0M339.8 282.7h0M331.2 292.2h0M396.8 254.0h0M391.6 255.4h0M398.7 230.8h0M398.6 246.1h0M352.5 259.2h0M376.6 246.2h0M370.3 249.3h0M388.3 232.3h0M397.3 234.6h0M350.1 285.1h0M388.0 242.0h0M379.6 255.3h0M389.6 239.2h0M392.9 243.7h0M421.9 249.2h0M410.4 233.2h0M410.3 236.6h0M390.5 261.2h0M377.0 260.7h0M377.0 243.7h0M361.1 274.5h0M387.2 247.8h0M412.0 230.3h0M370.5 252.1h0M376.3 241.8h0M359.3 268.4h0M364.1 243.1h0M338.8 261.1h0M392.2 243.6h0M343.5 272.5h0M381.7 249.2h0M357.2 273.9h0M378.8 249.1h0M434.9 221.6h0M402.6 250.1h0M329.3 282.5h0M404.8 247.1h0M386.5 242.9h0M348.5 266.9h0M416.0 234.4h0M328.7 283.9h0M392.6 225.6h0M417.2 225.1h0M434.5 219.6h0M384.3 240.5h0M392.9 237.8h0M395.2 241.5h0M404.2 253.1h0M346.4 267.1h0M441.7 219.2h0M374.8 260.8h0M382.8 246.0h0M362.0 282.8h0M388.5 240.9h0M380.7 271.5h0M429.9 224.9h0M427.3 225.3h0M326.3 286.8h0M404.8 226.9h0M361.8 258.5h0M424.4 221.0h0M398.2 236.9h0M359.7 280.7h0M364.2 264.6h0M360.7 272.5h0M380.5 245.5h0M378.6 251.0h0M417.9 227.7h0M322.2 289.8h0M344.9 277.7h0M396.7 248.0h0M365.2 259.5h0M431.5 228.7h0M376.2 264.9h0M350.9 265.4h0M417.1 227.0h0M388.3 246.8h0M422.6 230.0h0M381.5 243.5h0M321.8 286.0h0M372.0 260.9h0M372.0 255.1h0M363.8 273.6h0M402.3 236.9h0M376.4 261.2h0M336.8 274.9h0M364.0 269.8h0M342.3 281.8h0M374.5 246.1h0M396.1 232.9h0M394.1 240.4h0M382.4 259.2h0M362.4 268.3h0M383.1 244.7h0M372.4 247.2h0M391.9 265.6h0M390.0 247.5h0M356.5 267.4h0M429.3 247.1h0M337.0 274.4h0M387.2 228.6h0M386.4 235.4h0M386.8 235.7h0M344.5 278.6h0M375.8 259.0h0M396.1 247.2h0M376.5 246.6h0M403.5 246.4h0M341.7 281.4h0M427.1 229.4h0M367.7 252.3h0M418.1 239.9h0M352.3 246.7h0M361.7 268.2h0M351.2 272.7h0M385.8 249.5h0M330.4 286.6h0M367.1 275.1h0M347.6 282.1h0M365.5 258.5h0M388.4 238.5h0M334.4 282.2h0M377.1 249.5h0M353.4 286.9h0M352.3 273.5h0M357.7 261.8h0M384.1 238.4h0M345.3 275.1h0M337.8 288.4h0M372.8 242.8h0M402.0 243.9h0M375.2 259.7h0M410.8 252.6h0M368.0 275.4h0M358.6 270.4h0M360.4 268.2h0M436.3 222.0h0M355.1 264.8h0M401.4 222.3h0M402.3 255.3h0M418.4 226.6h0M339.0 285.2h0M401.7 251.2h0M327.7 283.9h0M403.6 231.1h0M371.2 260.0h0M385.4 232.7h0M362.0 265.6h0M387.3 249.5h0M367.6 274.1h0M416.1 231.0h0M371.9 247.6h0M413.2 243.0h0M365.3 267.1h0M339.8 277.4h0M407.5 220.9h0M353.4 265.3h0M388.5 249.4h0M361.0 269.1h0M391.2 243.1h0M393.7 247.4h0M330.5 285.7h0M416.2 247.8h0M365.7 257.3h0M415.7 239.9h0M412.6 229.9h0M415.1 222.8h0M410.7 241.0h0M372.0 266.9h0M345.4 269.2h0M395.5 241.4h0M441.2 219.7h0M353.6 277.7h0M415.3 233.4h0M324.5 281.2h0M401.0 224.8h0M371.0 255.5h0M413.1 248.4h0M379.5 245.9h0M333.6 278.6h0M360.1 255.8h0M326.2 289.2h0M415.5 217.5h0M382.0 243.2h0M366.4 248.8h0M435.6 222.7h0M346.5 255.1h0M389.5 230.5h0M387.1 224.4h0M346.6 274.8h0M424.4 233.0h0M390.8 235.1h0M342.1 280.0h0M376.7 231.0h0M362.2 255.4h0M385.5 234.7h0M397.7 231.0h0M422.3 225.5h0M379.3 245.5h0M357.2 280.5h0M350.2 265.5h0M434.0 234.5h0M350.6 254.2h0M360.4 261.6h0M349.6 259.0h0M353.2 247.9h0M389.6 221.7h0M361.7 272.0h0M396.5 236.1h0M383.4 227.1h0M398.5 237.5h0M394.5 248.6h0M394.0 258.4h0M363.0 255.8h0M351.3 247.3h0M376.8 255.8h0M336.3 277.3h0M359.1 261.4h0M379.3 254.6h0M337.4 279.8h0M371.5 270.0h0M387.3 238.2h0M338.3 271.3h0M351.2 268.4h0M365.6 257.7h0M365.7 267.1h0M393.3 239.7h0M363.4 268.1h0M351.5 269.6h0M421.0 223.8h0M420.2 253.4h0M363.1 278.8h0M409.3 238.2h0M397.1 265.4h0M419.7 221.7h0M368.9 269.8h0M359.0 254.9h0M418.6 225.7h0M373.7 252.5h0M360.5 254.7h0M419.0 223.4h0M368.5 264.0h0M423.6 225.2h0M439.3 225.1h0M418.3 230.0h0M395.0 248.5h0M430.3 223.6h0M393.4 248.2h0M375.3 251.7h0M388.2 258.8h0M356.4 261.8h0M412.7 233.9h0M369.5 261.3h0M440.6 226.1h0M361.8 252.2h0M357.4 274.5h0M371.8 257.6h0M371.4 260.5h0M358.9 272.7h0M381.4 248.8h0M388.1 237.0h0M389.6 253.7h0M343.2 276.5h0M366.8 266.0h0M394.0 239.5h0M368.9 258.9h0M389.6 248.9h0M436.5 219.4h0M373.1 249.1h0M361.0 261.7h0M432.1 227.7h0M442.6 215.6h0M397.0 242.7h0M360.2 264.5h0M433.9 227.3h0M396.0 232.7h0M366.8 267.1h0M375.3 259.7h0M395.8 233.3h0M376.7 262.8h0M391.2 226.6h0M381.9 239.1h0M409.9 236.5h0M354.0 269.2h0M341.3 286.3h0M355.0 254.5h0M401.0 251.8h0M421.7 219.4h0M409.4 251.8h0M381.1 267.4h0M370.7 247.2h0M377.9 257.5h0M356.5 268.7h0M388.9 243.8h0M420.5 241.2h0M401.8 229.3h0M385.7 239.0h0M389.4 255.3h0M421.6 224.7h0M422.5 225.5h0M349.6 254.2h0M330.1 284.9h0M424.4 224.6h0M441.9 218.8h0M335.8 287.2h0M350.8 269.3h0M397.7 246.5h0M403.0 251.4h0M345.3 261.5h0M439.0 218.2h0M396.5 232.2h0M377.7 247.4h0M339.9 257.6h0M432.3 221.1h0M434.8 226.6h0M400.8 234.3h0M427.2 252.3h0M421.6 228.9h0M398.6 237.4h0M334.4 261.8h0M418.4 227.9h0M384.6 236.5h0M427.3 241.0h0M358.3 264.6h0M321.9 289.0h0M389.2 240.3h0M348.5 265.2h0M352.7 277.4h0M407.0 240.2h0M396.1 243.8h0M361.9 259.6h0M386.4 252.6h0M337.8 287.4h0M369.6 260.2h0M379.1 262.2h0M387.9 250.0h0M387.4 236.7h0M386.1 232.2h0M394.9 233.5h0M427.2 249.0h0M361.9 264.8h0M363.5 260.7h0M361.1 257.3h0M394.0 263.0h0M336.4 280.0h0M352.0 249.5h0M359.0 263.0h0M347.6 281.3h0M357.0 275.7h0M330.6 284.4h0M370.8 251.3h0M343.1 264.0h0M363.9 260.2h0M359.0 270.3h0M359.5 274.7h0M323.2 277.7h0M351.1 262.0h0M350.9 274.1h0M327.5 291.2h0M386.8 248.2h0M411.6 224.8h0M369.5 280.5h0M410.9 225.3h0M350.5 271.2h0M394.0 264.2h0M332.4 282.5h0M369.7 260.3h0M404.9 229.8h0M432.6 219.3h0M401.8 231.1h0M432.2 226.5h0M374.5 248.6h0M440.6 217.0h0M330.7 276.7h0M345.2 264.8h0M388.3 230.7h0M371.6 264.4h0M362.1 263.1h0M353.2 274.4h0M361.2 261.3h0M360.1 250.0h0M330.7 269.0h0M367.3 250.4h0M400.6 232.9h0M342.9 279.7h0M436.4 221.3h0M436.1 238.2h0M389.9 242.7h0M433.0 227.8h0M346.1 276.1h0M432.0 222.7h0M387.1 254.9h0M368.6 264.7h0M406.0 238.2h0M392.7 261.8h0M396.4 233.7h0M364.1 268.3h0M361.6 275.0h0M395.3 244.5h0M374.0 259.5h0M380.6 248.5h0M354.2 272.9h0M334.7 285.6h0M347.0 252.1h0M359.4 253.4h0M335.7 275.8h0M357.8 258.9h0M353.6 263.1h0M427.9 226.7h0M350.6 268.5h0M355.6 263.5h0M398.5 245.8h0M344.2 279.3h0M337.8 279.7h0M358.7 265.3h0M359.3 256.4h0M388.9 222.8h0M363.2 249.9h0M343.5 252.6h0M415.1 241.3h0M328.8 276.4h0M370.2 255.1h0M361.3 280.5h0M383.8 240.5h0M394.6 234.5h0M396.3 241.3h0M377.7 247.9h0M385.4 262.6h0M375.6 241.5h0M408.7 233.0h0M362.5 260.7h0M373.3 274.3h0M395.0 238.3h0M387.4 236.4h0M378.4 264.4h0M385.6 224.1h0M371.6 272.6h0M394.4 232.2h0M383.3 244.9h0M338.2 279.7h0M341.0 270.9h0M345.7 257.5h0M388.6 261.0h0M378.5 270.4h0M376.4 245.7h0M359.5 272.3h0M370.9 253.1h0M410.4 247.2h0M355.6 273.8h0M351.4 265.5h0M347.5 264.5h0M355.3 262.1h0M334.5 279.9h0M353.4 266.3h0M390.3 256.1h0M372.2 243.9h0M348.8 268.5h0M375.7 264.1h0M365.1 265.1h0M331.7 276.5h0M334.7 268.7h0M332.2 289.9h0M403.7 217.3h0M396.3 239.9h0M353.6 265.1h0M430.6 231.2h0M387.3 238.0h0M340.9 283.3h0M347.3 272.1h0M407.2 234.5h0M388.8 233.6h0M440.5 219.8h0M375.1 262.6h0M390.5 263.9h0M440.3 232.1h0M361.8 284.9h0M370.2 256.8h0M382.8 237.0h0M360.0 259.0h0M376.3 245.9h0M384.5 246.7h0M354.3 275.2h0M392.8 265.6h0M376.7 261.2h0M361.3 270.6h0M338.5 276.9h0M382.4 250.3h0M367.8 264.3h0M417.0 221.1h0M369.2 256.5h0M373.7 261.1h0M444.0 229.6h0M385.0 245.0h0M350.0 269.4h0M354.2 275.4h0M420.7 244.8h0M353.8 268.0h0M377.9 261.2h0M362.2 268.7h0M381.4 244.9h0M397.0 238.5h0M358.7 263.5h0M382.7 234.3h0M353.5 265.1h0M404.8 249.8h0M361.2 278.5h0M419.0 239.3h0M371.3 268.4h0M409.6 219.1h0M438.5 248.0h0M438.2 220.5h0M411.0 241.7h0M361.2 265.0h0M360.8 255.4h0M399.0 231.7h0M336.0 267.8h0M366.0 270.8h0M376.0 235.6h0M358.7 268.6h0M398.5 234.2h0M437.8 228.4h0M395.3 262.7h0M434.0 221.7h0M378.4 252.4h0M349.0 280.5h0M397.9 239.5h0M357.0 260.1h0M362.5 257.6h0M362.0 263.1h0M348.3 273.7h0M388.5 253.3h0M349.1 269.0h0M354.4 261.8h0M358.9 254.5h0M337.4 273.1h0M385.7 246.8h0M443.3 229.4h0M361.0 244.4h0M419.1 220.9h0M424.1 230.4h0M356.3 259.8h0M367.4 269.6h0M406.1 247.2h0M386.1 242.9h0M435.6 217.3h0M360.7 263.2h0M391.0 269.0h0M436.5 222.1h0M378.1 257.2h0M345.7 276.1h0M379.2 260.0h0M364.2 276.8h0M373.3 251.2h0M371.4 265.3h0M439.9 221.9h0M324.0 285.6h0M374.9 239.7h0M402.1 240.5h0M377.0 256.2h0M374.8 254.2h0M359.7 257.2h0M369.9 278.7h0M359.9 258.3h0M346.9 277.9h0M348.4 281.1h0M344.4 267.4h0M364.9 242.9h0M406.5 244.5h0M371.7 239.5h0M370.8 256.4h0M402.1 232.0h0M400.3 235.9h0M388.0 239.2h0M381.1 265.2h0M363.2 264.1h0M337.2 278.5h0M393.8 249.9h0M337.9 276.1h0M397.4 241.2h0M366.0 243.0h0M410.0 246.0h0M401.9 229.9h0M355.5 278.6h0M419.4 227.6h0M411.3 247.1h0M390.8 234.1h0M369.9 272.4h0M386.5 235.3h0M355.0 273.9h0M405.4 238.2h0M361.5 269.6h0M331.7 285.1h0M364.9 262.6h0M383.0 270.9h0M363.5 255.3h0M337.5 280.0h0M366.5 266.9h0M383.9 235.6h0M385.6 241.0h0M361.6 256.6h0M332.4 266.4h0M374.5 261.5h0M358.1 276.7h0M364.6 267.9h0M375.1 239.6h0M378.1 252.5h0M329.3 271.9h0M415.3 223.0h0M328.4 287.8h0M361.6 270.4h0M395.0 235.5h0M337.5 284.1h0M368.3 262.2h0M364.4 254.1h0M357.5 274.3h0M363.9 276.6h0M380.5 260.0h0M356.4 274.8h0M385.1 242.0h0M403.1 234.8h0M359.3 254.5h0M417.1 225.2h0M343.8 280.3h0M366.6 266.5h0M394.8 262.2h0M418.6 232.3h0M381.0 273.3h0M352.9 246.3h0M354.0 249.2h0M393.0 242.7h0M364.4 251.3h0M422.8 231.9h0M363.4 268.9h0M411.8 239.9h0M363.4 265.8h0M324.3 277.8h0M391.7 241.7h0M373.1 253.4h0M400.6 223.6h0M389.0 262.0h0M335.4 274.7h0M386.8 240.4h0M396.4 240.9h0M439.6 220.6h0M383.7 241.8h0M386.8 259.4h0M408.2 232.6h0M367.3 265.7h0M345.7 264.2h0M369.3 243.4h0M366.3 270.8h0M352.2 280.9h0M422.8 238.2h0M379.8 250.9h0M361.9 259.2h0M420.8 243.3h0M358.2 252.3h0M361.5 266.7h0M377.4 261.8h0M378.0 243.6h0M391.4 250.4h0M353.1 247.9h0M442.8 226.7h0M340.6 286.9h0M364.1 260.6h0M360.6 250.5h0M355.8 266.9h0M418.6 224.9h0M379.6 247.2h0M422.6 234.3h0M441.9 227.9h0M342.9 275.9h0M402.1 246.5h0M334.2 280.1h0M329.8 289.5h0M327.5 287.4h0M373.1 262.0h0M410.7 251.1h0M398.9 242.4h0M425.1 229.8h0M399.4 236.5h0M350.0 272.7h0M362.3 257.4h0M427.1 231.8h0M402.7 240.0h0M365.3 264.9h0M367.4 262.2h0M381.9 244.5h0M442.5 220.3h0M397.4 246.4h0M352.6 284.7h0M357.0 253.0h0M355.5 280.4h0M352.9 267.5h0M354.7 262.3h0M331.8 280.9h0M381.5 262.5h0M410.1 242.1h0M359.6 273.7h0M411.6 226.6h0M417.6 244.0h0M402.1 243.4h0M414.6 239.7h0M331.6 272.6h0M394.3 233.5h0M385.1 251.0h0M434.5 251.0h0M389.5 249.1h0M338.4 284.6h0M344.4 263.6h0M327.5 287.3h0M325.8 274.9h0M353.3 267.4h0M387.7 247.4h0M339.3 254.5h0M412.7 238.9h0M430.4 222.0h0M387.0 223.9h0M364.5 275.9h0M424.9 222.2h0M379.8 264.4h0M359.5 253.7h0M360.0 262.2h0M353.9 269.7h0M352.1 270.1h0M408.7 222.0h0M351.3 275.3h0M372.8 254.9h0M360.9 256.0h0M349.8 254.8h0M436.6 234.6h0M393.6 231.6h0M392.9 243.7h0M369.0 261.9h0M333.7 280.3h0M338.2 282.3h0M380.7 248.2h0M344.2 261.8h0M345.9 274.6h0M351.6 274.6h0M396.7 242.1h0M389.3 231.0h0M355.1 265.5h0M408.7 244.9h0M390.1 264.6h0M371.8 264.5h0M428.0 223.6h0M397.2 224.1h0M394.5 239.8h0M363.0 257.7h0M337.2 277.8h0M345.6 267.4h0M355.2 264.4h0M350.7 253.7h0M371.7 266.9h0M330.6 271.9h0M392.8 251.0h0M429.6 219.5h0M440.4 216.8h0M370.6 270.2h0M381.4 261.5h0M392.4 234.4h0M363.2 265.6h0M397.5 231.4h0M399.9 234.0h0M378.5 242.3h0M351.1 273.7h0M383.5 240.6h0M397.6 235.9h0M380.1 262.0h0M395.2 249.8h0M375.8 265.7h0M421.5 223.3h0M415.8 224.3h0M343.2 264.2h0M372.4 257.2h0M352.3 267.5h0M333.4 283.4h0M441.9 219.1h0M385.4 230.6h0M368.8 247.1h0M440.1 229.5h0M346.8 278.3h0M373.5 262.4h0M440.7 235.6h0M444.2 219.5h0M394.7 250.6h0M340.5 277.9h0M336.0 284.0h0M421.5 225.4h0M353.2 267.7h0M394.1 242.0h0M382.4 250.0h0M408.8 257.9h0M345.2 256.1h0M376.8 242.7h0M412.2 220.1h0M404.1 219.6h0M385.2 234.0h0M362.9 270.9h0M395.9 241.4h0M342.7 267.3h0M403.9 250.3h0M410.3 219.4h0M353.2 254.1h0M382.3 228.8h0M387.3 236.0h0M381.8 247.0h0M379.4 263.7h0M348.5 265.2h0M341.8 263.0h0M361.3 255.9h0M364.4 270.7h0M362.6 265.0h0M369.6 264.3h0M346.0 277.3h0M367.0 267.7h0M358.5 269.9h0M379.7 233.2h0M343.0 287.1h0M325.5 283.1h0M362.5 273.6h0M443.2 228.1h0M431.6 219.7h0M393.4 240.6h0M379.2 264.2h0M358.0 268.5h0M433.2 250.0h0M422.4 245.1h0M377.8 273.5h0M334.1 287.4h0M386.9 249.9h0M349.7 280.5h0M346.1 273.7h0M389.6 248.1h0M420.2 233.0h0M369.4 275.8h0M371.3 259.4h0M362.3 254.5h0M345.1 259.0h0M329.1 289.2h0M399.9 237.2h0M349.4 266.4h0M382.3 271.0h0M391.4 269.6h0M398.4 268.7h0M401.1 263.6h0M410.8 259.0h0M417.8 256.7h0M422.6 244.7h0M429.6 249.8h0M438.7 249.8h0M386.1 270.1h0M394.1 269.1h0M323.7 276.1h0M324.8 272.4h0M328.0 264.5h0M331.8 260.9h0M337.7 254.9h0M344.7 248.9h0M384.5 223.5h0M389.3 218.9h0M401.1 217.5h0M410.8 216.6h0M437.7 215.2h0M349.5 233.4h0M353.1 230.7h0M348.6 231.6h0M351.3 234.1h0M348.7 229.0h0M349.6 234.0h0M350.0 230.7h0" stroke="#bdbdbd" stroke-width="1.7" stroke-linecap="round" fill="none"/><rect x="314.6" y="200.0" width="129.5" height="111.1" fill="none" stroke="#2e6ca8" stroke-width="1.5"/><text x="306.0" y="314.3" font-size="9.5" fill="#606060" text-anchor="end">1.3</text><text x="314.6" y="326.3" font-size="9.5" fill="#606060" text-anchor="middle">1.3</text><text x="306.0" y="291.3" font-size="9.5" fill="#606060" text-anchor="end">1.8</text><text x="341.5" y="326.3" font-size="9.5" fill="#606060" text-anchor="middle">1.8</text><text x="306.0" y="268.2" font-size="9.5" fill="#606060" text-anchor="end">2.3</text><text x="368.3" y="326.3" font-size="9.5" fill="#606060" text-anchor="middle">2.3</text><text x="306.0" y="245.2" font-size="9.5" fill="#606060" text-anchor="end">2.8</text><text x="395.2" y="326.3" font-size="9.5" fill="#606060" text-anchor="middle">2.8</text><text x="306.0" y="222.1" font-size="9.5" fill="#606060" text-anchor="end">3.3</text><text x="422.1" y="326.3" font-size="9.5" fill="#606060" text-anchor="middle">3.3</text><text x="379.4" y="341.0" font-size="10.8" font-weight="bold" fill="#595959" text-anchor="middle" xml:space="preserve">Groundtruth  (kW)</text><text transform="translate(289.4 255.6) rotate(-90)" font-size="10.8" font-weight="bold" fill="#595959" text-anchor="middle" xml:space="preserve" x="0" y="0">Prediction  (kW)</text><text x="380.0" y="195.9" font-size="18.6" font-weight="bold" fill="#505050" text-anchor="middle">GRU</text><text x="311.0" y="196.0" font-size="8.5" fill="#2a2a2a">1×10<tspan font-size="5.5" dy="-3.2">3</tspan></text><text x="438.4" y="320.6" font-size="8.5" fill="#2a2a2a">1×10<tspan font-size="5.5" dy="-3.2">3</tspan></text></g>
</svg></body></html>
